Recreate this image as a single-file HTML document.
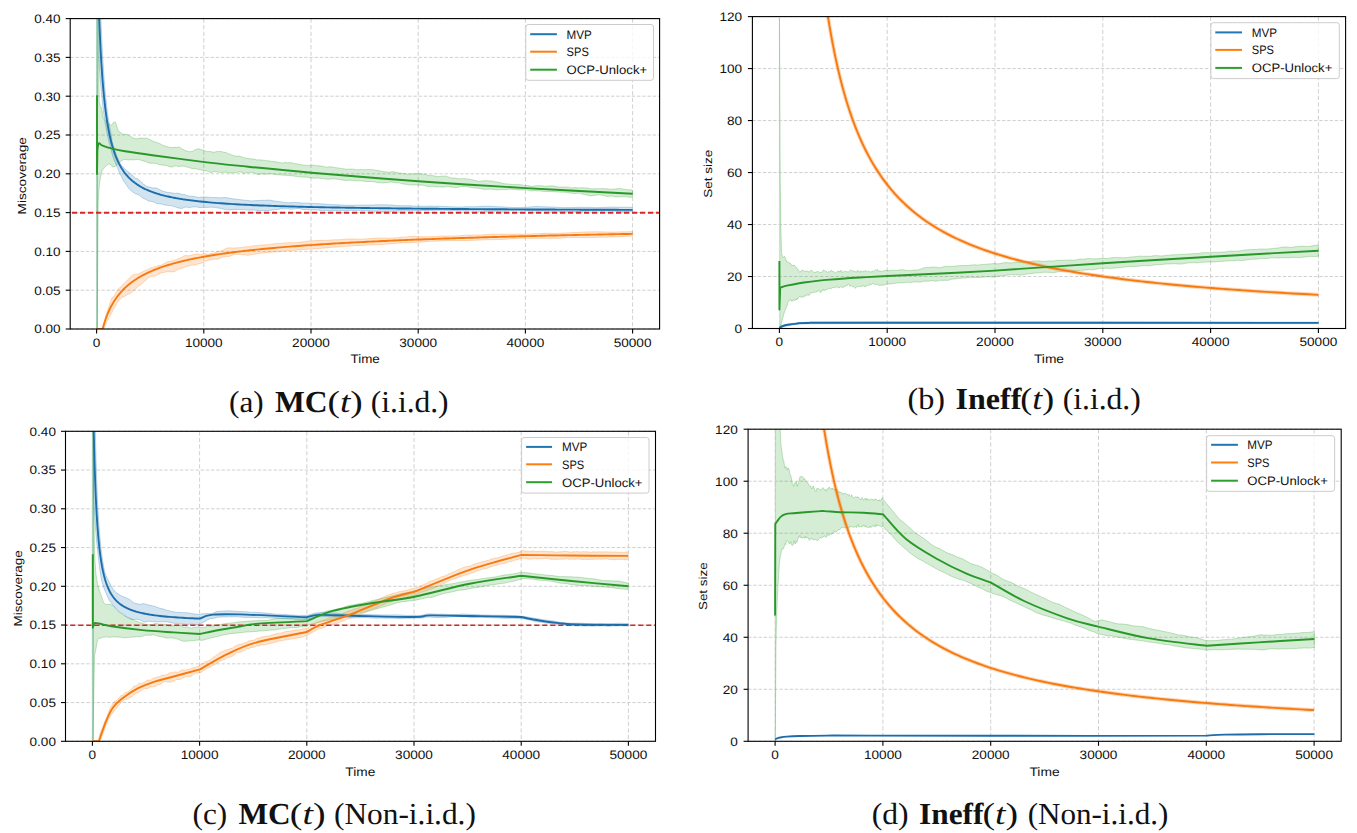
<!DOCTYPE html>
<html><head><meta charset="utf-8"><title>Figure</title>
<style>html,body{margin:0;padding:0;background:#fff;width:1357px;height:833px;overflow:hidden}svg{display:block}text{fill:#111;text-rendering:geometricPrecision}</style>
</head><body>
<svg width="1357" height="833" viewBox="0 0 1357 833">
<rect width="1357" height="833" fill="#fff"/>
<clipPath id="ca"><rect x="70.2" y="18.6" width="589.4" height="310.4"/></clipPath>
<line x1="96.6" y1="18.6" x2="96.6" y2="329" stroke="#c4c4c4" stroke-width="0.8" stroke-dasharray="4.2 2.4"/>
<line x1="203.8" y1="18.6" x2="203.8" y2="329" stroke="#c4c4c4" stroke-width="0.8" stroke-dasharray="4.2 2.4"/>
<line x1="311" y1="18.6" x2="311" y2="329" stroke="#c4c4c4" stroke-width="0.8" stroke-dasharray="4.2 2.4"/>
<line x1="418.2" y1="18.6" x2="418.2" y2="329" stroke="#c4c4c4" stroke-width="0.8" stroke-dasharray="4.2 2.4"/>
<line x1="525.4" y1="18.6" x2="525.4" y2="329" stroke="#c4c4c4" stroke-width="0.8" stroke-dasharray="4.2 2.4"/>
<line x1="632.6" y1="18.6" x2="632.6" y2="329" stroke="#c4c4c4" stroke-width="0.8" stroke-dasharray="4.2 2.4"/>
<line x1="70.2" y1="329" x2="659.6" y2="329" stroke="#c4c4c4" stroke-width="0.8" stroke-dasharray="3.4 1.8"/>
<line x1="70.2" y1="290.2" x2="659.6" y2="290.2" stroke="#c4c4c4" stroke-width="0.8" stroke-dasharray="3.4 1.8"/>
<line x1="70.2" y1="251.4" x2="659.6" y2="251.4" stroke="#c4c4c4" stroke-width="0.8" stroke-dasharray="3.4 1.8"/>
<line x1="70.2" y1="212.6" x2="659.6" y2="212.6" stroke="#c4c4c4" stroke-width="0.8" stroke-dasharray="3.4 1.8"/>
<line x1="70.2" y1="173.8" x2="659.6" y2="173.8" stroke="#c4c4c4" stroke-width="0.8" stroke-dasharray="3.4 1.8"/>
<line x1="70.2" y1="135" x2="659.6" y2="135" stroke="#c4c4c4" stroke-width="0.8" stroke-dasharray="3.4 1.8"/>
<line x1="70.2" y1="96.2" x2="659.6" y2="96.2" stroke="#c4c4c4" stroke-width="0.8" stroke-dasharray="3.4 1.8"/>
<line x1="70.2" y1="57.4" x2="659.6" y2="57.4" stroke="#c4c4c4" stroke-width="0.8" stroke-dasharray="3.4 1.8"/>
<line x1="70.2" y1="18.6" x2="659.6" y2="18.6" stroke="#c4c4c4" stroke-width="0.8" stroke-dasharray="3.4 1.8"/>
<rect x="96.1" y="18.6" width="1.8" height="310.4" fill="#b4d9c9" clip-path="url(#ca)"/>
<path d="M97.2,0.64 L98.2,0.82 L99.2,102.15 L100.2,106.15 L101.2,107.51 L102.2,111.77 L103.2,117.88 L104.2,119.82 L105.2,120.72 L106.2,121.42 L107.2,121.95 L108.2,122.47 L109.2,123.77 L110.2,124.92 L111.2,125.18 L112.2,124.25 L113.2,122.87 L114.2,121.93 L115.2,122.07 L116.2,124.43 L117.2,128.03 L118.2,130.29 L119.2,131.55 L120.2,132.29 L121.2,133.16 L122.2,133.84 L123.2,134.25 L124.2,134.26 L125.2,134.32 L126.2,134.28 L127.2,134.62 L128.2,134.86 L129.2,135.53 L130.2,136.41 L131.2,136.75 L132.2,137.58 L133.2,138.04 L134.2,138.32 L135.2,138.64 L136.2,138.82 L137.2,138.83 L138.2,138.52 L139.2,138.25 L140.2,138.1 L141.2,138.04 L142.2,138.18 L143.2,138.22 L144.2,138.37 L145.2,138.06 L146.2,138.15 L147.2,138.39 L148.2,138.72 L149.2,139.51 L150.2,139.57 L151.2,140.21 L152.2,140.81 L153.2,141.46 L154.2,141.53 L155.2,142.12 L156.2,142.33 L157.2,142.69 L158.2,143.03 L159.2,143.54 L160.2,143.8 L161.2,144.39 L162.2,144.99 L163.2,145.5 L164.2,145.48 L165.2,146.22 L166.2,146.54 L167.2,146.62 L168.2,146.89 L169.2,147.11 L170.2,147.52 L171.2,147.46 L172.2,147.37 L173.2,147.34 L174.2,147.34 L175.2,147.36 L176.2,147.37 L177.2,147.55 L178.2,147.01 L179.2,146.89 L180.2,147.7 L181.2,148.41 L182.2,149.06 L183.2,149.52 L184.2,150.01 L185.2,150.52 L186.2,150.92 L187.2,151.05 L188.2,151.33 L189.2,151.77 L190.2,151.66 L191.2,151.45 L192.2,151.57 L193.2,151.03 L194.2,150.28 L195.2,149.71 L196.2,149.46 L197.2,149.08 L198.2,148.88 L199.2,148.92 L200.2,149.28 L201.2,149.74 L202.2,149.82 L203.2,150 L204.2,150.61 L205.2,151.02 L206.2,151.44 L207.2,151.65 L208.2,151.54 L209.2,151.53 L210.2,151.57 L211.2,151.64 L212.2,152.06 L213.2,152.29 L214.2,152.12 L215.2,151.88 L216.2,151.67 L217.2,151.47 L218.2,151.4 L219.2,151.45 L220.2,151.48 L221.2,151.62 L222.2,151.72 L223.2,152.15 L224.2,152.32 L225.2,152.31 L226.2,152.5 L227.2,153.23 L228.2,153.83 L229.2,154.01 L230.2,154.31 L231.2,154.69 L232.2,155.17 L233.2,155.4 L234.2,155.88 L235.2,156.04 L236.2,156.28 L237.2,156.22 L238.2,156.12 L239.2,156.03 L240.2,156.33 L241.2,156.77 L242.2,157.26 L243.2,157.52 L244.2,157.69 L245.2,158.08 L246.2,158.35 L247.2,158.34 L248.2,158.38 L249.2,158.56 L250.2,158.86 L251.2,158.93 L252.2,158.84 L253.2,159.04 L254.2,159.11 L255.2,159.34 L256.2,159.79 L257.2,159.89 L258.2,159.76 L259.2,159.87 L260.2,159.95 L261.2,159.97 L262.2,160.09 L263.2,160.21 L264.2,160.21 L265.2,160.47 L266.2,160.68 L267.2,160.76 L268.2,160.75 L269.2,160.94 L270.2,161.07 L271.2,161.32 L272.2,161.48 L273.2,161.55 L274.2,161.59 L275.2,161.75 L276.2,161.99 L277.2,162.11 L278.2,162.38 L279.2,162.6 L280.2,162.76 L281.2,163.01 L282.2,162.94 L283.2,162.89 L284.2,162.52 L285.2,162.46 L286.2,162.7 L287.2,162.77 L288.2,162.72 L289.2,162.69 L290.2,162.61 L291.2,162.76 L292.2,162.96 L293.2,163.26 L294.2,163.57 L295.2,163.72 L296.2,163.85 L297.2,163.91 L298.2,164.07 L299.2,164.28 L300.2,164.49 L301.2,164.74 L302.2,164.83 L303.2,165.08 L304.2,165.06 L305.2,165.23 L306.2,165.27 L307.2,165.46 L308.2,165.43 L309.2,165.4 L310.2,165.33 L311.2,165.15 L312.2,165.04 L313.2,165.05 L314.2,165.34 L315.2,165.41 L316.2,165.56 L317.2,165.77 L318.2,165.97 L319.2,165.87 L320.2,166 L321.2,166.09 L322.2,166.21 L323.2,166.24 L324.2,166.53 L325.2,166.88 L326.2,167.12 L327.2,167.15 L328.2,166.96 L329.2,166.91 L330.2,166.85 L331.2,166.79 L332.2,166.91 L333.2,167.22 L334.2,167.42 L335.2,167.58 L336.2,167.76 L337.2,167.78 L338.2,167.97 L339.2,168.09 L340.2,168.24 L341.2,168.43 L342.2,168.58 L343.2,168.75 L344.2,168.93 L345.2,169.13 L346.2,169.09 L347.2,169.17 L348.2,169.15 L349.2,169.09 L350.2,169.13 L351.2,169.08 L352.2,169.19 L353.2,169.15 L354.2,169.25 L355.2,169.45 L356.2,169.63 L357.2,169.72 L358.2,169.71 L359.2,169.6 L360.2,169.54 L361.2,169.62 L362.2,169.63 L363.2,169.59 L364.2,169.69 L365.2,169.63 L366.2,169.52 L367.2,169.52 L368.2,169.41 L369.2,169.44 L370.2,169.55 L371.2,169.53 L372.2,169.69 L373.2,169.78 L374.2,170.02 L375.2,170.1 L376.2,170.24 L377.2,170.32 L378.2,170.58 L379.2,170.87 L380.2,171 L381.2,171.05 L382.2,171.38 L383.2,171.58 L384.2,171.66 L385.2,171.82 L386.2,171.8 L387.2,171.95 L388.2,172.15 L389.2,172.21 L390.2,172.1 L391.2,171.8 L392.2,171.67 L393.2,171.78 L394.2,171.8 L395.2,172 L396.2,172.2 L397.2,172.59 L398.2,172.82 L399.2,172.95 L400.2,173.02 L401.2,173.11 L402.2,173.22 L403.2,173.4 L404.2,173.56 L405.2,173.72 L406.2,173.86 L407.2,174.12 L408.2,174.15 L409.2,174.21 L410.2,174.1 L411.2,173.84 L412.2,173.72 L413.2,173.87 L414.2,173.82 L415.2,173.82 L416.2,173.8 L417.2,173.78 L418.2,173.72 L419.2,173.79 L420.2,173.83 L421.2,173.88 L422.2,173.88 L423.2,174.18 L424.2,174.3 L425.2,174.33 L426.2,174.57 L427.2,174.89 L428.2,175.19 L429.2,175.38 L430.2,175.58 L431.2,175.58 L432.2,175.57 L433.2,175.72 L434.2,175.98 L435.2,176.13 L436.2,176.39 L437.2,176.56 L438.2,176.6 L439.2,176.58 L440.2,176.43 L441.2,176.31 L442.2,176.16 L443.2,176.07 L444.2,176.02 L445.2,176.14 L446.2,176.28 L447.2,176.52 L448.2,176.93 L449.2,177.29 L450.2,177.58 L451.2,177.92 L452.2,178.08 L453.2,178.13 L454.2,178.05 L455.2,178.07 L456.2,178.33 L457.2,178.52 L458.2,178.69 L459.2,178.78 L460.2,178.83 L461.2,178.72 L462.2,178.65 L463.2,178.47 L464.2,178.4 L465.2,178.64 L466.2,178.91 L467.2,178.92 L468.2,179.17 L469.2,179.24 L470.2,179.39 L471.2,179.59 L472.2,179.77 L473.2,179.92 L474.2,180.22 L475.2,180.51 L476.2,180.76 L477.2,180.93 L478.2,181.27 L479.2,181.43 L480.2,181.37 L481.2,181 L482.2,180.85 L483.2,180.67 L484.2,180.76 L485.2,180.76 L486.2,180.64 L487.2,180.65 L488.2,180.84 L489.2,180.94 L490.2,180.9 L491.2,180.91 L492.2,180.89 L493.2,181.18 L494.2,181.51 L495.2,181.77 L496.2,181.97 L497.2,181.89 L498.2,181.96 L499.2,182.33 L500.2,182.6 L501.2,182.96 L502.2,183.3 L503.2,183.55 L504.2,183.77 L505.2,183.82 L506.2,183.71 L507.2,183.9 L508.2,184.15 L509.2,184.16 L510.2,184.27 L511.2,184.29 L512.2,184.38 L513.2,184.57 L514.2,184.58 L515.2,184.48 L516.2,184.45 L517.2,184.31 L518.2,184.38 L519.2,184.57 L520.2,184.64 L521.2,184.72 L522.2,184.97 L523.2,185.19 L524.2,185.39 L525.2,185.45 L526.2,185.41 L527.2,185.45 L528.2,185.6 L529.2,185.82 L530.2,186.13 L531.2,186.29 L532.2,186.28 L533.2,186.14 L534.2,186 L535.2,185.95 L536.2,185.78 L537.2,185.68 L538.2,185.54 L539.2,185.64 L540.2,185.79 L541.2,185.71 L542.2,185.76 L543.2,186.03 L544.2,186.32 L545.2,186.36 L546.2,186.19 L547.2,186.07 L548.2,186 L549.2,185.92 L550.2,185.93 L551.2,185.9 L552.2,185.85 L553.2,185.97 L554.2,186.12 L555.2,186.26 L556.2,186.48 L557.2,186.85 L558.2,187.08 L559.2,187.02 L560.2,187.01 L561.2,187.05 L562.2,187.02 L563.2,187.01 L564.2,187.09 L565.2,186.95 L566.2,186.94 L567.2,187.01 L568.2,187.14 L569.2,187.38 L570.2,187.64 L571.2,187.82 L572.2,187.8 L573.2,187.67 L574.2,187.54 L575.2,187.58 L576.2,187.6 L577.2,187.75 L578.2,187.9 L579.2,187.89 L580.2,187.83 L581.2,187.79 L582.2,187.83 L583.2,187.85 L584.2,187.81 L585.2,187.89 L586.2,188 L587.2,187.95 L588.2,188.11 L589.2,188.31 L590.2,188.68 L591.2,188.81 L592.2,188.87 L593.2,188.87 L594.2,188.82 L595.2,188.74 L596.2,188.6 L597.2,188.69 L598.2,188.73 L599.2,188.65 L600.2,188.77 L601.2,188.74 L602.2,188.58 L603.2,188.61 L604.2,188.67 L605.2,188.73 L606.2,188.83 L607.2,188.83 L608.2,188.99 L609.2,189.15 L610.2,189.26 L611.2,189.23 L612.2,189.18 L613.2,189.12 L614.2,188.93 L615.2,188.98 L616.2,188.83 L617.2,188.64 L618.2,188.56 L619.2,188.44 L620.2,188.49 L621.2,188.73 L622.2,188.92 L623.2,189.15 L624.2,189.18 L625.2,189.28 L626.2,189.5 L627.2,189.82 L628.2,189.84 L629.2,189.81 L630.2,189.84 L631.2,189.98 L632.2,190.25 L632.6,190.5 L632.6,196.7 L632.2,196.92 L631.2,197.19 L630.2,197.31 L629.2,197.17 L628.2,197.01 L627.2,196.9 L626.2,196.76 L625.2,196.73 L624.2,196.84 L623.2,196.66 L622.2,196.71 L621.2,196.78 L620.2,196.8 L619.2,196.8 L618.2,196.84 L617.2,196.93 L616.2,196.88 L615.2,196.74 L614.2,196.59 L613.2,196.4 L612.2,196.06 L611.2,196.01 L610.2,196.16 L609.2,196.21 L608.2,196.39 L607.2,196.42 L606.2,196.29 L605.2,195.99 L604.2,195.77 L603.2,195.6 L602.2,195.41 L601.2,195.14 L600.2,194.97 L599.2,194.82 L598.2,194.74 L597.2,194.91 L596.2,195.25 L595.2,195.34 L594.2,195.43 L593.2,195.54 L592.2,195.73 L591.2,195.83 L590.2,195.73 L589.2,195.58 L588.2,195.41 L587.2,195.05 L586.2,194.85 L585.2,194.71 L584.2,194.53 L583.2,194.24 L582.2,194 L581.2,193.61 L580.2,193.3 L579.2,193.15 L578.2,193.15 L577.2,193.25 L576.2,193.33 L575.2,193.45 L574.2,193.49 L573.2,193.51 L572.2,193.28 L571.2,193.03 L570.2,192.85 L569.2,192.86 L568.2,192.81 L567.2,192.56 L566.2,192.35 L565.2,192.36 L564.2,192.34 L563.2,192.1 L562.2,192.13 L561.2,192.14 L560.2,192.15 L559.2,192.01 L558.2,191.87 L557.2,191.94 L556.2,191.99 L555.2,191.81 L554.2,191.77 L553.2,191.69 L552.2,191.66 L551.2,191.64 L550.2,191.6 L549.2,191.56 L548.2,191.51 L547.2,191.6 L546.2,191.58 L545.2,191.55 L544.2,191.52 L543.2,191.53 L542.2,191.29 L541.2,191.1 L540.2,190.92 L539.2,190.99 L538.2,190.99 L537.2,190.91 L536.2,190.81 L535.2,190.74 L534.2,190.73 L533.2,190.7 L532.2,190.82 L531.2,190.84 L530.2,190.67 L529.2,190.51 L528.2,190.22 L527.2,189.98 L526.2,189.83 L525.2,189.79 L524.2,189.82 L523.2,189.96 L522.2,189.86 L521.2,189.96 L520.2,189.9 L519.2,189.9 L518.2,189.97 L517.2,189.76 L516.2,189.63 L515.2,189.62 L514.2,189.46 L513.2,189.35 L512.2,189.26 L511.2,189.16 L510.2,189.04 L509.2,189.1 L508.2,189.28 L507.2,189.5 L506.2,189.63 L505.2,189.65 L504.2,189.55 L503.2,189.61 L502.2,189.62 L501.2,189.47 L500.2,189.53 L499.2,189.78 L498.2,189.81 L497.2,189.9 L496.2,189.86 L495.2,189.66 L494.2,189.43 L493.2,189.21 L492.2,189.24 L491.2,189.14 L490.2,189.05 L489.2,189.2 L488.2,189.26 L487.2,189.31 L486.2,189.39 L485.2,189.5 L484.2,189.36 L483.2,189.26 L482.2,188.96 L481.2,188.64 L480.2,188.45 L479.2,188.38 L478.2,188.26 L477.2,188.02 L476.2,187.94 L475.2,187.94 L474.2,187.86 L473.2,187.74 L472.2,187.55 L471.2,187.46 L470.2,187.27 L469.2,187.04 L468.2,186.84 L467.2,186.75 L466.2,186.62 L465.2,186.5 L464.2,186.49 L463.2,186.55 L462.2,186.39 L461.2,186.44 L460.2,186.6 L459.2,186.92 L458.2,187.29 L457.2,187.41 L456.2,187.62 L455.2,187.73 L454.2,187.52 L453.2,187.31 L452.2,187.16 L451.2,187.02 L450.2,186.88 L449.2,186.77 L448.2,186.75 L447.2,186.77 L446.2,186.71 L445.2,186.83 L444.2,187.05 L443.2,187.13 L442.2,187.16 L441.2,186.95 L440.2,186.9 L439.2,186.83 L438.2,186.77 L437.2,186.91 L436.2,186.95 L435.2,186.78 L434.2,186.62 L433.2,186.48 L432.2,186.31 L431.2,186.25 L430.2,186.35 L429.2,186.52 L428.2,186.48 L427.2,186.37 L426.2,186.02 L425.2,185.77 L424.2,185.62 L423.2,185.24 L422.2,185.09 L421.2,185.11 L420.2,185.2 L419.2,185.15 L418.2,185.05 L417.2,184.95 L416.2,184.87 L415.2,184.91 L414.2,184.92 L413.2,184.86 L412.2,184.94 L411.2,185.07 L410.2,184.95 L409.2,184.71 L408.2,184.59 L407.2,184.41 L406.2,184.28 L405.2,184.28 L404.2,184.14 L403.2,183.9 L402.2,183.81 L401.2,183.41 L400.2,183.08 L399.2,182.87 L398.2,182.77 L397.2,182.8 L396.2,182.86 L395.2,182.73 L394.2,182.4 L393.2,182.34 L392.2,182.18 L391.2,182.07 L390.2,182.14 L389.2,182.21 L388.2,182.35 L387.2,182.46 L386.2,182.45 L385.2,182.64 L384.2,182.73 L383.2,182.91 L382.2,182.87 L381.2,182.84 L380.2,182.82 L379.2,182.73 L378.2,182.71 L377.2,182.55 L376.2,182.33 L375.2,181.95 L374.2,181.8 L373.2,181.68 L372.2,181.57 L371.2,181.49 L370.2,181.49 L369.2,181.54 L368.2,181.47 L367.2,181.46 L366.2,181.41 L365.2,181.32 L364.2,181.15 L363.2,181.02 L362.2,180.91 L361.2,180.9 L360.2,180.85 L359.2,180.75 L358.2,180.69 L357.2,180.8 L356.2,180.85 L355.2,180.66 L354.2,180.55 L353.2,180.37 L352.2,180.46 L351.2,180.27 L350.2,180.17 L349.2,180.23 L348.2,180.35 L347.2,180.5 L346.2,180.49 L345.2,180.34 L344.2,180.35 L343.2,180.13 L342.2,179.92 L341.2,179.71 L340.2,179.56 L339.2,179.37 L338.2,179.38 L337.2,179.22 L336.2,179.09 L335.2,178.96 L334.2,178.8 L333.2,178.68 L332.2,178.79 L331.2,178.88 L330.2,179.07 L329.2,179.2 L328.2,179.33 L327.2,179.26 L326.2,179.09 L325.2,178.85 L324.2,178.84 L323.2,178.61 L322.2,178.47 L321.2,178.41 L320.2,178.28 L319.2,178.21 L318.2,178.13 L317.2,177.94 L316.2,178 L315.2,178.16 L314.2,178.22 L313.2,178.19 L312.2,178.06 L311.2,177.98 L310.2,177.87 L309.2,177.64 L308.2,177.4 L307.2,177.29 L306.2,177.14 L305.2,177.02 L304.2,177.01 L303.2,177.06 L302.2,177.07 L301.2,177.09 L300.2,176.87 L299.2,176.82 L298.2,176.76 L297.2,176.61 L296.2,176.39 L295.2,176.3 L294.2,176.08 L293.2,175.93 L292.2,175.88 L291.2,175.8 L290.2,175.67 L289.2,175.48 L288.2,175.42 L287.2,175.46 L286.2,175.31 L285.2,175.23 L284.2,175.17 L283.2,175.15 L282.2,175.04 L281.2,175.01 L280.2,174.85 L279.2,174.88 L278.2,174.8 L277.2,174.75 L276.2,174.63 L275.2,174.51 L274.2,174.34 L273.2,174.13 L272.2,173.88 L271.2,173.88 L270.2,173.85 L269.2,173.9 L268.2,174.03 L267.2,174.12 L266.2,174.14 L265.2,174.2 L264.2,174.09 L263.2,174.04 L262.2,173.95 L261.2,173.92 L260.2,173.94 L259.2,174.64 L258.2,174.38 L257.2,174.22 L256.2,174.04 L255.2,173.33 L254.2,172.71 L253.2,172.4 L252.2,172.27 L251.2,172.39 L250.2,172.35 L249.2,172.64 L248.2,172.82 L247.2,172.69 L246.2,172.78 L245.2,173.26 L244.2,173.33 L243.2,172.96 L242.2,172.53 L241.2,172.13 L240.2,171.86 L239.2,172.02 L238.2,172.08 L237.2,172.4 L236.2,172.46 L235.2,172.61 L234.2,172.58 L233.2,172.79 L232.2,172.81 L231.2,172.88 L230.2,173.03 L229.2,172.79 L228.2,172.63 L227.2,172.41 L226.2,172.3 L225.2,172.26 L224.2,172.13 L223.2,172.38 L222.2,172.6 L221.2,172.41 L220.2,172.36 L219.2,172.37 L218.2,172.26 L217.2,172.01 L216.2,171.87 L215.2,171.87 L214.2,171.68 L213.2,171.87 L212.2,172.16 L211.2,172.38 L210.2,172.55 L209.2,172 L208.2,171.61 L207.2,171.28 L206.2,170.79 L205.2,170.52 L204.2,170.4 L203.2,170.3 L202.2,170.12 L201.2,169.93 L200.2,169.77 L199.2,169.71 L198.2,169.43 L197.2,169.08 L196.2,168.8 L195.2,168.78 L194.2,168.72 L193.2,168.65 L192.2,168.46 L191.2,168.25 L190.2,168.08 L189.2,167.46 L188.2,167.31 L187.2,167.08 L186.2,166.95 L185.2,166.6 L184.2,166.23 L183.2,166.12 L182.2,166.28 L181.2,166.04 L180.2,166.27 L179.2,166.56 L178.2,166.38 L177.2,166.17 L176.2,165.72 L175.2,165.9 L174.2,166.12 L173.2,166.75 L172.2,166.91 L171.2,167.06 L170.2,166.93 L169.2,166.64 L168.2,166.33 L167.2,165.85 L166.2,165.42 L165.2,165.38 L164.2,165.35 L163.2,165.29 L162.2,165.1 L161.2,165.02 L160.2,164.9 L159.2,164.51 L158.2,164.3 L157.2,163.77 L156.2,163.5 L155.2,163.36 L154.2,163.35 L153.2,163.23 L152.2,163.26 L151.2,163.28 L150.2,163.14 L149.2,162.94 L148.2,162.98 L147.2,162.62 L146.2,161.48 L145.2,161.39 L144.2,161.07 L143.2,160.88 L142.2,160.7 L141.2,160.36 L140.2,159.91 L139.2,159.61 L138.2,159.49 L137.2,159.34 L136.2,159.41 L135.2,159.78 L134.2,159.76 L133.2,159.91 L132.2,159.76 L131.2,159.66 L130.2,159.77 L129.2,160.07 L128.2,159.9 L127.2,159.7 L126.2,159.6 L125.2,159.48 L124.2,159.5 L123.2,159.78 L122.2,160.35 L121.2,161.01 L120.2,161.59 L119.2,162.68 L118.2,163.83 L117.2,164.6 L116.2,165.42 L115.2,166.22 L114.2,166.64 L113.2,167.05 L112.2,166.66 L111.2,165.24 L110.2,164.29 L109.2,164.13 L108.2,164.3 L107.2,164.81 L106.2,165.76 L105.2,167.02 L104.2,167.86 L103.2,168.98 L102.2,170.51 L101.2,173.86 L100.2,179.2 L99.2,186.26 L98.2,203.52 L97.2,329.36 Z" fill="#2ca02c" fill-opacity="0.2" stroke="#2ca02c" stroke-opacity="0.30000000000000004" stroke-width="0.9" stroke-linejoin="round" clip-path="url(#ca)"/>
<path d="M98.9,-52.37 L99.15,-41.06 L99.4,-30.63 L99.65,-20.96 L99.9,-12 L100.15,-3.65 L100.4,4.13 L100.65,11.4 L100.9,18.21 L101.15,24.6 L101.4,30.61 L101.65,36.27 L101.9,41.61 L102.15,46.65 L102.4,51.42 L102.65,55.94 L102.9,60.23 L103.15,64.3 L103.4,68.18 L103.65,71.87 L103.9,75.38 L104.15,78.73 L104.4,81.94 L104.65,85 L104.9,87.93 L105.15,90.73 L105.4,93.42 L105.65,96 L105.9,98.48 L106.15,100.86 L106.4,103.15 L106.65,105.35 L106.9,107.47 L107.15,109.51 L107.4,111.48 L107.65,113.38 L107.9,115.21 L108.15,116.98 L108.4,118.69 L108.65,120.34 L108.9,121.94 L109.15,123.49 L109.4,124.99 L109.65,126.44 L109.9,127.85 L110.15,129.21 L111.15,134.28 L112.15,141.57 L113.15,145.1 L114.15,148.29 L115.15,151.38 L116.15,154.06 L117.15,156.52 L118.15,159.13 L119.15,161.38 L120.15,163.34 L121.15,164.98 L122.15,166.16 L123.15,167.17 L124.15,168.05 L125.15,169.16 L126.15,169.97 L127.15,170.8 L128.15,171.58 L129.15,172.52 L130.15,173.55 L131.15,174.56 L132.15,175.05 L133.15,175.93 L134.15,177.06 L135.15,177.99 L136.15,178.41 L137.15,178.54 L138.15,179.04 L139.15,180.08 L140.15,180.89 L141.15,181.81 L142.15,182.98 L143.15,183.88 L144.15,184.56 L145.15,185.24 L146.15,185.93 L147.15,186.57 L148.15,186.87 L149.15,187.09 L150.15,187.24 L151.15,187.29 L152.15,187.8 L153.15,188 L154.15,187.95 L155.15,187.76 L156.15,188.06 L157.15,188.49 L158.15,188.65 L159.15,189.26 L160.15,189.89 L161.15,190.25 L162.15,190.98 L163.15,191.31 L164.15,191.54 L165.15,191.86 L166.15,192.16 L167.15,192.33 L168.15,192.52 L169.15,192.45 L170.15,192.59 L171.15,192.89 L172.15,192.94 L173.15,193.01 L174.15,193.36 L175.15,193.47 L176.15,193.22 L177.15,193.08 L178.15,193.31 L179.15,193.55 L180.15,193.83 L181.15,194.2 L182.15,194.19 L183.15,194.47 L184.15,194.43 L185.15,194.74 L186.15,195.3 L187.15,195.74 L188.15,195.94 L189.15,196.01 L190.15,196.06 L191.15,196.16 L192.15,196.3 L193.15,196.36 L194.15,196.56 L195.15,196.77 L196.15,196.92 L197.15,197.18 L198.15,197.34 L199.15,197.47 L200.15,197.17 L203.15,197.03 L206.15,197.07 L209.15,197.24 L212.15,197.45 L215.15,197.45 L218.15,197.68 L221.15,197.83 L224.15,197.46 L227.15,197.76 L230.15,198.33 L233.15,198.81 L236.15,199.18 L239.15,199.48 L242.15,199.93 L245.15,200.23 L248.15,200.49 L251.15,200.93 L254.15,200.76 L257.15,200.52 L260.15,200.43 L263.15,200.33 L266.15,200.24 L269.15,200.09 L272.15,200.6 L275.15,201.16 L278.15,201.4 L281.15,201.91 L284.15,202.44 L287.15,202.71 L290.15,202.77 L293.15,202.43 L296.15,202.53 L299.15,202.71 L302.15,203.08 L305.15,203.18 L308.15,203.14 L311.15,203.4 L314.15,203.44 L317.15,203.63 L320.15,203.73 L323.15,204 L326.15,204.25 L329.15,204.38 L332.15,204.54 L335.15,204.72 L338.15,204.83 L341.15,204.97 L344.15,205.17 L347.15,205.25 L350.15,205.26 L353.15,205.36 L356.15,205.18 L359.15,205.19 L362.15,205.12 L365.15,205.11 L368.15,205.1 L371.15,205.02 L374.15,204.92 L377.15,204.73 L380.15,204.69 L383.15,204.81 L386.15,204.81 L389.15,204.9 L392.15,205.07 L395.15,205.41 L398.15,205.59 L401.15,205.69 L404.15,205.63 L407.15,205.69 L410.15,205.76 L413.15,205.98 L416.15,206.13 L419.15,206.12 L422.15,206.25 L425.15,206.23 L428.15,206.12 L431.15,206.05 L434.15,206.22 L437.15,206.25 L440.15,206.32 L443.15,206.47 L446.15,206.62 L449.15,206.75 L452.15,206.75 L455.15,206.92 L458.15,207.01 L461.15,206.98 L464.15,206.82 L467.15,206.73 L470.15,206.77 L473.15,206.7 L476.15,206.65 L479.15,206.59 L482.15,206.37 L485.15,206.17 L488.15,206.21 L491.15,206.27 L494.15,206.52 L497.15,206.66 L500.15,206.76 L503.15,206.94 L506.15,207.14 L509.15,207.26 L512.15,207.41 L515.15,207.44 L518.15,207.53 L521.15,207.54 L524.15,207.42 L527.15,207.15 L530.15,206.96 L533.15,206.67 L536.15,206.57 L539.15,206.56 L542.15,206.74 L545.15,206.77 L548.15,206.9 L551.15,207.02 L554.15,207.15 L557.15,207.27 L560.15,207.46 L563.15,207.63 L566.15,207.62 L569.15,207.62 L572.15,207.58 L575.15,207.42 L578.15,207.3 L581.15,207.31 L584.15,207.38 L587.15,207.31 L590.15,207.42 L593.15,207.59 L596.15,207.65 L599.15,207.6 L602.15,207.56 L605.15,207.41 L608.15,207.22 L611.15,207.14 L614.15,207.19 L617.15,207.28 L620.15,207.22 L623.15,207.18 L626.15,207.2 L629.15,207.26 L632.15,207.45 L632.6,207.6 L632.6,211.42 L632.15,211.46 L629.15,211.46 L626.15,211.54 L623.15,211.55 L620.15,211.5 L617.15,211.46 L614.15,211.15 L611.15,210.93 L608.15,210.95 L605.15,211.07 L602.15,211.18 L599.15,211.05 L596.15,211.01 L593.15,211.09 L590.15,211.08 L587.15,211.12 L584.15,211.33 L581.15,211.51 L578.15,211.68 L575.15,211.7 L572.15,211.67 L569.15,211.56 L566.15,211.46 L563.15,211.43 L560.15,211.4 L557.15,211.3 L554.15,211.3 L551.15,211.23 L548.15,211.1 L545.15,211.07 L542.15,211.06 L539.15,211.03 L536.15,211.05 L533.15,210.97 L530.15,210.95 L527.15,210.8 L524.15,210.67 L521.15,210.67 L518.15,210.65 L515.15,210.78 L512.15,210.78 L509.15,210.85 L506.15,210.96 L503.15,211.17 L500.15,211.18 L497.15,211.16 L494.15,211.16 L491.15,211.31 L488.15,211.36 L485.15,211.34 L482.15,211.21 L479.15,211.25 L476.15,211.08 L473.15,210.86 L470.15,210.87 L467.15,210.92 L464.15,210.99 L461.15,210.94 L458.15,210.78 L455.15,210.71 L452.15,210.44 L449.15,210.51 L446.15,210.48 L443.15,210.31 L440.15,210.23 L437.15,210.32 L434.15,210.32 L431.15,210.4 L428.15,210.39 L425.15,210.5 L422.15,210.54 L419.15,210.65 L416.15,210.79 L413.15,210.99 L410.15,211.02 L407.15,211 L404.15,211.12 L401.15,211.02 L398.15,210.99 L395.15,211.13 L392.15,211.25 L389.15,211.32 L386.15,211.46 L383.15,211.51 L380.15,211.45 L377.15,211.33 L374.15,211.28 L371.15,211.2 L368.15,210.98 L365.15,210.87 L362.15,210.73 L359.15,210.58 L356.15,210.58 L353.15,210.48 L350.15,210.44 L347.15,210.55 L344.15,210.58 L341.15,210.68 L338.15,210.61 L335.15,210.7 L332.15,210.7 L329.15,210.56 L326.15,210.46 L323.15,210.45 L320.15,210.38 L317.15,210.07 L314.15,209.95 L311.15,209.87 L308.15,209.73 L305.15,209.64 L302.15,209.47 L299.15,208.38 L296.15,208.68 L293.15,209.12 L290.15,209.27 L287.15,208.84 L284.15,208.75 L281.15,208.76 L278.15,209.39 L275.15,209.72 L272.15,209.97 L269.15,210.57 L266.15,210.49 L263.15,210.7 L260.15,210.58 L257.15,210.49 L254.15,210.07 L251.15,210.08 L248.15,210.12 L245.15,209.87 L242.15,209.59 L239.15,209.48 L236.15,209.38 L233.15,209.63 L230.15,209.91 L227.15,209.86 L224.15,209.28 L221.15,208.54 L218.15,208 L215.15,207.49 L212.15,207.2 L209.15,207.3 L206.15,207.41 L203.15,207.42 L200.15,207.51 L199.15,207.44 L198.15,207.31 L197.15,206.99 L196.15,206.83 L195.15,206.9 L194.15,206.99 L193.15,206.86 L192.15,207.09 L191.15,207.25 L190.15,207.54 L189.15,207.57 L188.15,207.36 L187.15,207.13 L186.15,207.04 L185.15,207.15 L184.15,207.51 L183.15,207.87 L182.15,208.42 L181.15,208.41 L180.15,208.21 L179.15,208.15 L178.15,207.83 L177.15,207.72 L176.15,207.24 L175.15,206.89 L174.15,206.52 L173.15,206.34 L172.15,206.08 L171.15,205.83 L170.15,205.55 L169.15,205.52 L168.15,205.48 L167.15,205.19 L166.15,205.13 L165.15,205.05 L164.15,204.81 L163.15,204.58 L162.15,204.25 L161.15,203.92 L160.15,204.02 L159.15,203.72 L158.15,203.76 L157.15,203.61 L156.15,203.23 L155.15,202.8 L154.15,202.29 L153.15,201.9 L152.15,201.69 L151.15,201.39 L150.15,201.35 L149.15,201.05 L148.15,200.75 L147.15,200.21 L146.15,199.54 L145.15,199.13 L144.15,198.69 L143.15,198.2 L142.15,197.72 L141.15,196.78 L140.15,195.64 L139.15,195.06 L138.15,194.77 L137.15,194.31 L136.15,193.91 L135.15,193.57 L134.15,193.07 L133.15,192.19 L132.15,191.67 L131.15,190.86 L130.15,189.87 L129.15,188.83 L128.15,187.54 L127.15,186.04 L126.15,184.49 L125.15,182.91 L124.15,181.7 L123.15,180.19 L122.15,178.09 L121.15,175.97 L120.15,174.11 L119.15,171.97 L118.15,169.62 L117.15,167.36 L116.15,164.7 L115.15,162.45 L114.15,160.17 L113.15,157.43 L112.15,154.12 L111.15,150.21 L110.15,146.14 L109.9,145.25 L109.65,144.34 L109.4,143.41 L109.15,142.45 L108.9,141.47 L108.65,140.46 L108.4,139.43 L108.15,138.36 L107.9,137.27 L107.65,136.15 L107.4,134.99 L107.15,133.8 L106.9,132.57 L106.65,131.31 L106.4,130.01 L106.15,128.67 L105.9,127.29 L105.65,125.87 L105.4,124.4 L105.15,122.88 L104.9,121.31 L104.65,119.69 L104.4,118.01 L104.15,116.28 L103.9,114.48 L103.65,112.63 L103.4,110.7 L103.15,108.7 L102.9,106.63 L102.65,104.48 L102.4,102.24 L102.15,99.92 L101.9,97.5 L101.65,94.98 L101.4,92.36 L101.15,89.63 L100.9,86.77 L100.65,83.79 L100.4,80.67 L100.15,77.41 L99.9,73.99 L99.65,70.41 L99.4,66.65 L99.15,62.7 L98.9,58.54 Z" fill="#1f77b4" fill-opacity="0.2" stroke="#1f77b4" stroke-opacity="0.30000000000000004" stroke-width="0.9" stroke-linejoin="round" clip-path="url(#ca)"/>
<path d="M96.6,328.46 L96.6,328.72 L97.1,328.82 L97.6,328.54 L98.1,328.42 L98.6,328.72 L99.1,329.02 L99.6,329.16 L100.1,328.91 L100.6,329.09 L101.1,329.74 L101.6,330.21 L102.1,330.6 L102.6,330.49 L103.1,328.03 L103.6,325.76 L104.1,323.77 L104.6,321.04 L105.1,318.53 L105.6,316.37 L106.1,314.7 L106.6,313.19 L107.1,311.67 L107.6,310.32 L108.1,309.05 L108.6,307.75 L109.1,306.27 L109.6,304.46 L110.1,302.59 L110.6,301.33 L111.1,299.78 L111.6,298.68 L112.1,297.62 L112.6,297.2 L113.1,296.77 L113.6,296.64 L114.1,296.51 L114.6,295.33 L115.1,294.28 L115.6,293.01 L116.1,292.27 L116.6,291.67 L117.1,290.89 L117.6,290.2 L118.1,289.43 L118.6,288.66 L119.1,288.29 L119.6,287.78 L120.1,287.63 L120.6,286.92 L121.1,286.49 L121.6,285.94 L122.1,285.5 L122.6,284.84 L123.1,284.53 L123.6,284 L124.1,283.66 L124.6,283.02 L125.1,282.31 L125.6,281.68 L126.1,281.45 L126.6,281.1 L127.1,280.73 L127.6,279.93 L128.1,279.42 L128.6,278.9 L129.1,278.31 L129.6,277.73 L130.1,277.15 L131.6,275.88 L133.1,274.92 L134.6,274.43 L136.1,274.22 L137.6,273.98 L139.1,273.44 L140.6,272.8 L142.1,272.05 L143.6,271.29 L145.1,270.54 L146.6,269.97 L148.1,269.39 L149.6,268.42 L151.1,267.8 L152.6,267.65 L154.1,267.07 L155.6,266.64 L157.1,266.11 L158.6,265.52 L160.1,265.57 L161.6,265.02 L163.1,264.1 L164.6,263.33 L166.1,262.48 L167.6,261.74 L169.1,261.44 L170.6,261.27 L172.1,261.04 L173.6,260.58 L175.1,260.01 L176.6,259.55 L178.1,258.74 L179.6,258.3 L181.1,257.66 L182.6,256.69 L184.1,255.84 L185.6,255.61 L187.1,255.69 L188.6,255.7 L190.1,255.56 L191.6,254.92 L193.1,254.67 L194.6,254.45 L196.1,254.05 L197.6,253.73 L199.1,254.29 L200.6,254.66 L202.1,254.35 L203.6,253.82 L205.1,253.75 L206.6,253.96 L208.1,254.28 L209.6,253.93 L211.1,253.57 L212.6,253.39 L214.1,252.85 L215.6,252.53 L217.1,251.72 L218.6,251.29 L220.1,251.13 L221.6,250.84 L223.1,250.15 L224.6,249.29 L226.1,248.34 L227.6,247.99 L229.1,247.84 L230.6,247.86 L232.1,248.03 L233.6,247.98 L235.1,248.06 L236.6,247.87 L238.1,247.69 L239.6,247.64 L241.1,247.59 L242.6,247.43 L244.1,247 L245.6,246.77 L247.1,246.65 L248.6,247.03 L250.1,246.37 L253.1,245.93 L256.1,245.54 L259.1,245.21 L262.1,245.04 L265.1,244.86 L268.1,244.67 L271.1,244.25 L274.1,243.81 L277.1,243.46 L280.1,243.39 L283.1,243.14 L286.1,242.87 L289.1,242.78 L292.1,242.68 L295.1,242.77 L298.1,242.48 L301.1,242.08 L304.1,241.63 L307.1,241.18 L310.1,240.95 L313.1,240.7 L316.1,240.59 L319.1,240.36 L322.1,240.35 L325.1,240.41 L328.1,240.31 L331.1,240.01 L334.1,239.82 L337.1,239.79 L340.1,239.64 L343.1,239.38 L346.1,239.2 L349.1,239.08 L352.1,239.01 L355.1,239.06 L358.1,239.18 L361.1,239.16 L364.1,239.09 L367.1,238.79 L370.1,238.51 L373.1,238.25 L376.1,238.09 L379.1,237.93 L382.1,237.89 L385.1,238.06 L388.1,238.14 L391.1,238.08 L394.1,237.94 L397.1,237.66 L400.1,237.36 L403.1,237.13 L406.1,236.88 L409.1,236.63 L412.1,236.47 L415.1,236.45 L418.1,236.57 L421.1,236.63 L424.1,236.67 L427.1,236.75 L430.1,236.68 L433.1,236.59 L436.1,236.45 L439.1,236.18 L442.1,236 L445.1,236.05 L448.1,236.01 L451.1,236.06 L454.1,235.97 L457.1,235.85 L460.1,235.64 L463.1,235.33 L466.1,235.27 L469.1,235.11 L472.1,235.01 L475.1,234.98 L478.1,234.99 L481.1,234.91 L484.1,234.71 L487.1,234.38 L490.1,234.21 L493.1,234.06 L496.1,234.15 L499.1,234.22 L502.1,234.2 L505.1,234.24 L508.1,234.25 L511.1,234.22 L514.1,234.08 L517.1,234.02 L520.1,234.07 L523.1,234.21 L526.1,234.17 L529.1,234.02 L532.1,233.9 L535.1,233.77 L538.1,233.64 L541.1,233.49 L544.1,233.36 L547.1,233.26 L550.1,233.3 L553.1,233.41 L556.1,233.34 L559.1,233.21 L562.1,233.09 L565.1,232.98 L568.1,232.87 L571.1,232.7 L574.1,232.59 L577.1,232.44 L580.1,232.22 L583.1,232.06 L586.1,231.93 L589.1,231.87 L592.1,231.88 L595.1,231.72 L598.1,231.79 L601.1,231.83 L604.1,231.91 L607.1,232.02 L610.1,232.1 L613.1,232.04 L616.1,231.96 L619.1,231.88 L622.1,231.86 L625.1,231.85 L628.1,231.72 L631.1,231.61 L632.6,231.65 L632.6,235.9 L631.1,236.12 L628.1,236.28 L625.1,236.34 L622.1,236.54 L619.1,236.68 L616.1,236.78 L613.1,236.89 L610.1,236.97 L607.1,237.13 L604.1,237.2 L601.1,237.23 L598.1,237.32 L595.1,237.4 L592.1,237.52 L589.1,237.6 L586.1,237.53 L583.1,237.45 L580.1,237.57 L577.1,237.6 L574.1,237.61 L571.1,237.67 L568.1,237.62 L565.1,237.72 L562.1,237.99 L559.1,238.16 L556.1,238.31 L553.1,238.31 L550.1,238.38 L547.1,238.36 L544.1,238.3 L541.1,238.25 L538.1,238.28 L535.1,238.29 L532.1,238.24 L529.1,238.27 L526.1,238.23 L523.1,238.26 L520.1,238.33 L517.1,238.45 L514.1,238.65 L511.1,238.82 L508.1,239.11 L505.1,239.33 L502.1,239.46 L499.1,239.5 L496.1,239.61 L493.1,239.67 L490.1,239.6 L487.1,239.71 L484.1,239.89 L481.1,239.95 L478.1,240.1 L475.1,240.23 L472.1,240.35 L469.1,240.49 L466.1,240.51 L463.1,240.52 L460.1,240.48 L457.1,240.46 L454.1,240.42 L451.1,240.47 L448.1,240.58 L445.1,240.68 L442.1,240.83 L439.1,241.01 L436.1,241.18 L433.1,241.19 L430.1,241.32 L427.1,241.5 L424.1,241.77 L421.1,242.02 L418.1,242.13 L415.1,242.25 L412.1,242.54 L409.1,242.7 L406.1,242.74 L403.1,242.79 L400.1,242.96 L397.1,243.3 L394.1,243.54 L391.1,243.73 L388.1,243.93 L385.1,244.33 L382.1,244.52 L379.1,244.7 L376.1,244.8 L373.1,244.91 L370.1,244.97 L367.1,245.12 L364.1,245.29 L361.1,245.46 L358.1,245.55 L355.1,245.64 L352.1,245.83 L349.1,246.06 L346.1,246.27 L343.1,246.56 L340.1,246.83 L337.1,246.99 L334.1,247.21 L331.1,247.35 L328.1,247.66 L325.1,247.98 L322.1,248.16 L319.1,248.44 L316.1,248.7 L313.1,248.96 L310.1,249.09 L307.1,249.33 L304.1,249.48 L301.1,249.63 L298.1,249.91 L295.1,250.23 L292.1,250.46 L289.1,250.6 L286.1,250.79 L283.1,251.13 L280.1,251.54 L277.1,251.8 L274.1,251.99 L271.1,252.24 L268.1,252.45 L265.1,252.69 L262.1,252.95 L259.1,253.38 L256.1,253.95 L253.1,254.32 L250.1,254.82 L248.6,255.2 L247.1,255.3 L245.6,254.88 L244.1,254.88 L242.6,254.87 L241.1,254.54 L239.6,254.3 L238.1,254.36 L236.6,254.17 L235.1,254.19 L233.6,254.64 L232.1,255.28 L230.6,255.76 L229.1,256.56 L227.6,256.52 L226.1,256.58 L224.6,256.99 L223.1,256.95 L221.6,257.68 L220.1,258.24 L218.6,258.99 L217.1,259.23 L215.6,259 L214.1,259.23 L212.6,259.65 L211.1,259.8 L209.6,260 L208.1,260.4 L206.6,260.85 L205.1,261.37 L203.6,262.45 L202.1,262.86 L200.6,263.51 L199.1,263.62 L197.6,264.01 L196.1,264.63 L194.6,265.22 L193.1,265.12 L191.6,265.21 L190.1,265.3 L188.6,265.93 L187.1,266.23 L185.6,266.53 L184.1,267.33 L182.6,267.98 L181.1,268.19 L179.6,268.77 L178.1,269.45 L176.6,270.33 L175.1,271.49 L173.6,271.64 L172.1,271.87 L170.6,271.8 L169.1,271.73 L167.6,271.68 L166.1,271.99 L164.6,272.29 L163.1,272.61 L161.6,272.67 L160.1,273.47 L158.6,274.28 L157.1,274.97 L155.6,275.86 L154.1,276.15 L152.6,276.14 L151.1,276.16 L149.6,277.09 L148.1,277.87 L146.6,279.47 L145.1,280.84 L143.6,282.21 L142.1,283.57 L140.6,284.72 L139.1,285.63 L137.6,286.98 L136.1,288.44 L134.6,289.85 L133.1,291.03 L131.6,292.23 L130.1,293.41 L129.6,293.56 L129.1,293.5 L128.6,294 L128.1,294.26 L127.6,294.48 L127.1,294.58 L126.6,295.13 L126.1,295.64 L125.6,295.63 L125.1,296.04 L124.6,296.36 L124.1,296.43 L123.6,296.79 L123.1,296.99 L122.6,297.01 L122.1,297.45 L121.6,298.05 L121.1,298.36 L120.6,298.82 L120.1,299.31 L119.6,299.25 L119.1,299.97 L118.6,300.74 L118.1,301.39 L117.6,302.05 L117.1,302.86 L116.6,303.97 L116.1,304.87 L115.6,306.09 L115.1,306.83 L114.6,307.35 L114.1,308.04 L113.6,308.84 L113.1,309.85 L112.6,311.1 L112.1,312.25 L111.6,313.23 L111.1,314.11 L110.6,314.93 L110.1,316.03 L109.6,316.54 L109.1,317.29 L108.6,318.41 L108.1,319.49 L107.6,320.12 L107.1,321.05 L106.6,322.18 L106.1,323.26 L105.6,324.63 L105.1,326.01 L104.6,327.25 L104.1,328.59 L103.6,329 L103.1,329 L102.6,329 L102.1,329 L101.6,329 L101.1,328.94 L100.6,328.77 L100.1,329 L99.6,329 L99.1,329 L98.6,329 L98.1,329 L97.6,328.86 L97.1,328.66 L96.6,328.53 L96.6,328.27 Z" fill="#ff7f0e" fill-opacity="0.2" stroke="#ff7f0e" stroke-opacity="0.30000000000000004" stroke-width="0.9" stroke-linejoin="round" clip-path="url(#ca)"/>
<line x1="70.2" y1="212.7" x2="659.6" y2="212.7" stroke="#d62728" stroke-width="1.9" stroke-dasharray="5.2 2.8" stroke-dashoffset="-1.8"/>
<path d="M98.9,10 L98.9,9.98 L99.15,16.88 L99.4,23.36 L99.65,29.44 L99.9,35.17 L100.15,40.57 L100.4,45.67 L100.65,50.49 L100.9,55.06 L101.15,59.39 L101.4,63.51 L101.65,67.42 L101.9,71.14 L102.15,74.69 L102.4,78.08 L102.65,81.31 L102.9,84.4 L103.15,87.35 L103.4,90.18 L103.65,92.89 L103.9,95.49 L104.15,97.99 L104.4,100.39 L104.65,102.7 L104.9,104.91 L105.15,107.05 L105.4,109.11 L105.65,111.09 L105.9,113 L106.15,114.85 L106.4,116.63 L106.65,118.35 L106.9,120.02 L107.15,121.63 L107.4,123.18 L107.65,124.69 L107.9,126.15 L108.15,127.57 L108.4,128.94 L108.65,130.27 L108.9,131.57 L109.15,132.82 L109.4,134.04 L109.65,135.22 L109.9,136.37 L110.15,137.49 L111.15,141.67 L112.15,145.43 L113.15,148.83 L114.15,151.91 L115.15,154.73 L116.15,157.31 L117.15,159.67 L118.15,161.86 L119.15,163.87 L120.15,165.74 L121.15,167.48 L122.15,169.09 L123.15,170.6 L124.15,172.02 L125.15,173.34 L126.15,174.58 L127.15,175.76 L128.15,176.86 L129.15,177.9 L130.15,178.88 L131.15,179.82 L132.15,180.7 L133.15,181.54 L134.15,182.33 L135.15,183.09 L136.15,183.81 L137.15,184.5 L138.15,185.16 L139.15,185.79 L140.15,186.39 L141.15,186.96 L142.15,187.51 L143.15,188.04 L144.15,188.55 L145.15,189.04 L146.15,189.5 L147.15,189.95 L148.15,190.39 L149.15,190.81 L150.15,191.21 L151.15,191.59 L152.15,191.97 L153.15,192.33 L154.15,192.68 L155.15,193.02 L156.15,193.34 L157.15,193.66 L158.15,193.96 L159.15,194.26 L160.15,194.55 L161.15,194.82 L162.15,195.09 L163.15,195.35 L164.15,195.61 L165.15,195.85 L166.15,196.09 L167.15,196.33 L168.15,196.55 L169.15,196.77 L170.15,196.99 L171.15,197.19 L172.15,197.4 L173.15,197.59 L174.15,197.79 L175.15,197.97 L176.15,198.16 L177.15,198.33 L178.15,198.51 L179.15,198.68 L180.15,198.84 L181.15,199 L182.15,199.16 L183.15,199.32 L184.15,199.47 L185.15,199.61 L186.15,199.76 L187.15,199.9 L188.15,200.03 L189.15,200.17 L190.15,200.3 L191.15,200.43 L192.15,200.55 L193.15,200.68 L194.15,200.8 L195.15,200.92 L196.15,201.03 L197.15,201.14 L198.15,201.26 L199.15,201.36 L200.15,201.47 L203.15,201.78 L206.15,202.07 L209.15,202.34 L212.15,202.6 L215.15,202.85 L218.15,203.08 L221.15,203.31 L224.15,203.52 L227.15,203.72 L230.15,203.91 L233.15,204.1 L236.15,204.27 L239.15,204.44 L242.15,204.6 L245.15,204.75 L248.15,204.9 L251.15,205.04 L254.15,205.18 L257.15,205.31 L260.15,205.43 L263.15,205.56 L266.15,205.67 L269.15,205.78 L272.15,205.89 L275.15,206 L278.15,206.1 L281.15,206.19 L284.15,206.29 L287.15,206.38 L290.15,206.47 L293.15,206.55 L296.15,206.64 L299.15,206.72 L302.15,206.79 L305.15,206.87 L308.15,206.94 L311.15,207.01 L314.15,207.08 L317.15,207.15 L320.15,207.21 L323.15,207.28 L326.15,207.34 L329.15,207.4 L332.15,207.46 L335.15,207.51 L338.15,207.57 L341.15,207.62 L344.15,207.67 L347.15,207.72 L350.15,207.77 L353.15,207.82 L356.15,207.87 L359.15,207.92 L362.15,207.96 L365.15,208.01 L368.15,208.05 L371.15,208.09 L374.15,208.13 L377.15,208.17 L380.15,208.21 L383.15,208.25 L386.15,208.29 L389.15,208.32 L392.15,208.36 L395.15,208.39 L398.15,208.43 L401.15,208.46 L404.15,208.5 L407.15,208.53 L410.15,208.56 L413.15,208.59 L416.15,208.62 L419.15,208.65 L422.15,208.68 L425.15,208.71 L428.15,208.74 L431.15,208.76 L434.15,208.79 L437.15,208.82 L440.15,208.84 L443.15,208.87 L446.15,208.89 L449.15,208.92 L452.15,208.94 L455.15,208.97 L458.15,208.99 L461.15,209.01 L464.15,209.04 L467.15,209.06 L470.15,209.08 L473.15,209.1 L476.15,209.12 L479.15,209.14 L482.15,209.16 L485.15,209.18 L488.15,209.2 L491.15,209.22 L494.15,209.24 L497.15,209.26 L500.15,209.28 L503.15,209.3 L506.15,209.32 L509.15,209.33 L512.15,209.35 L515.15,209.37 L518.15,209.38 L521.15,209.4 L524.15,209.42 L527.15,209.43 L530.15,209.45 L533.15,209.46 L536.15,209.48 L539.15,209.5 L542.15,209.51 L545.15,209.52 L548.15,209.54 L551.15,209.55 L554.15,209.57 L557.15,209.58 L560.15,209.6 L563.15,209.61 L566.15,209.62 L569.15,209.64 L572.15,209.65 L575.15,209.66 L578.15,209.67 L581.15,209.69 L584.15,209.7 L587.15,209.71 L590.15,209.72 L593.15,209.74 L596.15,209.75 L599.15,209.76 L602.15,209.77 L605.15,209.78 L608.15,209.79 L611.15,209.8 L614.15,209.81 L617.15,209.82 L620.15,209.84 L623.15,209.85 L626.15,209.86 L629.15,209.87 L632.15,209.88 L632.6,209.88" fill="none" stroke="#1d6dab" stroke-width="1.9" stroke-linejoin="round" stroke-linecap="butt" clip-path="url(#ca)"/>
<path d="M96.6,329 L96.6,329 L97.1,329 L97.6,329 L98.1,329 L98.6,329 L99.1,329 L99.6,329 L100.1,329 L100.6,329 L101.1,329 L101.6,329 L102.1,329 L102.6,329 L103.1,327.22 L103.6,325.48 L104.1,323.82 L104.6,322.23 L105.1,320.71 L105.6,319.26 L106.1,317.86 L106.6,316.52 L107.1,315.24 L107.6,314 L108.1,312.81 L108.6,311.66 L109.1,310.55 L109.6,309.48 L110.1,308.45 L110.6,307.45 L111.1,306.48 L111.6,305.55 L112.1,304.64 L112.6,303.76 L113.1,302.9 L113.6,302.07 L114.1,301.26 L114.6,300.48 L115.1,299.72 L115.6,298.97 L116.1,298.25 L116.6,297.55 L117.1,296.86 L117.6,296.19 L118.1,295.54 L118.6,294.9 L119.1,294.28 L119.6,293.67 L120.1,293.08 L120.6,292.5 L121.1,291.93 L121.6,291.38 L122.1,290.83 L122.6,290.3 L123.1,289.78 L123.6,289.27 L124.1,288.78 L124.6,288.29 L125.1,287.81 L125.6,287.34 L126.1,286.88 L126.6,286.43 L127.1,285.98 L127.6,285.55 L128.1,285.12 L128.6,284.7 L129.1,284.29 L129.6,283.89 L130.1,283.49 L131.6,282.34 L133.1,281.24 L134.6,280.2 L136.1,279.21 L137.6,278.26 L139.1,277.35 L140.6,276.48 L142.1,275.64 L143.6,274.84 L145.1,274.07 L146.6,273.33 L148.1,272.62 L149.6,271.93 L151.1,271.27 L152.6,270.62 L154.1,270 L155.6,269.41 L157.1,268.82 L158.6,268.26 L160.1,267.72 L161.6,267.19 L163.1,266.68 L164.6,266.18 L166.1,265.69 L167.6,265.22 L169.1,264.76 L170.6,264.32 L172.1,263.88 L173.6,263.46 L175.1,263.05 L176.6,262.65 L178.1,262.26 L179.6,261.87 L181.1,261.5 L182.6,261.13 L184.1,260.78 L185.6,260.43 L187.1,260.09 L188.6,259.76 L190.1,259.43 L191.6,259.11 L193.1,258.8 L194.6,258.49 L196.1,258.19 L197.6,257.9 L199.1,257.61 L200.6,257.33 L202.1,257.05 L203.6,256.78 L205.1,256.52 L206.6,256.25 L208.1,256 L209.6,255.74 L211.1,255.5 L212.6,255.25 L214.1,255.02 L215.6,254.78 L217.1,254.55 L218.6,254.32 L220.1,254.1 L221.6,253.88 L223.1,253.66 L224.6,253.45 L226.1,253.24 L227.6,253.04 L229.1,252.84 L230.6,252.64 L232.1,252.44 L233.6,252.25 L235.1,252.06 L236.6,251.87 L238.1,251.68 L239.6,251.5 L241.1,251.32 L242.6,251.14 L244.1,250.97 L245.6,250.8 L247.1,250.63 L248.6,250.46 L250.1,250.3 L253.1,249.97 L256.1,249.66 L259.1,249.35 L262.1,249.05 L265.1,248.76 L268.1,248.47 L271.1,248.2 L274.1,247.93 L277.1,247.66 L280.1,247.4 L283.1,247.15 L286.1,246.9 L289.1,246.66 L292.1,246.42 L295.1,246.19 L298.1,245.96 L301.1,245.74 L304.1,245.52 L307.1,245.31 L310.1,245.1 L313.1,244.9 L316.1,244.7 L319.1,244.5 L322.1,244.3 L325.1,244.12 L328.1,243.93 L331.1,243.75 L334.1,243.57 L337.1,243.39 L340.1,243.22 L343.1,243.05 L346.1,242.88 L349.1,242.71 L352.1,242.55 L355.1,242.39 L358.1,242.23 L361.1,242.08 L364.1,241.93 L367.1,241.78 L370.1,241.63 L373.1,241.49 L376.1,241.34 L379.1,241.2 L382.1,241.07 L385.1,240.93 L388.1,240.8 L391.1,240.66 L394.1,240.53 L397.1,240.4 L400.1,240.28 L403.1,240.15 L406.1,240.03 L409.1,239.91 L412.1,239.79 L415.1,239.67 L418.1,239.55 L421.1,239.44 L424.1,239.32 L427.1,239.21 L430.1,239.1 L433.1,238.99 L436.1,238.88 L439.1,238.78 L442.1,238.67 L445.1,238.57 L448.1,238.46 L451.1,238.36 L454.1,238.26 L457.1,238.16 L460.1,238.06 L463.1,237.97 L466.1,237.87 L469.1,237.78 L472.1,237.68 L475.1,237.59 L478.1,237.5 L481.1,237.41 L484.1,237.32 L487.1,237.23 L490.1,237.14 L493.1,237.06 L496.1,236.97 L499.1,236.89 L502.1,236.8 L505.1,236.72 L508.1,236.64 L511.1,236.56 L514.1,236.48 L517.1,236.4 L520.1,236.32 L523.1,236.24 L526.1,236.16 L529.1,236.09 L532.1,236.01 L535.1,235.94 L538.1,235.86 L541.1,235.79 L544.1,235.72 L547.1,235.65 L550.1,235.57 L553.1,235.5 L556.1,235.43 L559.1,235.36 L562.1,235.3 L565.1,235.23 L568.1,235.16 L571.1,235.09 L574.1,235.03 L577.1,234.96 L580.1,234.9 L583.1,234.83 L586.1,234.77 L589.1,234.71 L592.1,234.64 L595.1,234.58 L598.1,234.52 L601.1,234.46 L604.1,234.4 L607.1,234.34 L610.1,234.28 L613.1,234.22 L616.1,234.16 L619.1,234.1 L622.1,234.04 L625.1,233.99 L628.1,233.93 L631.1,233.87 L632.6,233.85" fill="none" stroke="#f77a10" stroke-width="1.9" stroke-linejoin="round" stroke-linecap="butt" clip-path="url(#ca)"/>
<path d="M97,95.3 L97,174.1 L97.4,150 C97.63,148.88 97.95,144.03 98.8,143.3 C99.65,142.57 100.07,144.67 102.5,145.6 C104.93,146.53 109.65,147.97 113.4,148.9 C117.15,149.83 118.5,150.15 125,151.2 C131.5,152.25 139.12,153.38 152.4,155.2 C165.68,157.02 190.1,160.32 204.7,162.1 C219.3,163.88 222.23,164.13 240,165.9 C257.77,167.67 281.58,170.13 311.3,172.7 C341.02,175.27 382.53,178.73 418.3,181.3 C454.07,183.87 490.18,186.02 525.9,188.1 C561.62,190.18 614.82,192.85 632.6,193.8" fill="none" stroke="#289828" stroke-width="1.9" stroke-linejoin="round" stroke-linecap="butt" clip-path="url(#ca)"/>
<rect x="70.2" y="18.6" width="589.4" height="310.4" fill="none" stroke="#000" stroke-width="1.1"/>
<line x1="96.6" y1="329" x2="96.6" y2="333.5" stroke="#000" stroke-width="1.1"/>
<text x="96.6" y="346.8" font-family="'Liberation Sans', sans-serif" font-size="12.3" text-anchor="middle" textLength="7.56" lengthAdjust="spacingAndGlyphs">0</text>
<line x1="203.8" y1="329" x2="203.8" y2="333.5" stroke="#000" stroke-width="1.1"/>
<text x="203.8" y="346.8" font-family="'Liberation Sans', sans-serif" font-size="12.3" text-anchor="middle" textLength="37.8" lengthAdjust="spacingAndGlyphs">10000</text>
<line x1="311" y1="329" x2="311" y2="333.5" stroke="#000" stroke-width="1.1"/>
<text x="311" y="346.8" font-family="'Liberation Sans', sans-serif" font-size="12.3" text-anchor="middle" textLength="37.8" lengthAdjust="spacingAndGlyphs">20000</text>
<line x1="418.2" y1="329" x2="418.2" y2="333.5" stroke="#000" stroke-width="1.1"/>
<text x="418.2" y="346.8" font-family="'Liberation Sans', sans-serif" font-size="12.3" text-anchor="middle" textLength="37.8" lengthAdjust="spacingAndGlyphs">30000</text>
<line x1="525.4" y1="329" x2="525.4" y2="333.5" stroke="#000" stroke-width="1.1"/>
<text x="525.4" y="346.8" font-family="'Liberation Sans', sans-serif" font-size="12.3" text-anchor="middle" textLength="37.8" lengthAdjust="spacingAndGlyphs">40000</text>
<line x1="632.6" y1="329" x2="632.6" y2="333.5" stroke="#000" stroke-width="1.1"/>
<text x="632.6" y="346.8" font-family="'Liberation Sans', sans-serif" font-size="12.3" text-anchor="middle" textLength="37.8" lengthAdjust="spacingAndGlyphs">50000</text>
<line x1="65.7" y1="329" x2="70.2" y2="329" stroke="#000" stroke-width="1.1"/>
<text x="60.5" y="333.4" font-family="'Liberation Sans', sans-serif" font-size="12.3" text-anchor="end" textLength="26.28" lengthAdjust="spacingAndGlyphs">0.00</text>
<line x1="65.7" y1="290.2" x2="70.2" y2="290.2" stroke="#000" stroke-width="1.1"/>
<text x="60.5" y="294.6" font-family="'Liberation Sans', sans-serif" font-size="12.3" text-anchor="end" textLength="26.28" lengthAdjust="spacingAndGlyphs">0.05</text>
<line x1="65.7" y1="251.4" x2="70.2" y2="251.4" stroke="#000" stroke-width="1.1"/>
<text x="60.5" y="255.8" font-family="'Liberation Sans', sans-serif" font-size="12.3" text-anchor="end" textLength="26.28" lengthAdjust="spacingAndGlyphs">0.10</text>
<line x1="65.7" y1="212.6" x2="70.2" y2="212.6" stroke="#000" stroke-width="1.1"/>
<text x="60.5" y="217" font-family="'Liberation Sans', sans-serif" font-size="12.3" text-anchor="end" textLength="26.28" lengthAdjust="spacingAndGlyphs">0.15</text>
<line x1="65.7" y1="173.8" x2="70.2" y2="173.8" stroke="#000" stroke-width="1.1"/>
<text x="60.5" y="178.2" font-family="'Liberation Sans', sans-serif" font-size="12.3" text-anchor="end" textLength="26.28" lengthAdjust="spacingAndGlyphs">0.20</text>
<line x1="65.7" y1="135" x2="70.2" y2="135" stroke="#000" stroke-width="1.1"/>
<text x="60.5" y="139.4" font-family="'Liberation Sans', sans-serif" font-size="12.3" text-anchor="end" textLength="26.28" lengthAdjust="spacingAndGlyphs">0.25</text>
<line x1="65.7" y1="96.2" x2="70.2" y2="96.2" stroke="#000" stroke-width="1.1"/>
<text x="60.5" y="100.6" font-family="'Liberation Sans', sans-serif" font-size="12.3" text-anchor="end" textLength="26.28" lengthAdjust="spacingAndGlyphs">0.30</text>
<line x1="65.7" y1="57.4" x2="70.2" y2="57.4" stroke="#000" stroke-width="1.1"/>
<text x="60.5" y="61.8" font-family="'Liberation Sans', sans-serif" font-size="12.3" text-anchor="end" textLength="26.28" lengthAdjust="spacingAndGlyphs">0.35</text>
<line x1="65.7" y1="18.6" x2="70.2" y2="18.6" stroke="#000" stroke-width="1.1"/>
<text x="60.5" y="23" font-family="'Liberation Sans', sans-serif" font-size="12.3" text-anchor="end" textLength="26.28" lengthAdjust="spacingAndGlyphs">0.40</text>
<text x="365.1" y="363" font-family="'Liberation Sans', sans-serif" font-size="12.3" text-anchor="middle" textLength="29.2" lengthAdjust="spacingAndGlyphs">Time</text>
<text transform="translate(26.2,175.8) rotate(-90)" font-family="'Liberation Sans', sans-serif" font-size="11.6" text-anchor="middle" textLength="77.2" lengthAdjust="spacingAndGlyphs">Miscoverage</text>
<rect x="525.8" y="24.5" width="127.7" height="55.8" rx="2.5" ry="2.5" fill="#fff" fill-opacity="0.8" stroke="#cccccc" stroke-width="1"/>
<line x1="530.2" y1="34.2" x2="556.9" y2="34.2" stroke="#1f77b4" stroke-width="2"/>
<text x="566.6" y="38.5" font-family="'Liberation Sans', sans-serif" font-size="12.3" text-anchor="start" textLength="25.3" lengthAdjust="spacingAndGlyphs">MVP</text>
<line x1="530.2" y1="51.7" x2="556.9" y2="51.7" stroke="#ff7f0e" stroke-width="2"/>
<text x="566.6" y="56" font-family="'Liberation Sans', sans-serif" font-size="12.3" text-anchor="start" textLength="22.2" lengthAdjust="spacingAndGlyphs">SPS</text>
<line x1="530.2" y1="69.7" x2="556.9" y2="69.7" stroke="#2ca02c" stroke-width="2"/>
<text x="566.6" y="74" font-family="'Liberation Sans', sans-serif" font-size="12.3" text-anchor="start" textLength="80.5" lengthAdjust="spacingAndGlyphs">OCP-Unlock+</text>
<clipPath id="cb"><rect x="752.4" y="16.6" width="593.2" height="311.9"/></clipPath>
<line x1="779.4" y1="16.6" x2="779.4" y2="328.5" stroke="#c4c4c4" stroke-width="0.8" stroke-dasharray="4.2 2.4"/>
<line x1="887.2" y1="16.6" x2="887.2" y2="328.5" stroke="#c4c4c4" stroke-width="0.8" stroke-dasharray="4.2 2.4"/>
<line x1="995" y1="16.6" x2="995" y2="328.5" stroke="#c4c4c4" stroke-width="0.8" stroke-dasharray="4.2 2.4"/>
<line x1="1102.8" y1="16.6" x2="1102.8" y2="328.5" stroke="#c4c4c4" stroke-width="0.8" stroke-dasharray="4.2 2.4"/>
<line x1="1210.6" y1="16.6" x2="1210.6" y2="328.5" stroke="#c4c4c4" stroke-width="0.8" stroke-dasharray="4.2 2.4"/>
<line x1="1318.4" y1="16.6" x2="1318.4" y2="328.5" stroke="#c4c4c4" stroke-width="0.8" stroke-dasharray="4.2 2.4"/>
<line x1="752.4" y1="328.5" x2="1345.6" y2="328.5" stroke="#c4c4c4" stroke-width="0.8" stroke-dasharray="3.4 1.8"/>
<line x1="752.4" y1="276.52" x2="1345.6" y2="276.52" stroke="#c4c4c4" stroke-width="0.8" stroke-dasharray="3.4 1.8"/>
<line x1="752.4" y1="224.53" x2="1345.6" y2="224.53" stroke="#c4c4c4" stroke-width="0.8" stroke-dasharray="3.4 1.8"/>
<line x1="752.4" y1="172.55" x2="1345.6" y2="172.55" stroke="#c4c4c4" stroke-width="0.8" stroke-dasharray="3.4 1.8"/>
<line x1="752.4" y1="120.57" x2="1345.6" y2="120.57" stroke="#c4c4c4" stroke-width="0.8" stroke-dasharray="3.4 1.8"/>
<line x1="752.4" y1="68.58" x2="1345.6" y2="68.58" stroke="#c4c4c4" stroke-width="0.8" stroke-dasharray="3.4 1.8"/>
<line x1="752.4" y1="16.6" x2="1345.6" y2="16.6" stroke="#c4c4c4" stroke-width="0.8" stroke-dasharray="3.4 1.8"/>
<rect x="779.0" y="16.6" width="1.1" height="311.9" fill="#fff" clip-path="url(#cb)"/>
<path d="M779.5,17.82 L780.2,182.07 L780.9,228.41 L781.6,253.85 L782.3,255.51 L783,257.77 L783.7,257.23 L784.4,256.23 L785.1,257.18 L785.8,259.28 L786.5,261.47 L787.2,261.81 L787.9,262.01 L788.6,262.5 L789.3,263.03 L790,262.82 L790.7,263.77 L791.4,264.78 L792.1,266.08 L792.8,265.31 L793.5,265.75 L794.2,264.86 L794.9,266.47 L795.6,266.84 L796.3,267.13 L797,268.33 L797.7,269.67 L798.4,269.7 L799.1,271.27 L799.8,272.36 L800.5,271.46 L801.2,271.22 L801.9,269.96 L802.6,270.4 L803.3,270.35 L804,271.16 L804.7,271.08 L805.4,271.21 L806.1,271.3 L806.8,270.94 L807.5,271.23 L808.2,271.3 L808.9,272.42 L809.6,271.46 L810.3,271.14 L811,270.22 L811.7,270.32 L812.4,271.03 L813.1,272.15 L813.8,272.44 L814.5,272.23 L815.2,271.97 L815.9,272.74 L816.6,271.56 L817.3,271.44 L818,271.96 L818.7,271.61 L819.4,272.25 L820.1,272.68 L820.8,272.31 L821.5,272.29 L822.2,271.83 L822.9,270.96 L823.6,269.72 L824.3,270.51 L825,271.23 L825.7,270.85 L826.4,271.47 L827.1,272.17 L827.8,272.59 L828.5,271.46 L829.2,271.66 L829.9,272.13 L830.6,270.83 L831.3,270.26 L832,271.66 L832.7,271.15 L833.4,271.93 L834.1,271.87 L834.8,272.36 L835.5,273.05 L836.2,272.63 L836.9,271.98 L837.6,271.29 L838.3,271.29 L839,271.09 L839.7,272.24 L840.4,270.7 L841.1,270.23 L841.8,272.17 L842.5,272.31 L843.2,271.71 L843.9,271.96 L844.6,271.32 L845.3,271.35 L846,271.79 L846.7,271.79 L847.4,271.7 L848.1,272.38 L848.8,271.71 L849.5,270.95 L850.2,270.11 L850.9,270.45 L851.6,270.38 L852.3,270.7 L853,271.17 L853.7,270.85 L854.4,271.37 L855.1,271.73 L855.8,271.68 L856.5,272.11 L857.2,270.52 L857.9,270.96 L858.6,270.82 L859.3,271.61 L860,272.68 L860.7,271.01 L861.4,271.24 L862.1,271.75 L862.8,271.6 L863.5,271.61 L864.2,270.71 L864.9,271.53 L865.6,270.87 L866.3,270.74 L867,271.68 L867.7,271.78 L868.4,271.24 L869.1,271.2 L869.8,271.78 L870.5,272.06 L871.2,271.9 L871.9,271.24 L872.6,270.83 L873.3,272.2 L874,271.63 L874.7,270.43 L875.4,269.86 L876.1,269.98 L876.8,269.93 L877.5,269.53 L878.2,271.08 L878.9,271.06 L879.6,270.92 L880.3,271.03 L881,271.32 L881.7,271.39 L882.4,271.28 L883.1,271.07 L883.8,270.79 L884.5,270.61 L885.2,270.4 L885.9,270.36 L886.6,270.37 L887.3,270.44 L888,270.55 L888.7,270.57 L889.4,270.69 L890.1,270.54 L890.8,270.46 L891.5,270.3 L892.2,270.32 L892.9,270.25 L893.6,270.32 L894.3,270.39 L895,270.47 L895.7,270.48 L896.4,270.44 L897.1,270.38 L897.8,270.36 L898.5,270.14 L899.2,269.99 L899.9,269.85 L900.6,269.78 L901.3,269.69 L902,269.72 L902.7,269.81 L903.4,269.85 L904.1,269.97 L904.8,270.07 L905.5,270.27 L906.2,270.35 L906.9,270.5 L907.6,270.51 L908.3,270.51 L909,270.61 L909.7,270.66 L910.4,270.65 L911.1,270.55 L911.8,270.36 L912.5,270.14 L913.2,270.11 L913.9,270.04 L914.6,270.04 L915.3,270.05 L916,269.98 L916.7,270.06 L917.4,270.06 L918.1,269.84 L918.8,269.63 L919.5,269.51 L920.2,269.28 L920.9,269.07 L921.6,268.77 L922.3,268.35 L923,268.11 L923.7,267.83 L924.4,267.71 L925.1,267.65 L925.8,267.5 L926.5,267.46 L927.2,267.48 L927.9,267.53 L928.6,267.53 L929.3,267.47 L930,267.34 L930.7,267.24 L931.4,267.21 L932.1,267.12 L932.8,267.09 L933.5,267.15 L934.2,267.09 L934.9,267.12 L935.6,267.23 L936.3,267.21 L937,267.18 L937.7,267.41 L938.4,267.74 L939.1,267.86 L939.8,267.69 L940.5,267.57 L941.2,267.41 L941.9,267.17 L942.6,266.91 L943.3,266.86 L944,266.7 L944.7,266.49 L945.4,266.3 L946.1,266.27 L946.8,266.3 L947.5,266.33 L948.2,266.37 L948.9,266.37 L949.6,266.42 L950.3,266.42 L951,266.33 L951.7,266.29 L952.4,266.29 L953.1,266.25 L953.8,266.25 L954.5,266.17 L955.2,266.12 L955.9,266.05 L956.6,265.95 L957.3,265.9 L958,265.78 L958.7,265.66 L959.4,265.57 L960.1,265.5 L960.8,265.52 L961.5,265.6 L962.2,265.59 L962.9,265.58 L963.6,265.59 L964.3,265.58 L965,265.53 L965.7,265.53 L966.4,265.55 L967.1,265.56 L967.8,265.52 L968.5,265.47 L969.2,265.33 L969.9,265.2 L970.6,265.09 L971.3,265.07 L972,265.04 L972.7,264.96 L973.4,264.9 L974.1,264.85 L974.8,264.84 L975.5,264.87 L976.2,264.92 L976.9,264.98 L977.6,264.99 L978.3,264.98 L979,264.93 L979.7,264.82 L980.4,264.75 L981.1,264.61 L981.8,264.47 L982.5,264.41 L983.2,264.38 L983.9,264.35 L984.6,264.41 L985.3,264.34 L986,264.27 L986.7,264.15 L987.4,264.11 L988.1,264.05 L988.8,263.97 L989.5,263.93 L990.2,263.88 L990.9,263.81 L991.6,263.72 L992.3,263.68 L993,263.6 L993.7,263.53 L994.4,263.5 L995.1,263.58 L995.8,263.66 L996.5,263.76 L997.2,263.73 L997.9,263.78 L998.6,263.75 L999.3,263.65 L1000,263.54 L1000.7,263.42 L1001.4,263.27 L1002.1,263.2 L1002.8,263.04 L1003.5,262.88 L1004.2,262.74 L1004.9,262.59 L1005.6,262.56 L1006.3,262.58 L1007,262.64 L1007.7,262.77 L1008.4,262.85 L1009.1,262.83 L1009.8,262.8 L1010.5,262.79 L1011.2,262.74 L1011.9,262.72 L1012.6,262.69 L1013.3,262.63 L1014,262.58 L1014.7,262.54 L1015.4,262.48 L1016.1,262.42 L1016.8,262.31 L1017.5,262.27 L1018.2,262.28 L1018.9,262.31 L1019.6,262.3 L1020.3,262.36 L1021,262.34 L1021.7,262.24 L1022.4,262.17 L1023.1,262.04 L1023.8,262.01 L1024.5,261.98 L1025.2,262.03 L1025.9,262.01 L1026.6,261.93 L1027.3,261.82 L1028,261.73 L1028.7,261.69 L1029.4,261.6 L1030.1,261.53 L1030.8,261.41 L1031.5,261.34 L1032.2,261.23 L1032.9,261.06 L1033.6,260.99 L1034.3,260.95 L1035,260.91 L1035.7,260.87 L1036.4,260.89 L1037.1,260.88 L1037.8,260.89 L1038.5,260.88 L1039.2,260.94 L1039.9,261.04 L1040.6,261.09 L1041.3,261.21 L1042,261.33 L1042.7,261.36 L1043.4,261.35 L1044.1,261.42 L1044.8,261.36 L1045.5,261.35 L1046.2,261.28 L1046.9,261.17 L1047.6,261.08 L1048.3,260.95 L1049,260.97 L1049.7,260.99 L1050.4,261 L1051.1,261.02 L1051.8,261.05 L1052.5,261.02 L1053.2,260.94 L1053.9,260.91 L1054.6,260.83 L1055.3,260.69 L1056,260.54 L1056.7,260.35 L1057.4,260.3 L1058.1,260.31 L1058.8,260.29 L1059.5,260.35 L1060.2,260.34 L1060.9,260.26 L1061.6,260.22 L1062.3,260.24 L1063,260.27 L1063.7,260.27 L1064.4,260.22 L1065.1,260.18 L1065.8,260.14 L1066.5,260.14 L1067.2,260.12 L1067.9,260.15 L1068.6,260.11 L1069.3,260.04 L1070,260.06 L1070.7,260.05 L1071.4,260.12 L1072.1,260.13 L1072.8,260.21 L1073.5,260.23 L1074.2,260.21 L1074.9,260.09 L1075.6,259.96 L1076.3,259.84 L1077,259.65 L1077.7,259.53 L1078.4,259.4 L1079.1,259.28 L1079.8,259.14 L1080.5,259.08 L1081.2,259.08 L1081.9,259.17 L1082.6,259.15 L1083.3,259.13 L1084,259.07 L1084.7,258.99 L1085.4,258.92 L1086.1,258.74 L1086.8,258.67 L1087.5,258.59 L1088.2,258.52 L1088.9,258.47 L1089.6,258.48 L1090.3,258.55 L1091,258.66 L1091.7,258.69 L1092.4,258.74 L1093.1,258.8 L1093.8,258.87 L1094.5,258.91 L1095.2,258.88 L1095.9,258.84 L1096.6,258.81 L1097.3,258.74 L1098,258.72 L1098.7,258.69 L1099.4,258.57 L1100.1,258.47 L1100.8,258.42 L1101.5,258.46 L1102.2,258.49 L1102.9,258.48 L1103.6,258.5 L1104.3,258.54 L1105,258.52 L1105.7,258.51 L1106.4,258.47 L1107.1,258.46 L1107.8,258.39 L1108.5,258.27 L1109.2,258.17 L1109.9,258.1 L1110.6,257.89 L1111.3,257.73 L1112,257.61 L1112.7,257.62 L1113.4,257.58 L1114.1,257.51 L1114.8,257.43 L1115.5,257.43 L1116.2,257.4 L1116.9,257.39 L1117.6,257.45 L1118.3,257.5 L1119,257.52 L1119.7,257.55 L1120.4,257.61 L1121.1,257.63 L1121.8,257.64 L1122.5,257.69 L1123.2,257.71 L1123.9,257.73 L1124.6,257.71 L1125.3,257.66 L1126,257.59 L1126.7,257.58 L1127.4,257.5 L1128.1,257.38 L1128.8,257.31 L1129.5,257.17 L1130.2,257.04 L1130.9,256.96 L1131.6,256.89 L1132.3,256.88 L1133,256.81 L1133.7,256.81 L1134.4,256.72 L1135.1,256.68 L1135.8,256.64 L1136.5,256.52 L1137.2,256.37 L1137.9,256.3 L1138.6,256.23 L1139.3,256.25 L1140,256.21 L1140.7,256.21 L1141.4,256.21 L1142.1,256.2 L1142.8,256.28 L1143.5,256.33 L1144.2,256.27 L1144.9,256.27 L1145.6,256.31 L1146.3,256.33 L1147,256.28 L1147.7,256.3 L1148.4,256.31 L1149.1,256.32 L1149.8,256.28 L1150.5,256.3 L1151.2,256.2 L1151.9,256 L1152.6,255.88 L1153.3,255.81 L1154,255.72 L1154.7,255.66 L1155.4,255.64 L1156.1,255.61 L1156.8,255.63 L1157.5,255.68 L1158.2,255.72 L1158.9,255.8 L1159.6,255.87 L1160.3,255.91 L1161,255.9 L1161.7,255.92 L1162.4,255.85 L1163.1,255.83 L1163.8,255.79 L1164.5,255.67 L1165.2,255.56 L1165.9,255.43 L1166.6,255.34 L1167.3,255.3 L1168,255.26 L1168.7,255.21 L1169.4,255.15 L1170.1,255.06 L1170.8,254.97 L1171.5,254.89 L1172.2,254.84 L1172.9,254.81 L1173.6,254.79 L1174.3,254.77 L1175,254.81 L1175.7,254.8 L1176.4,254.74 L1177.1,254.67 L1177.8,254.64 L1178.5,254.56 L1179.2,254.51 L1179.9,254.47 L1180.6,254.41 L1181.3,254.38 L1182,254.36 L1182.7,254.37 L1183.4,254.36 L1184.1,254.33 L1184.8,254.28 L1185.5,254.22 L1186.2,254.14 L1186.9,254.06 L1187.6,253.94 L1188.3,253.87 L1189,253.88 L1189.7,253.88 L1190.4,253.89 L1191.1,253.91 L1191.8,253.86 L1192.5,253.8 L1193.2,253.68 L1193.9,253.56 L1194.6,253.52 L1195.3,253.56 L1196,253.55 L1196.7,253.54 L1197.4,253.58 L1198.1,253.55 L1198.8,253.44 L1199.5,253.32 L1200.2,253.14 L1200.9,252.97 L1201.6,252.85 L1202.3,252.82 L1203,252.71 L1203.7,252.68 L1204.4,252.66 L1205.1,252.63 L1205.8,252.56 L1206.5,252.58 L1207.2,252.61 L1207.9,252.67 L1208.6,252.66 L1209.3,252.66 L1210,252.71 L1210.7,252.66 L1211.4,252.62 L1212.1,252.54 L1212.8,252.45 L1213.5,252.38 L1214.2,252.27 L1214.9,252.19 L1215.6,252.2 L1216.3,252.25 L1217,252.26 L1217.7,252.31 L1218.4,252.31 L1219.1,252.29 L1219.8,252.27 L1220.5,252.21 L1221.2,252.14 L1221.9,252.08 L1222.6,252.04 L1223.3,252.03 L1224,252.04 L1224.7,252.01 L1225.4,251.91 L1226.1,251.77 L1226.8,251.63 L1227.5,251.51 L1228.2,251.38 L1228.9,251.28 L1229.6,251.19 L1230.3,251.1 L1231,251.02 L1231.7,251.06 L1232.4,251.1 L1233.1,251.11 L1233.8,251.18 L1234.5,251.16 L1235.2,251.14 L1235.9,251.17 L1236.6,251.14 L1237.3,251.17 L1238,251.08 L1238.7,251.04 L1239.4,250.97 L1240.1,250.84 L1240.8,250.69 L1241.5,250.54 L1242.2,250.43 L1242.9,250.32 L1243.6,250.21 L1244.3,250.03 L1245,249.97 L1245.7,249.86 L1246.4,249.8 L1247.1,249.76 L1247.8,249.7 L1248.5,249.67 L1249.2,249.59 L1249.9,249.58 L1250.6,249.53 L1251.3,249.52 L1252,249.52 L1252.7,249.51 L1253.4,249.57 L1254.1,249.6 L1254.8,249.52 L1255.5,249.47 L1256.2,249.47 L1256.9,249.39 L1257.6,249.21 L1258.3,249.15 L1259,249.09 L1259.7,249.07 L1260.4,249.04 L1261.1,249.01 L1261.8,249.02 L1262.5,249.07 L1263.2,249.05 L1263.9,249.09 L1264.6,249.13 L1265.3,249.14 L1266,249.08 L1266.7,249.01 L1267.4,248.93 L1268.1,248.93 L1268.8,248.93 L1269.5,248.87 L1270.2,248.8 L1270.9,248.68 L1271.6,248.6 L1272.3,248.48 L1273,248.39 L1273.7,248.34 L1274.4,248.34 L1275.1,248.27 L1275.8,248.18 L1276.5,248.11 L1277.2,248.05 L1277.9,247.95 L1278.6,247.88 L1279.3,247.75 L1280,247.59 L1280.7,247.46 L1281.4,247.32 L1282.1,247.22 L1282.8,247.17 L1283.5,247.12 L1284.2,247.08 L1284.9,247.04 L1285.6,247.02 L1286.3,247.02 L1287,246.99 L1287.7,247.02 L1288.4,247.18 L1289.1,247.24 L1289.8,247.3 L1290.5,247.37 L1291.2,247.38 L1291.9,247.35 L1292.6,247.26 L1293.3,247.13 L1294,246.98 L1294.7,246.8 L1295.4,246.64 L1296.1,246.48 L1296.8,246.52 L1297.5,246.46 L1298.2,246.4 L1298.9,246.39 L1299.6,246.32 L1300.3,246.28 L1301,246.22 L1301.7,246.2 L1302.4,246.24 L1303.1,246.22 L1303.8,246.2 L1304.5,246.27 L1305.2,246.32 L1305.9,246.33 L1306.6,246.38 L1307.3,246.41 L1308,246.4 L1308.7,246.35 L1309.4,246.29 L1310.1,246.22 L1310.8,246.08 L1311.5,245.96 L1312.2,245.87 L1312.9,245.82 L1313.6,245.6 L1314.3,245.45 L1315,245.3 L1315.7,245.26 L1316.4,245.22 L1317.1,245.18 L1317.8,245.16 L1318.4,245.1 L1318.4,256.2 L1318.1,256.24 L1317.4,256.32 L1316.7,256.41 L1316,256.52 L1315.3,256.54 L1314.6,256.56 L1313.9,256.51 L1313.2,256.51 L1312.5,256.42 L1311.8,256.38 L1311.1,256.35 L1310.4,256.43 L1309.7,256.52 L1309,256.62 L1308.3,256.67 L1307.6,256.8 L1306.9,256.87 L1306.2,256.88 L1305.5,256.92 L1304.8,256.89 L1304.1,256.96 L1303.4,257.12 L1302.7,257.24 L1302,257.35 L1301.3,257.47 L1300.6,257.53 L1299.9,257.55 L1299.2,257.49 L1298.5,257.54 L1297.8,257.54 L1297.1,257.56 L1296.4,257.51 L1295.7,257.49 L1295,257.48 L1294.3,257.51 L1293.6,257.45 L1292.9,257.41 L1292.2,257.42 L1291.5,257.46 L1290.8,257.54 L1290.1,257.63 L1289.4,257.72 L1288.7,257.79 L1288,257.83 L1287.3,257.86 L1286.6,257.84 L1285.9,257.79 L1285.2,257.82 L1284.5,257.77 L1283.8,257.71 L1283.1,257.76 L1282.4,257.8 L1281.7,257.85 L1281,257.85 L1280.3,257.85 L1279.6,257.87 L1278.9,257.95 L1278.2,258 L1277.5,257.99 L1276.8,257.98 L1276.1,257.92 L1275.4,257.81 L1274.7,257.79 L1274,257.82 L1273.3,257.82 L1272.6,257.81 L1271.9,257.8 L1271.2,257.82 L1270.5,257.87 L1269.8,258.04 L1269.1,258.24 L1268.4,258.37 L1267.7,258.47 L1267,258.53 L1266.3,258.56 L1265.6,258.56 L1264.9,258.54 L1264.2,258.54 L1263.5,258.5 L1262.8,258.51 L1262.1,258.51 L1261.4,258.59 L1260.7,258.59 L1260,258.64 L1259.3,258.71 L1258.6,258.76 L1257.9,258.9 L1257.2,258.94 L1256.5,259.06 L1255.8,259.14 L1255.1,259.16 L1254.4,259.16 L1253.7,259.14 L1253,259.14 L1252.3,259.16 L1251.6,259.23 L1250.9,259.36 L1250.2,259.46 L1249.5,259.49 L1248.8,259.59 L1248.1,259.68 L1247.4,259.75 L1246.7,259.86 L1246,260.07 L1245.3,260.2 L1244.6,260.31 L1243.9,260.33 L1243.2,260.4 L1242.5,260.42 L1241.8,260.46 L1241.1,260.47 L1240.4,260.48 L1239.7,260.44 L1239,260.34 L1238.3,260.31 L1237.6,260.34 L1236.9,260.48 L1236.2,260.63 L1235.5,260.64 L1234.8,260.7 L1234.1,260.72 L1233.4,260.74 L1232.7,260.74 L1232,260.79 L1231.3,260.81 L1230.6,260.82 L1229.9,260.79 L1229.2,260.74 L1228.5,260.78 L1227.8,260.91 L1227.1,260.95 L1226.4,260.98 L1225.7,261.07 L1225,261.08 L1224.3,261.16 L1223.6,261.2 L1222.9,261.22 L1222.2,261.28 L1221.5,261.34 L1220.8,261.43 L1220.1,261.48 L1219.4,261.59 L1218.7,261.64 L1218,261.67 L1217.3,261.72 L1216.6,261.82 L1215.9,261.87 L1215.2,261.9 L1214.5,261.88 L1213.8,261.92 L1213.1,261.95 L1212.4,262.02 L1211.7,262.04 L1211,262.03 L1210.3,261.96 L1209.6,261.94 L1208.9,261.98 L1208.2,261.97 L1207.5,261.98 L1206.8,262.02 L1206.1,262.02 L1205.4,262.08 L1204.7,262.18 L1204,262.17 L1203.3,262.17 L1202.6,262.24 L1201.9,262.37 L1201.2,262.42 L1200.5,262.44 L1199.8,262.51 L1199.1,262.6 L1198.4,262.67 L1197.7,262.72 L1197,262.78 L1196.3,262.86 L1195.6,262.83 L1194.9,262.73 L1194.2,262.71 L1193.5,262.69 L1192.8,262.74 L1192.1,262.82 L1191.4,262.82 L1190.7,262.82 L1190,262.8 L1189.3,262.77 L1188.6,262.82 L1187.9,262.96 L1187.2,263.05 L1186.5,263.14 L1185.8,263.26 L1185.1,263.4 L1184.4,263.58 L1183.7,263.71 L1183,263.8 L1182.3,263.87 L1181.6,263.98 L1180.9,264.05 L1180.2,264.12 L1179.5,264.12 L1178.8,264.03 L1178.1,263.99 L1177.4,263.95 L1176.7,263.88 L1176,263.8 L1175.3,263.75 L1174.6,263.69 L1173.9,263.71 L1173.2,263.74 L1172.5,263.77 L1171.8,263.83 L1171.1,263.93 L1170.4,263.99 L1169.7,264.03 L1169,263.96 L1168.3,263.93 L1167.6,263.96 L1166.9,264.01 L1166.2,264.02 L1165.5,264.02 L1164.8,264.07 L1164.1,264.16 L1163.4,264.27 L1162.7,264.43 L1162,264.52 L1161.3,264.58 L1160.6,264.67 L1159.9,264.77 L1159.2,264.77 L1158.5,264.78 L1157.8,264.74 L1157.1,264.75 L1156.4,264.75 L1155.7,264.81 L1155,264.92 L1154.3,265.02 L1153.6,265.09 L1152.9,265.2 L1152.2,265.37 L1151.5,265.5 L1150.8,265.6 L1150.1,265.75 L1149.4,265.77 L1148.7,265.75 L1148,265.71 L1147.3,265.76 L1146.6,265.72 L1145.9,265.6 L1145.2,265.57 L1144.5,265.5 L1143.8,265.52 L1143.1,265.66 L1142.4,265.79 L1141.7,265.87 L1141,265.91 L1140.3,265.92 L1139.6,266.08 L1138.9,266.14 L1138.2,266.25 L1137.5,266.33 L1136.8,266.37 L1136.1,266.45 L1135.4,266.52 L1134.7,266.48 L1134,266.47 L1133.3,266.47 L1132.6,266.47 L1131.9,266.46 L1131.2,266.45 L1130.5,266.44 L1129.8,266.44 L1129.1,266.48 L1128.4,266.58 L1127.7,266.65 L1127,266.72 L1126.3,266.8 L1125.6,266.87 L1124.9,266.94 L1124.2,267.04 L1123.5,267.16 L1122.8,267.29 L1122.1,267.34 L1121.4,267.43 L1120.7,267.53 L1120,267.56 L1119.3,267.6 L1118.6,267.66 L1117.9,267.73 L1117.2,267.79 L1116.5,267.89 L1115.8,268.03 L1115.1,268.11 L1114.4,268.1 L1113.7,268.16 L1113,268.23 L1112.3,268.28 L1111.6,268.37 L1110.9,268.43 L1110.2,268.44 L1109.5,268.43 L1108.8,268.38 L1108.1,268.3 L1107.4,268.27 L1106.7,268.28 L1106,268.27 L1105.3,268.25 L1104.6,268.2 L1103.9,268.19 L1103.2,268.23 L1102.5,268.21 L1101.8,268.33 L1101.1,268.46 L1100.4,268.48 L1099.7,268.48 L1099,268.56 L1098.3,268.71 L1097.6,268.89 L1096.9,269.07 L1096.2,269.23 L1095.5,269.36 L1094.8,269.48 L1094.1,269.6 L1093.4,269.62 L1092.7,269.67 L1092,269.68 L1091.3,269.66 L1090.6,269.71 L1089.9,269.75 L1089.2,269.77 L1088.5,269.84 L1087.8,269.9 L1087.1,269.94 L1086.4,269.94 L1085.7,269.91 L1085,269.99 L1084.3,270.03 L1083.6,270.04 L1082.9,270.14 L1082.2,270.23 L1081.5,270.28 L1080.8,270.33 L1080.1,270.36 L1079.4,270.39 L1078.7,270.49 L1078,270.6 L1077.3,270.67 L1076.6,270.72 L1075.9,270.77 L1075.2,270.86 L1074.5,270.93 L1073.8,270.99 L1073.1,271.08 L1072.4,271.2 L1071.7,271.26 L1071,271.39 L1070.3,271.51 L1069.6,271.54 L1068.9,271.57 L1068.2,271.65 L1067.5,271.68 L1066.8,271.67 L1066.1,271.69 L1065.4,271.68 L1064.7,271.69 L1064,271.76 L1063.3,271.79 L1062.6,271.75 L1061.9,271.72 L1061.2,271.72 L1060.5,271.71 L1059.8,271.77 L1059.1,271.77 L1058.4,271.8 L1057.7,271.85 L1057,271.95 L1056.3,272.13 L1055.6,272.31 L1054.9,272.41 L1054.2,272.47 L1053.5,272.51 L1052.8,272.58 L1052.1,272.59 L1051.4,272.57 L1050.7,272.52 L1050,272.39 L1049.3,272.37 L1048.6,272.46 L1047.9,272.42 L1047.2,272.37 L1046.5,272.34 L1045.8,272.32 L1045.1,272.34 L1044.4,272.25 L1043.7,272.25 L1043,272.37 L1042.3,272.51 L1041.6,272.66 L1040.9,272.67 L1040.2,272.74 L1039.5,272.83 L1038.8,272.76 L1038.1,272.76 L1037.4,272.8 L1036.7,272.82 L1036,272.9 L1035.3,272.99 L1034.6,273.08 L1033.9,273.24 L1033.2,273.36 L1032.5,273.42 L1031.8,273.51 L1031.1,273.67 L1030.4,273.72 L1029.7,273.7 L1029,273.76 L1028.3,273.92 L1027.6,273.99 L1026.9,274.06 L1026.2,274.15 L1025.5,274.25 L1024.8,274.49 L1024.1,274.59 L1023.4,274.78 L1022.7,274.88 L1022,274.95 L1021.3,275 L1020.6,275.08 L1019.9,275.08 L1019.2,275.12 L1018.5,275.08 L1017.8,275.03 L1017.1,274.96 L1016.4,274.88 L1015.7,274.83 L1015,274.82 L1014.3,274.85 L1013.6,274.79 L1012.9,274.74 L1012.2,274.69 L1011.5,274.75 L1010.8,274.79 L1010.1,274.75 L1009.4,274.79 L1008.7,274.91 L1008,275.01 L1007.3,275.07 L1006.6,275.16 L1005.9,275.29 L1005.2,275.45 L1004.5,275.48 L1003.8,275.64 L1003.1,275.71 L1002.4,275.75 L1001.7,275.8 L1001,275.89 L1000.3,275.96 L999.6,276.12 L998.9,276.23 L998.2,276.33 L997.5,276.44 L996.8,276.54 L996.1,276.66 L995.4,276.73 L994.7,276.8 L994,276.9 L993.3,276.88 L992.6,276.93 L991.9,276.98 L991.2,276.99 L990.5,276.96 L989.8,276.85 L989.1,276.77 L988.4,276.75 L987.7,276.75 L987,276.83 L986.3,276.91 L985.6,276.97 L984.9,277.08 L984.2,277.09 L983.5,277.08 L982.8,277.11 L982.1,277.13 L981.4,277.25 L980.7,277.48 L980,277.58 L979.3,277.68 L978.6,277.65 L977.9,277.56 L977.2,277.54 L976.5,277.55 L975.8,277.53 L975.1,277.49 L974.4,277.51 L973.7,277.52 L973,277.43 L972.3,277.4 L971.6,277.36 L970.9,277.32 L970.2,277.39 L969.5,277.4 L968.8,277.48 L968.1,277.55 L967.4,277.6 L966.7,277.71 L966,277.81 L965.3,277.96 L964.6,278 L963.9,278.03 L963.2,278.06 L962.5,278.06 L961.8,278.1 L961.1,278.15 L960.4,278.23 L959.7,278.3 L959,278.34 L958.3,278.45 L957.6,278.55 L956.9,278.69 L956.2,278.8 L955.5,278.93 L954.8,278.98 L954.1,279.03 L953.4,279 L952.7,279.11 L952,279.17 L951.3,279.23 L950.6,279.43 L949.9,279.88 L949.2,280.1 L948.5,280.28 L947.8,280.39 L947.1,280.43 L946.4,280.41 L945.7,280.29 L945,280.29 L944.3,280.27 L943.6,280.38 L942.9,280.35 L942.2,280.39 L941.5,280.31 L940.8,280.27 L940.1,280.37 L939.4,280.49 L938.7,280.65 L938,280.86 L937.3,281.07 L936.6,281.19 L935.9,281.26 L935.2,281.19 L934.5,281.03 L933.8,280.83 L933.1,280.88 L932.4,280.83 L931.7,280.71 L931,280.72 L930.3,280.88 L929.6,281.14 L928.9,281.31 L928.2,281.37 L927.5,281.28 L926.8,281.15 L926.1,281.02 L925.4,281.07 L924.7,281.17 L924,281.22 L923.3,281.33 L922.6,281.58 L921.9,281.77 L921.2,281.8 L920.5,281.92 L919.8,282.11 L919.1,282.11 L918.4,282.06 L917.7,281.92 L917,281.84 L916.3,281.85 L915.6,281.77 L914.9,281.78 L914.2,281.7 L913.5,281.88 L912.8,282.01 L912.1,282.18 L911.4,282.41 L910.7,282.52 L910,282.45 L909.3,282.37 L908.6,282.35 L907.9,282.23 L907.2,282.24 L906.5,282.35 L905.8,282.51 L905.1,282.59 L904.4,282.73 L903.7,282.75 L903,282.7 L902.3,282.71 L901.6,282.82 L900.9,282.94 L900.2,282.91 L899.5,282.96 L898.8,282.93 L898.1,282.9 L897.4,283.05 L896.7,283.12 L896,283.2 L895.3,283.21 L894.6,283.3 L893.9,283.43 L893.2,283.4 L892.5,283.5 L891.8,283.67 L891.1,283.98 L890.4,284.01 L889.7,284 L889,283.97 L888.3,283.98 L887.6,284.05 L886.9,284.06 L886.2,284.26 L885.5,284.5 L884.8,284.68 L884.1,284.9 L883.4,285.02 L882.7,285.19 L882,285.19 L881.3,285.3 L880.6,285.25 L879.9,285.45 L879.2,285.5 L878.5,284.56 L877.8,285.09 L877.1,284.37 L876.4,284.32 L875.7,284.37 L875,284.15 L874.3,284.22 L873.6,283.73 L872.9,283.22 L872.2,283.78 L871.5,284.49 L870.8,283.99 L870.1,285.06 L869.4,285.02 L868.7,284.95 L868,285.25 L867.3,285.57 L866.6,286.04 L865.9,285.77 L865.2,287.03 L864.5,286.8 L863.8,285.69 L863.1,286.05 L862.4,286.05 L861.7,286.52 L861,286.39 L860.3,286.16 L859.6,286.54 L858.9,286.78 L858.2,286.62 L857.5,286.65 L856.8,286.69 L856.1,287.52 L855.4,288.4 L854.7,287.26 L854,286.55 L853.3,287.09 L852.6,286.67 L851.9,285.75 L851.2,285.68 L850.5,286.1 L849.8,286.17 L849.1,284.57 L848.4,284.03 L847.7,284.39 L847,285.76 L846.3,285.85 L845.6,286.08 L844.9,286.48 L844.2,286.03 L843.5,287.02 L842.8,288.14 L842.1,287.34 L841.4,286.56 L840.7,286.81 L840,287.62 L839.3,287.43 L838.6,287.98 L837.9,287.77 L837.2,286.49 L836.5,286.9 L835.8,287.34 L835.1,287.5 L834.4,287.74 L833.7,287.53 L833,286.99 L832.3,288.02 L831.6,288.35 L830.9,288.73 L830.2,288.17 L829.5,288.46 L828.8,288.31 L828.1,288.77 L827.4,289.43 L826.7,289.52 L826,289.38 L825.3,289.68 L824.6,290.6 L823.9,290.65 L823.2,289.44 L822.5,290.53 L821.8,290.64 L821.1,292.11 L820.4,292.61 L819.7,290.78 L819,290.6 L818.3,290.79 L817.6,290.91 L816.9,292.11 L816.2,291.86 L815.5,292.34 L814.8,291.74 L814.1,292.14 L813.4,292.97 L812.7,293.09 L812,292.33 L811.3,292.78 L810.6,292.84 L809.9,294.17 L809.2,295.43 L808.5,295.02 L807.8,295.17 L807.1,294.54 L806.4,294.9 L805.7,296.05 L805,296.23 L804.3,295.88 L803.6,296.87 L802.9,297.2 L802.2,296.61 L801.5,297.8 L800.8,296.75 L800.1,296.13 L799.4,296.44 L798.7,297.38 L798,298.92 L797.3,298.48 L796.6,299.93 L795.9,298.83 L795.2,300.17 L794.5,300.44 L793.8,299.96 L793.1,299.88 L792.4,301.35 L791.7,300.89 L791,300.71 L790.3,299.52 L789.6,300.4 L788.9,300.77 L788.2,301.58 L787.5,304.22 L786.8,306.66 L786.1,307.72 L785.4,310.08 L784.7,311.37 L784,313.52 L783.3,316.23 L782.6,318.36 L781.9,321.1 L781.2,324.86 L780.5,324.35 L779.8,329.46 Z" fill="#2ca02c" fill-opacity="0.2" stroke="#2ca02c" stroke-opacity="0.30000000000000004" stroke-width="0.9" stroke-linejoin="round" clip-path="url(#cb)"/>
<path d="M824.68,-5.6 L825.58,0.83 L826.51,7.14 L827.45,13.32 L828.41,19.38 L829.39,25.32 L830.39,31.15 L831.41,36.86 L832.45,42.46 L833.51,47.94 L834.59,53.33 L835.7,58.6 L836.82,63.77 L837.97,68.84 L839.14,73.82 L840.34,78.69 L841.55,83.47 L842.8,88.15 L844.07,92.75 L845.36,97.25 L846.68,101.66 L848.02,105.99 L849.4,110.24 L850.8,114.4 L852.22,118.47 L853.68,122.47 L855.17,126.39 L856.68,130.24 L858.23,134 L859.8,137.7 L861.41,141.32 L863.05,144.87 L864.72,148.35 L866.43,151.76 L868.17,155.11 L869.95,158.39 L871.76,161.6 L873.61,164.76 L875.49,167.85 L877.41,170.88 L879.37,173.85 L881.37,176.76 L883.41,179.62 L885.49,182.42 L887.61,185.16 L889.78,187.85 L891.98,190.49 L894.24,193.08 L896.53,195.61 L898.87,198.1 L901.26,200.53 L903.7,202.92 L906.19,205.27 L908.72,207.56 L911.31,209.81 L913.95,212.02 L916.64,214.19 L919.38,216.31 L922.18,218.39 L925.04,220.43 L927.95,222.43 L930.92,224.39 L933.95,226.31 L937.04,228.19 L940.2,230.04 L943.41,231.85 L946.69,233.63 L950.04,235.37 L953.45,237.07 L956.93,238.75 L960.48,240.39 L964.11,241.99 L967.8,243.57 L971.57,245.12 L975.41,246.63 L979.33,248.12 L983.33,249.57 L987.41,251 L991.57,252.4 L995.81,253.77 L1001.2,255.44 L1006.59,257.03 L1011.98,258.54 L1017.37,259.99 L1022.76,261.37 L1028.15,262.69 L1033.54,263.96 L1038.93,265.17 L1044.32,266.34 L1049.71,267.46 L1055.1,268.53 L1060.49,269.56 L1065.88,270.56 L1071.27,271.51 L1076.66,272.44 L1082.05,273.33 L1087.44,274.18 L1092.83,275.01 L1098.22,275.81 L1103.61,276.59 L1109,277.34 L1114.39,278.06 L1119.78,278.76 L1125.17,279.44 L1130.56,280.1 L1135.95,280.74 L1141.34,281.36 L1146.73,281.97 L1152.12,282.55 L1157.51,283.12 L1162.9,283.67 L1168.29,284.21 L1173.68,284.73 L1179.07,285.24 L1184.46,285.73 L1189.85,286.21 L1195.24,286.68 L1200.63,287.14 L1206.02,287.58 L1211.41,288.02 L1216.8,288.44 L1222.19,288.85 L1227.58,289.26 L1232.97,289.65 L1238.36,290.04 L1243.75,290.41 L1249.14,290.78 L1254.53,291.14 L1259.92,291.49 L1265.31,291.83 L1270.7,292.17 L1276.09,292.49 L1281.48,292.81 L1286.87,293.13 L1292.26,293.44 L1297.65,293.74 L1303.04,294.03 L1308.43,294.32 L1313.82,294.6 L1318.4,294.84" fill="none" stroke="#f77a10" stroke-width="4.0" stroke-linejoin="round" stroke-linecap="butt" clip-path="url(#cb)" stroke-opacity="0.3"/>
<path d="M824.68,-5.6 L825.58,0.83 L826.51,7.14 L827.45,13.32 L828.41,19.38 L829.39,25.32 L830.39,31.15 L831.41,36.86 L832.45,42.46 L833.51,47.94 L834.59,53.33 L835.7,58.6 L836.82,63.77 L837.97,68.84 L839.14,73.82 L840.34,78.69 L841.55,83.47 L842.8,88.15 L844.07,92.75 L845.36,97.25 L846.68,101.66 L848.02,105.99 L849.4,110.24 L850.8,114.4 L852.22,118.47 L853.68,122.47 L855.17,126.39 L856.68,130.24 L858.23,134 L859.8,137.7 L861.41,141.32 L863.05,144.87 L864.72,148.35 L866.43,151.76 L868.17,155.11 L869.95,158.39 L871.76,161.6 L873.61,164.76 L875.49,167.85 L877.41,170.88 L879.37,173.85 L881.37,176.76 L883.41,179.62 L885.49,182.42 L887.61,185.16 L889.78,187.85 L891.98,190.49 L894.24,193.08 L896.53,195.61 L898.87,198.1 L901.26,200.53 L903.7,202.92 L906.19,205.27 L908.72,207.56 L911.31,209.81 L913.95,212.02 L916.64,214.19 L919.38,216.31 L922.18,218.39 L925.04,220.43 L927.95,222.43 L930.92,224.39 L933.95,226.31 L937.04,228.19 L940.2,230.04 L943.41,231.85 L946.69,233.63 L950.04,235.37 L953.45,237.07 L956.93,238.75 L960.48,240.39 L964.11,241.99 L967.8,243.57 L971.57,245.12 L975.41,246.63 L979.33,248.12 L983.33,249.57 L987.41,251 L991.57,252.4 L995.81,253.77 L1001.2,255.44 L1006.59,257.03 L1011.98,258.54 L1017.37,259.99 L1022.76,261.37 L1028.15,262.69 L1033.54,263.96 L1038.93,265.17 L1044.32,266.34 L1049.71,267.46 L1055.1,268.53 L1060.49,269.56 L1065.88,270.56 L1071.27,271.51 L1076.66,272.44 L1082.05,273.33 L1087.44,274.18 L1092.83,275.01 L1098.22,275.81 L1103.61,276.59 L1109,277.34 L1114.39,278.06 L1119.78,278.76 L1125.17,279.44 L1130.56,280.1 L1135.95,280.74 L1141.34,281.36 L1146.73,281.97 L1152.12,282.55 L1157.51,283.12 L1162.9,283.67 L1168.29,284.21 L1173.68,284.73 L1179.07,285.24 L1184.46,285.73 L1189.85,286.21 L1195.24,286.68 L1200.63,287.14 L1206.02,287.58 L1211.41,288.02 L1216.8,288.44 L1222.19,288.85 L1227.58,289.26 L1232.97,289.65 L1238.36,290.04 L1243.75,290.41 L1249.14,290.78 L1254.53,291.14 L1259.92,291.49 L1265.31,291.83 L1270.7,292.17 L1276.09,292.49 L1281.48,292.81 L1286.87,293.13 L1292.26,293.44 L1297.65,293.74 L1303.04,294.03 L1308.43,294.32 L1313.82,294.6 L1318.4,294.84" fill="none" stroke="#f77a10" stroke-width="1.9" stroke-linejoin="round" stroke-linecap="butt" clip-path="url(#cb)"/>
<path d="M779.4,327 L783,325.2 L788,324 L797,322.8 L806,322.2 L870,321.9 L1318.4,322.1 L1318.4,323.7 L870,323.5 L806,323.8 L797,324.4 L788,325.6 L783,326.8 L779.4,328.6 Z" fill="#1f77b4" fill-opacity="0.2" stroke="#1f77b4" stroke-opacity="0.30000000000000004" stroke-width="0.9" stroke-linejoin="round" clip-path="url(#cb)"/>
<path d="M779.4,327.8 C780,327.5 781.57,326.5 783,326 C784.43,325.5 785.67,325.2 788,324.8 C790.33,324.4 794,323.9 797,323.6 C800,323.3 793.83,323.15 806,323 C818.17,322.85 784.6,322.72 870,322.7 C955.4,322.68 1243.67,322.87 1318.4,322.9" fill="none" stroke="#1d6dab" stroke-width="1.9" stroke-linejoin="round" stroke-linecap="butt" clip-path="url(#cb)"/>
<path d="M779.4,261 L779.4,309.5 L780.2,288.2 C780.42,288.03 780.2,287.67 781.5,287.2 C782.8,286.73 783.92,286.23 788,285.4 C792.08,284.57 799,283.17 806,282.2 C813,281.23 821,280.38 830,279.6 C839,278.82 850.42,278.1 860,277.5 C869.58,276.9 865,277.15 887.5,276 C910,274.85 959.1,272.73 995,270.6 C1030.9,268.47 1066.92,265.52 1102.9,263.2 C1138.88,260.88 1174.98,258.78 1210.9,256.7 C1246.82,254.62 1300.48,251.7 1318.4,250.7" fill="none" stroke="#289828" stroke-width="1.9" stroke-linejoin="round" stroke-linecap="butt" clip-path="url(#cb)"/>
<rect x="752.4" y="16.6" width="593.2" height="311.9" fill="none" stroke="#000" stroke-width="1.1"/>
<line x1="779.4" y1="328.5" x2="779.4" y2="333" stroke="#000" stroke-width="1.1"/>
<text x="779.4" y="346.3" font-family="'Liberation Sans', sans-serif" font-size="12.3" text-anchor="middle" textLength="7.56" lengthAdjust="spacingAndGlyphs">0</text>
<line x1="887.2" y1="328.5" x2="887.2" y2="333" stroke="#000" stroke-width="1.1"/>
<text x="887.2" y="346.3" font-family="'Liberation Sans', sans-serif" font-size="12.3" text-anchor="middle" textLength="37.8" lengthAdjust="spacingAndGlyphs">10000</text>
<line x1="995" y1="328.5" x2="995" y2="333" stroke="#000" stroke-width="1.1"/>
<text x="995" y="346.3" font-family="'Liberation Sans', sans-serif" font-size="12.3" text-anchor="middle" textLength="37.8" lengthAdjust="spacingAndGlyphs">20000</text>
<line x1="1102.8" y1="328.5" x2="1102.8" y2="333" stroke="#000" stroke-width="1.1"/>
<text x="1102.8" y="346.3" font-family="'Liberation Sans', sans-serif" font-size="12.3" text-anchor="middle" textLength="37.8" lengthAdjust="spacingAndGlyphs">30000</text>
<line x1="1210.6" y1="328.5" x2="1210.6" y2="333" stroke="#000" stroke-width="1.1"/>
<text x="1210.6" y="346.3" font-family="'Liberation Sans', sans-serif" font-size="12.3" text-anchor="middle" textLength="37.8" lengthAdjust="spacingAndGlyphs">40000</text>
<line x1="1318.4" y1="328.5" x2="1318.4" y2="333" stroke="#000" stroke-width="1.1"/>
<text x="1318.4" y="346.3" font-family="'Liberation Sans', sans-serif" font-size="12.3" text-anchor="middle" textLength="37.8" lengthAdjust="spacingAndGlyphs">50000</text>
<line x1="747.9" y1="328.5" x2="752.4" y2="328.5" stroke="#000" stroke-width="1.1"/>
<text x="742.1" y="332.9" font-family="'Liberation Sans', sans-serif" font-size="12.3" text-anchor="end" textLength="7.56" lengthAdjust="spacingAndGlyphs">0</text>
<line x1="747.9" y1="276.52" x2="752.4" y2="276.52" stroke="#000" stroke-width="1.1"/>
<text x="742.1" y="280.92" font-family="'Liberation Sans', sans-serif" font-size="12.3" text-anchor="end" textLength="15.12" lengthAdjust="spacingAndGlyphs">20</text>
<line x1="747.9" y1="224.53" x2="752.4" y2="224.53" stroke="#000" stroke-width="1.1"/>
<text x="742.1" y="228.93" font-family="'Liberation Sans', sans-serif" font-size="12.3" text-anchor="end" textLength="15.12" lengthAdjust="spacingAndGlyphs">40</text>
<line x1="747.9" y1="172.55" x2="752.4" y2="172.55" stroke="#000" stroke-width="1.1"/>
<text x="742.1" y="176.95" font-family="'Liberation Sans', sans-serif" font-size="12.3" text-anchor="end" textLength="15.12" lengthAdjust="spacingAndGlyphs">60</text>
<line x1="747.9" y1="120.57" x2="752.4" y2="120.57" stroke="#000" stroke-width="1.1"/>
<text x="742.1" y="124.97" font-family="'Liberation Sans', sans-serif" font-size="12.3" text-anchor="end" textLength="15.12" lengthAdjust="spacingAndGlyphs">80</text>
<line x1="747.9" y1="68.58" x2="752.4" y2="68.58" stroke="#000" stroke-width="1.1"/>
<text x="742.1" y="72.98" font-family="'Liberation Sans', sans-serif" font-size="12.3" text-anchor="end" textLength="22.68" lengthAdjust="spacingAndGlyphs">100</text>
<line x1="747.9" y1="16.6" x2="752.4" y2="16.6" stroke="#000" stroke-width="1.1"/>
<text x="742.1" y="21" font-family="'Liberation Sans', sans-serif" font-size="12.3" text-anchor="end" textLength="22.68" lengthAdjust="spacingAndGlyphs">120</text>
<text x="1049" y="362.8" font-family="'Liberation Sans', sans-serif" font-size="12.3" text-anchor="middle" textLength="30.1" lengthAdjust="spacingAndGlyphs">Time</text>
<text transform="translate(711.5,173.8) rotate(-90)" font-family="'Liberation Sans', sans-serif" font-size="11.6" text-anchor="middle" textLength="48" lengthAdjust="spacingAndGlyphs">Set size</text>
<rect x="1210.9" y="22.7" width="128.4" height="55.9" rx="2.5" ry="2.5" fill="#fff" fill-opacity="0.8" stroke="#cccccc" stroke-width="1"/>
<line x1="1215.3" y1="32.4" x2="1242" y2="32.4" stroke="#1f77b4" stroke-width="2"/>
<text x="1251.8" y="36.7" font-family="'Liberation Sans', sans-serif" font-size="12.3" text-anchor="start" textLength="25.3" lengthAdjust="spacingAndGlyphs">MVP</text>
<line x1="1215.3" y1="49.9" x2="1242" y2="49.9" stroke="#ff7f0e" stroke-width="2"/>
<text x="1251.8" y="54.2" font-family="'Liberation Sans', sans-serif" font-size="12.3" text-anchor="start" textLength="22.2" lengthAdjust="spacingAndGlyphs">SPS</text>
<line x1="1215.3" y1="67.9" x2="1242" y2="67.9" stroke="#2ca02c" stroke-width="2"/>
<text x="1251.8" y="72.2" font-family="'Liberation Sans', sans-serif" font-size="12.3" text-anchor="start" textLength="80.5" lengthAdjust="spacingAndGlyphs">OCP-Unlock+</text>
<clipPath id="cc"><rect x="65.5" y="431.3" width="590" height="310"/></clipPath>
<line x1="92.4" y1="431.3" x2="92.4" y2="741.3" stroke="#c4c4c4" stroke-width="0.8" stroke-dasharray="4.2 2.4"/>
<line x1="199.6" y1="431.3" x2="199.6" y2="741.3" stroke="#c4c4c4" stroke-width="0.8" stroke-dasharray="4.2 2.4"/>
<line x1="306.8" y1="431.3" x2="306.8" y2="741.3" stroke="#c4c4c4" stroke-width="0.8" stroke-dasharray="4.2 2.4"/>
<line x1="414" y1="431.3" x2="414" y2="741.3" stroke="#c4c4c4" stroke-width="0.8" stroke-dasharray="4.2 2.4"/>
<line x1="521.2" y1="431.3" x2="521.2" y2="741.3" stroke="#c4c4c4" stroke-width="0.8" stroke-dasharray="4.2 2.4"/>
<line x1="628.4" y1="431.3" x2="628.4" y2="741.3" stroke="#c4c4c4" stroke-width="0.8" stroke-dasharray="4.2 2.4"/>
<line x1="65.5" y1="741.3" x2="655.5" y2="741.3" stroke="#c4c4c4" stroke-width="0.8" stroke-dasharray="3.4 1.8"/>
<line x1="65.5" y1="702.55" x2="655.5" y2="702.55" stroke="#c4c4c4" stroke-width="0.8" stroke-dasharray="3.4 1.8"/>
<line x1="65.5" y1="663.8" x2="655.5" y2="663.8" stroke="#c4c4c4" stroke-width="0.8" stroke-dasharray="3.4 1.8"/>
<line x1="65.5" y1="625.05" x2="655.5" y2="625.05" stroke="#c4c4c4" stroke-width="0.8" stroke-dasharray="3.4 1.8"/>
<line x1="65.5" y1="586.3" x2="655.5" y2="586.3" stroke="#c4c4c4" stroke-width="0.8" stroke-dasharray="3.4 1.8"/>
<line x1="65.5" y1="547.55" x2="655.5" y2="547.55" stroke="#c4c4c4" stroke-width="0.8" stroke-dasharray="3.4 1.8"/>
<line x1="65.5" y1="508.8" x2="655.5" y2="508.8" stroke="#c4c4c4" stroke-width="0.8" stroke-dasharray="3.4 1.8"/>
<line x1="65.5" y1="470.05" x2="655.5" y2="470.05" stroke="#c4c4c4" stroke-width="0.8" stroke-dasharray="3.4 1.8"/>
<line x1="65.5" y1="431.3" x2="655.5" y2="431.3" stroke="#c4c4c4" stroke-width="0.8" stroke-dasharray="3.4 1.8"/>
<rect x="91.9" y="431.3" width="1.8" height="310" fill="#b4d9c9" clip-path="url(#cc)"/>
<path d="M93,432.13 L94.5,553.79 L96,574.75 L97.5,583.65 L99,589.36 L100.5,593.63 L102,597.87 L103.5,602.42 L105,603.93 L106.5,604.48 L108,604.24 L109.5,604.25 L111,604.57 L112.5,605.46 L114,606.39 L115.5,608.92 L117,610.38 L118.5,611.74 L120,613.07 L121.5,613.88 L123,614.93 L124.5,615.87 L126,616.36 L127.5,617.88 L129,618.37 L130.5,618.84 L132,618.94 L133.5,619.72 L135,620.92 L136.5,621.1 L138,621.66 L139.5,622.51 L141,623.07 L142.5,622.75 L144,623.98 L145.5,624.31 L147,624.54 L148.5,624.25 L150,624.65 L151.5,624.92 L153,624.24 L154.5,623.68 L156,623.53 L157.5,623.66 L159,624.14 L160.5,624.14 L162,624.05 L163.5,624.3 L165,624.07 L166.5,624.53 L168,625.94 L169.5,625.88 L171,626.33 L172.5,625.85 L174,625.51 L175.5,625.34 L177,624.85 L178.5,624.86 L180,625.37 L181.5,625.99 L183,626.88 L184.5,627.37 L186,626.7 L187.5,626.84 L189,627.58 L190.5,627.9 L192,628 L193.5,627.46 L195,627.44 L196.5,627.06 L198,626.69 L199.5,627.31 L199.9,627.5 L201.9,627.56 L203.9,627.19 L205.9,626.98 L207.9,626.43 L209.9,626.2 L211.9,626.01 L213.9,625.7 L215.9,625.32 L217.9,624.87 L219.9,624.65 L221.9,624.14 L223.9,623.8 L225.9,623.51 L227.9,623.25 L229.9,623.02 L231.9,622.94 L233.9,622.63 L235.9,622.35 L237.9,621.92 L239.9,621.82 L241.9,621.65 L243.9,621.55 L245.9,621.41 L247.9,621.27 L249.9,621.08 L251.9,620.94 L253.9,620.81 L255.9,620.68 L257.9,620.54 L259.9,620.42 L261.9,620.39 L263.9,620.32 L265.9,620.44 L267.9,620.23 L269.9,619.9 L271.9,619.32 L273.9,618.75 L275.9,618.38 L277.9,618.22 L279.9,618.13 L281.9,618.09 L283.9,618.06 L285.9,618.03 L287.9,617.83 L289.9,618.01 L291.9,617.84 L293.9,617.69 L295.9,617.45 L297.9,617.49 L299.9,617.43 L301.9,617.6 L303.9,617.64 L305.9,617.61 L306.9,617.6 L308.9,616.41 L310.9,615.84 L312.9,615.17 L314.9,614.52 L316.9,613.93 L318.9,613.47 L320.9,612.87 L322.9,612.23 L324.9,611.61 L326.9,611.04 L328.9,610.69 L330.9,610.28 L332.9,609.94 L334.9,609.58 L336.9,609.04 L338.9,608.52 L340.9,608.02 L342.9,607.4 L344.9,606.79 L346.9,606.16 L348.9,605.64 L350.9,605.21 L352.9,604.96 L354.9,604.61 L356.9,604.12 L358.9,603.73 L360.9,603.38 L362.9,603.12 L364.9,602.61 L366.9,602.04 L368.9,601.56 L370.9,601.05 L372.9,600.43 L374.9,599.99 L376.9,599.52 L378.9,599.04 L380.9,598.62 L382.9,598.15 L384.9,597.6 L386.9,597.11 L388.9,596.7 L390.9,596.25 L392.9,595.83 L394.9,595.42 L396.9,594.83 L398.9,594.25 L400.9,593.71 L402.9,593.36 L404.9,592.99 L406.9,592.62 L408.9,592.21 L410.9,591.76 L412.9,591.26 L414.9,590.75 L416.9,590.22 L418.9,589.62 L420.9,589.08 L422.9,588.62 L424.9,588.23 L426.9,587.79 L428.9,587.5 L430.9,587.22 L432.9,586.92 L434.9,586.55 L436.9,586.26 L438.9,585.93 L440.9,585.57 L442.9,585.23 L444.9,584.85 L446.9,584.46 L448.9,584.17 L450.9,583.89 L452.9,583.68 L454.9,583.22 L456.9,582.77 L458.9,582.35 L460.9,582.06 L462.9,581.74 L464.9,581.33 L466.9,580.87 L468.9,580.51 L470.9,580.23 L472.9,580.02 L474.9,579.74 L476.9,579.53 L478.9,579.3 L480.9,578.83 L482.9,578.55 L484.9,578.27 L486.9,577.97 L488.9,577.82 L490.9,577.55 L492.9,577.3 L494.9,577.01 L496.9,576.66 L498.9,576.13 L500.9,575.68 L502.9,575.27 L504.9,574.99 L506.9,574.83 L508.9,574.44 L510.9,574.09 L512.9,573.92 L514.9,573.67 L516.9,573.2 L518.9,572.83 L520.9,572.45 L521.3,572.5 L523.3,572.34 L525.3,572.66 L527.3,572.72 L529.3,573.1 L531.3,573.33 L533.3,573.67 L535.3,573.82 L537.3,574.03 L539.3,574.26 L541.3,574.41 L543.3,574.68 L545.3,574.95 L547.3,575.27 L549.3,575.34 L551.3,575.37 L553.3,575.71 L555.3,575.99 L557.3,576.26 L559.3,576.55 L561.3,576.63 L563.3,576.53 L565.3,576.73 L567.3,576.68 L569.3,576.71 L571.3,576.8 L573.3,576.97 L575.3,577.13 L577.3,577.12 L579.3,577.3 L581.3,577.46 L583.3,577.71 L585.3,577.99 L587.3,578.32 L589.3,578.54 L591.3,578.6 L593.3,578.83 L595.3,579 L597.3,579.47 L599.3,579.91 L601.3,580.24 L603.3,580.65 L605.3,580.65 L607.3,580.59 L609.3,580.69 L611.3,580.73 L613.3,580.9 L615.3,580.96 L617.3,581.01 L619.3,581.03 L621.3,581.5 L623.3,582.09 L625.3,582.54 L627.3,582.87 L628.4,583 L628.4,589.5 L627.3,589.39 L625.3,589.22 L623.3,589.04 L621.3,588.99 L619.3,588.64 L617.3,588.46 L615.3,588.15 L613.3,587.89 L611.3,587.62 L609.3,587.48 L607.3,587.34 L605.3,587.09 L603.3,586.94 L601.3,586.88 L599.3,586.87 L597.3,586.67 L595.3,586.51 L593.3,586.29 L591.3,586.23 L589.3,586.01 L587.3,585.72 L585.3,585.62 L583.3,585.52 L581.3,585.52 L579.3,585.5 L577.3,585.22 L575.3,585 L573.3,584.81 L571.3,584.45 L569.3,584.21 L567.3,583.75 L565.3,583.38 L563.3,583.3 L561.3,583.23 L559.3,582.99 L557.3,582.58 L555.3,582.02 L553.3,581.6 L551.3,581.32 L549.3,581.05 L547.3,580.85 L545.3,580.51 L543.3,580.59 L541.3,580.35 L539.3,580.21 L537.3,579.89 L535.3,579.6 L533.3,579.33 L531.3,579.08 L529.3,578.93 L527.3,578.78 L525.3,578.63 L523.3,578.43 L521.3,579 L520.9,579.19 L518.9,579.67 L516.9,580.28 L514.9,580.89 L512.9,581.35 L510.9,581.69 L508.9,582.11 L506.9,582.56 L504.9,583.09 L502.9,583.31 L500.9,583.47 L498.9,583.84 L496.9,584.13 L494.9,584.47 L492.9,584.79 L490.9,584.99 L488.9,585.3 L486.9,585.75 L484.9,586.01 L482.9,586.49 L480.9,586.86 L478.9,587.24 L476.9,587.58 L474.9,587.83 L472.9,588.09 L470.9,588.49 L468.9,588.86 L466.9,589.22 L464.9,589.59 L462.9,589.93 L460.9,590.11 L458.9,590.29 L456.9,590.72 L454.9,591.24 L452.9,591.75 L450.9,592.12 L448.9,592.46 L446.9,592.84 L444.9,593.33 L442.9,593.81 L440.9,594.41 L438.9,594.99 L436.9,595.67 L434.9,596.33 L432.9,596.95 L430.9,597.51 L428.9,597.58 L426.9,597.8 L424.9,598.11 L422.9,598.5 L420.9,598.94 L418.9,599.4 L416.9,599.89 L414.9,600.35 L412.9,600.69 L410.9,600.85 L408.9,600.96 L406.9,601.22 L404.9,601.48 L402.9,601.77 L400.9,602.08 L398.9,602.35 L396.9,602.86 L394.9,603.52 L392.9,604.16 L390.9,604.82 L388.9,605.36 L386.9,606.06 L384.9,606.6 L382.9,607.07 L380.9,607.6 L378.9,608.14 L376.9,608.72 L374.9,609.35 L372.9,609.96 L370.9,610.61 L368.9,611.08 L366.9,611.46 L364.9,611.85 L362.9,612.23 L360.9,612.46 L358.9,612.85 L356.9,613.35 L354.9,614.02 L352.9,614.61 L350.9,615.04 L348.9,615.63 L346.9,616.17 L344.9,616.63 L342.9,617.16 L340.9,617.67 L338.9,618.29 L336.9,618.56 L334.9,618.99 L332.9,619.43 L330.9,619.73 L328.9,620.03 L326.9,620.46 L324.9,620.93 L322.9,621.36 L320.9,621.8 L318.9,622.27 L316.9,622.77 L314.9,623.35 L312.9,623.77 L310.9,624.3 L308.9,624.97 L306.9,626.2 L305.9,626.43 L303.9,626.65 L301.9,626.86 L299.9,627.06 L297.9,627.25 L295.9,627.38 L293.9,627.52 L291.9,627.69 L289.9,627.82 L287.9,628.05 L285.9,628.36 L283.9,628.56 L281.9,628.78 L279.9,629.1 L277.9,629.33 L275.9,629.81 L273.9,629.95 L271.9,630.04 L269.9,630.17 L267.9,630.31 L265.9,630.63 L263.9,630.83 L261.9,630.95 L259.9,630.91 L257.9,631.2 L255.9,631.41 L253.9,631.61 L251.9,631.65 L249.9,631.86 L247.9,631.95 L245.9,632.01 L243.9,632.26 L241.9,632.54 L239.9,632.75 L237.9,632.91 L235.9,633.19 L233.9,633.41 L231.9,633.47 L229.9,633.65 L227.9,634.14 L225.9,634.47 L223.9,634.83 L221.9,635.34 L219.9,635.8 L217.9,636.41 L215.9,636.84 L213.9,637.3 L211.9,637.78 L209.9,638.12 L207.9,638.72 L205.9,639.27 L203.9,639.93 L201.9,640.36 L199.9,640.2 L199.5,640.07 L198,640.12 L196.5,640.17 L195,640.39 L193.5,640.56 L192,640.77 L190.5,640.73 L189,641.03 L187.5,641.11 L186,641.19 L184.5,641.33 L183,641.22 L181.5,640.65 L180,640.15 L178.5,639.28 L177,638.97 L175.5,638.54 L174,638.19 L172.5,637.97 L171,637.9 L169.5,637.87 L168,638.05 L166.5,637.99 L165,637.73 L163.5,637.17 L162,636.85 L160.5,636.6 L159,636.6 L157.5,636.05 L156,635.36 L154.5,635 L153,634.87 L151.5,635.2 L150,635.21 L148.5,635.24 L147,635.13 L145.5,635.19 L144,635.86 L142.5,636.11 L141,636.55 L139.5,636.68 L138,636.73 L136.5,636.76 L135,636.94 L133.5,637.1 L132,637.22 L130.5,637.33 L129,637.36 L127.5,637.53 L126,637.69 L124.5,637.71 L123,637.72 L121.5,637.32 L120,637.23 L118.5,637.17 L117,637.09 L115.5,636.91 L114,636.95 L112.5,636.9 L111,637.13 L109.5,637.33 L108,637.12 L106.5,636.82 L105,637.06 L103.5,637.17 L102,637.44 L100.5,638.23 L99,638.55 L97.5,639.82 L96,648.62 L94.5,656.22 L93,739.75 Z" fill="#2ca02c" fill-opacity="0.2" stroke="#2ca02c" stroke-opacity="0.30000000000000004" stroke-width="0.9" stroke-linejoin="round" clip-path="url(#cc)"/>
<path d="M93.5,343.17 L93.75,343.17 L94,343.17 L94.25,364.19 L94.5,382.6 L94.75,398.83 L95,413.24 L95.25,426.11 L95.5,437.65 L95.75,448.06 L96,457.49 L96.25,466.06 L96.5,473.89 L96.75,481.05 L97,487.63 L97.25,493.7 L97.5,499.3 L97.75,504.49 L98,509.31 L98.25,513.8 L98.5,517.98 L98.75,521.89 L99,525.55 L99.25,528.98 L99.5,532.21 L99.75,535.25 L100,538.11 L101,548.07 L102,556.14 L103,562.79 L104,568.35 L105,573.06 L106,575.34 L107,577.44 L108,579.88 L109,581.82 L110,583.43 L111,585.4 L112,587.47 L113,589.2 L114,590.36 L115,591.34 L116,592.46 L117,593.3 L118,593.79 L119,594.55 L120,595.02 L121,595.69 L122,596.27 L123,596.63 L124,596.86 L125,597.4 L126,597.71 L127,598.29 L128,598.55 L129,599.18 L130,599.84 L131,600.56 L132,601.42 L133,602.22 L134,602.98 L135,603.3 L136,603.57 L137,603.61 L138,604.05 L139,604.28 L140,604.36 L141,604.25 L142,603.78 L143,603.57 L144,603.69 L145,603.98 L146,604.39 L147,604.35 L148,604.83 L149,605.24 L150,605.34 L152.5,605.75 L155,606.5 L157.5,607.46 L160,608.25 L162.5,608.84 L165,609.6 L167.5,610.46 L170,611 L172.5,611.72 L175,611.97 L177.5,612.43 L180,612.33 L182.5,612.69 L185,612.7 L187.5,612.74 L190,613.24 L192.5,613.72 L195,614.09 L197.5,614.34 L199.9,614.6 L201.4,613.78 L202.9,613.69 L204.4,613.7 L205.9,613.56 L207.4,613.49 L208.9,613.46 L210.4,613.6 L211.9,613.59 L213.4,613.13 L214.9,612.21 L216.4,611.58 L217.9,611.23 L219.4,611.2 L220.9,611.27 L222.4,611.15 L223.9,611.06 L225.4,610.95 L226.9,610.84 L228.4,610.84 L229.9,610.9 L231.4,610.98 L232.9,611.09 L234.4,611.18 L235.9,611.28 L237.4,611.37 L238.9,611.55 L240.4,611.62 L241.9,611.62 L243.4,611.66 L244.9,611.7 L246.4,611.78 L247.9,611.99 L249.4,612.13 L250.9,612.29 L252.4,612.36 L253.9,612.31 L255.4,612.34 L256.9,612.45 L258.4,612.5 L259.9,612.58 L261.4,612.69 L262.9,612.82 L264.4,612.91 L265.9,613.09 L267.4,613.27 L268.9,613.37 L270.4,613.52 L271.9,613.72 L273.4,613.91 L274.9,614.05 L276.4,614.16 L277.9,614.26 L279.4,614.28 L280.9,614.39 L282.4,614.4 L283.9,614.41 L285.4,614.46 L286.9,614.67 L288.4,614.78 L289.9,614.91 L291.4,615.04 L292.9,615.08 L294.4,615.21 L295.9,615.31 L297.4,615.4 L298.9,615.4 L300.4,615.42 L301.9,615.33 L303.4,615.3 L304.9,615.3 L306.4,615.35 L308.4,615.05 L309.9,614.54 L311.4,614.06 L312.9,613.67 L314.4,613.32 L315.9,613.02 L317.4,612.86 L318.9,612.77 L320.4,612.66 L321.9,612.63 L323.4,612.6 L324.9,612.58 L326.4,612.62 L327.9,612.73 L329.4,612.87 L330.9,612.96 L332.4,612.99 L333.9,613.12 L335.4,613.22 L336.9,613.26 L338.4,613.41 L339.9,613.67 L341.4,613.88 L342.9,614.04 L344.4,614.18 L345.9,614.23 L347.4,614.24 L348.9,614.16 L350.4,614.1 L351.9,614.05 L353.4,614.08 L354.9,614.1 L356.4,614.14 L357.9,614.24 L359.4,614.3 L360.9,614.33 L362.4,614.39 L363.9,614.45 L365.4,614.49 L366.9,614.5 L368.4,614.58 L369.9,614.6 L371.4,614.67 L372.9,614.72 L374.4,614.83 L375.9,614.78 L377.4,614.85 L378.9,614.85 L380.4,614.93 L381.9,614.89 L383.4,614.95 L384.9,614.96 L386.4,614.97 L387.9,614.91 L389.4,614.94 L390.9,614.99 L392.4,614.99 L393.9,614.9 L395.4,614.84 L396.9,614.9 L398.4,614.96 L399.9,615.04 L401.4,615.1 L402.9,615.16 L404.4,615.29 L405.9,615.42 L407.4,615.44 L408.9,615.4 L410.4,615.38 L411.9,615.3 L413.4,615.32 L414.9,615.36 L416.4,615.38 L417.9,615.4 L419.4,615.44 L420.9,615.44 L422.4,615.21 L423.9,614.76 L425.4,614.31 L426.9,613.96 L428.4,613.9 L429.9,613.9 L431.4,613.86 L432.9,613.93 L434.4,614.06 L435.9,614.09 L437.4,614.13 L438.9,614.18 L440.4,614.07 L441.9,614.13 L443.4,614.11 L444.9,614.21 L446.4,614.29 L447.9,614.34 L449.4,614.4 L450.9,614.5 L452.4,614.56 L453.9,614.61 L455.4,614.62 L456.9,614.57 L458.4,614.5 L459.9,614.29 L461.4,614.11 L462.9,614.05 L464.4,614.12 L465.9,614.16 L467.4,614.28 L468.9,614.41 L470.4,614.51 L471.9,614.48 L473.4,614.54 L474.9,614.55 L476.4,614.65 L477.9,614.68 L479.4,614.87 L480.9,614.95 L482.4,615.06 L483.9,615 L485.4,614.94 L486.9,614.96 L488.4,615.01 L489.9,615.12 L491.4,615.21 L492.9,615.22 L494.4,615.22 L495.9,615.25 L497.4,615.31 L498.9,615.25 L500.4,615.26 L501.9,615.22 L503.4,615.24 L504.9,615.33 L506.4,615.35 L507.9,615.51 L509.4,615.55 L510.9,615.45 L512.4,615.43 L513.9,615.5 L515.4,615.59 L516.9,615.7 L518.4,615.87 L519.9,615.99 L522.8,616.23 L524.3,616.48 L525.8,616.69 L527.3,616.94 L528.8,617.19 L530.3,617.48 L531.8,617.77 L533.3,618.03 L534.8,618.3 L536.3,618.53 L537.8,618.8 L539.3,619.01 L540.8,619.33 L542.3,619.58 L543.8,619.83 L545.3,620.03 L546.8,620.21 L548.3,620.39 L549.8,620.54 L551.3,620.7 L552.8,620.83 L554.3,621.1 L555.8,621.4 L557.3,621.68 L558.8,622.06 L560.3,622.27 L561.8,622.39 L563.3,622.67 L564.8,622.84 L566.3,622.99 L567.8,623.1 L569.3,623.11 L570.8,623.17 L572.3,623.2 L573.8,623.16 L575.3,623.18 L576.8,623.21 L578.3,623.23 L579.8,623.21 L581.3,623.26 L582.8,623.31 L584.3,623.41 L585.8,623.44 L587.3,623.51 L588.8,623.54 L590.3,623.57 L591.8,623.65 L593.3,623.67 L594.8,623.67 L596.3,623.71 L597.8,623.68 L599.3,623.54 L600.8,623.55 L602.3,623.49 L603.8,623.58 L605.3,623.67 L606.8,623.7 L608.3,623.69 L609.8,623.64 L611.3,623.61 L612.8,623.52 L614.3,623.51 L615.8,623.33 L617.3,623.3 L618.8,623.25 L620.3,623.3 L621.8,623.33 L623.3,623.39 L624.8,623.52 L626.3,623.54 L627.8,623.6 L627.8,626.1 L626.3,626.11 L624.8,625.98 L623.3,625.9 L621.8,625.87 L620.3,625.86 L618.8,625.81 L617.3,625.76 L615.8,625.82 L614.3,625.86 L612.8,625.92 L611.3,626.1 L609.8,626.28 L608.3,626.29 L606.8,626.18 L605.3,626.09 L603.8,625.94 L602.3,625.86 L600.8,625.83 L599.3,625.86 L597.8,625.96 L596.3,626.07 L594.8,626.12 L593.3,626.12 L591.8,626.14 L590.3,626.11 L588.8,626.11 L587.3,626.07 L585.8,626.06 L584.3,626.02 L582.8,626.01 L581.3,625.9 L579.8,625.86 L578.3,625.88 L576.8,625.92 L575.3,625.9 L573.8,625.75 L572.3,625.67 L570.8,625.59 L569.3,625.45 L567.8,625.36 L566.3,625.24 L564.8,625.09 L563.3,625.01 L561.8,624.78 L560.3,624.54 L558.8,624.43 L557.3,624.21 L555.8,624.02 L554.3,623.81 L552.8,623.64 L551.3,623.45 L549.8,623.4 L548.3,623.3 L546.8,623.03 L545.3,622.86 L543.8,622.67 L542.3,622.34 L540.8,622.18 L539.3,621.96 L537.8,621.91 L536.3,621.71 L534.8,621.38 L533.3,620.95 L531.8,620.46 L530.3,620.07 L528.8,619.83 L527.3,619.56 L525.8,619.24 L524.3,618.92 L522.8,618.63 L519.9,618.28 L518.4,618.38 L516.9,618.44 L515.4,618.35 L513.9,618.33 L512.4,618.29 L510.9,618.23 L509.4,618.28 L507.9,618.28 L506.4,618.36 L504.9,618.37 L503.4,618.34 L501.9,618.17 L500.4,618.01 L498.9,617.86 L497.4,617.82 L495.9,617.78 L494.4,617.78 L492.9,617.82 L491.4,617.86 L489.9,617.76 L488.4,617.63 L486.9,617.54 L485.4,617.48 L483.9,617.37 L482.4,617.23 L480.9,617.25 L479.4,617.28 L477.9,617.34 L476.4,617.43 L474.9,617.53 L473.4,617.51 L471.9,617.52 L470.4,617.46 L468.9,617.33 L467.4,617.15 L465.9,616.93 L464.4,616.84 L462.9,616.82 L461.4,616.82 L459.9,616.76 L458.4,616.66 L456.9,616.53 L455.4,616.51 L453.9,616.62 L452.4,616.82 L450.9,616.93 L449.4,616.99 L447.9,617.08 L446.4,617.3 L444.9,617.42 L443.4,617.39 L441.9,617.42 L440.4,617.47 L438.9,617.52 L437.4,617.64 L435.9,617.54 L434.4,617.46 L432.9,617.36 L431.4,617.18 L429.9,617.09 L428.4,617.11 L426.9,617.23 L425.4,617.37 L423.9,617.76 L422.4,618.06 L420.9,618.09 L419.4,618.04 L417.9,618.11 L416.4,618.08 L414.9,618.09 L413.4,618.12 L411.9,618.21 L410.4,618.32 L408.9,618.36 L407.4,618.35 L405.9,618.32 L404.4,618.35 L402.9,618.49 L401.4,618.6 L399.9,618.68 L398.4,618.61 L396.9,618.45 L395.4,618.3 L393.9,618.32 L392.4,618.3 L390.9,618.19 L389.4,618.11 L387.9,618.16 L386.4,618.24 L384.9,618.22 L383.4,618.15 L381.9,618.05 L380.4,618 L378.9,618.08 L377.4,618.25 L375.9,618.17 L374.4,618.09 L372.9,618.12 L371.4,618.02 L369.9,617.96 L368.4,617.74 L366.9,617.71 L365.4,617.65 L363.9,617.63 L362.4,617.59 L360.9,617.62 L359.4,617.7 L357.9,617.76 L356.4,617.87 L354.9,617.84 L353.4,617.83 L351.9,617.7 L350.4,617.61 L348.9,617.56 L347.4,617.46 L345.9,617.54 L344.4,617.45 L342.9,617.38 L341.4,617.28 L339.9,617.27 L338.4,617.17 L336.9,617.06 L335.4,617 L333.9,616.91 L332.4,616.78 L330.9,616.71 L329.4,616.64 L327.9,616.54 L326.4,616.55 L324.9,616.58 L323.4,616.57 L321.9,616.66 L320.4,616.71 L318.9,616.73 L317.4,616.84 L315.9,616.98 L314.4,617.15 L312.9,617.53 L311.4,618.04 L309.9,618.54 L308.4,619.07 L306.4,619.55 L304.9,619.49 L303.4,619.45 L301.9,619.48 L300.4,619.53 L298.9,619.45 L297.4,619.39 L295.9,619.34 L294.4,619.22 L292.9,619.09 L291.4,619 L289.9,618.84 L288.4,618.77 L286.9,618.69 L285.4,618.58 L283.9,618.46 L282.4,618.44 L280.9,618.45 L279.4,618.36 L277.9,618.21 L276.4,618.06 L274.9,617.93 L273.4,617.95 L271.9,617.93 L270.4,617.98 L268.9,617.86 L267.4,617.78 L265.9,617.68 L264.4,617.68 L262.9,617.74 L261.4,617.82 L259.9,617.85 L258.4,617.79 L256.9,617.71 L255.4,617.58 L253.9,617.61 L252.4,617.52 L250.9,617.43 L249.4,617.37 L247.9,617.44 L246.4,617.43 L244.9,617.43 L243.4,617.27 L241.9,617.13 L240.4,616.94 L238.9,616.87 L237.4,616.79 L235.9,616.8 L234.4,616.8 L232.9,616.84 L231.4,616.91 L229.9,616.87 L228.4,616.87 L226.9,616.97 L225.4,616.93 L223.9,616.91 L222.4,616.95 L220.9,617.04 L219.4,617.16 L217.9,617.03 L216.4,617.64 L214.9,618.09 L213.4,618.44 L211.9,618.45 L210.4,618.61 L208.9,619.21 L207.4,620.08 L205.9,621.08 L204.4,621.77 L202.9,622.77 L201.4,623.35 L199.9,624.66 L197.5,624.53 L195,624.4 L192.5,624.11 L190,624.23 L187.5,624.36 L185,624.32 L182.5,624.05 L180,623.82 L177.5,623.57 L175,623.41 L172.5,622.97 L170,622.38 L167.5,621.91 L165,621.67 L162.5,621.77 L160,621.78 L157.5,621.91 L155,621.75 L152.5,621.55 L150,621.46 L149,621.25 L148,621.28 L147,621.47 L146,621.88 L145,622.17 L144,621.84 L143,621.43 L142,620.87 L141,620.45 L140,619.98 L139,619.54 L138,619.53 L137,619.22 L136,619.06 L135,619.32 L134,619.64 L133,619.6 L132,619.4 L131,619.13 L130,618.53 L129,617.77 L128,617.39 L127,617.18 L126,616.32 L125,615.56 L124,614.66 L123,613.88 L122,613.29 L121,612.86 L120,612.28 L119,611.5 L118,610.61 L117,609.52 L116,608.15 L115,607.14 L114,606.11 L113,604.98 L112,603.99 L111,602.55 L110,601.25 L109,599.74 L108,597.65 L107,595.45 L106,592.95 L105,590.68 L104,588.24 L103,585.25 L102,581.78 L101,577.09 L100,571.11 L99.75,569.41 L99.5,567.68 L99.25,565.59 L99,563.23 L98.75,560.83 L98.5,558.72 L98.25,556.28 L98,553.73 L97.75,551.74 L97.5,549.65 L97.25,547.44 L97,545.12 L96.75,542.66 L96.5,540.07 L96.25,537.32 L96,534.41 L95.75,531.33 L95.5,528.04 L95.25,524.55 L95,520.82 L94.75,516.84 L94.5,512.57 L94.25,508 L94,503.08 L93.75,497.77 L93.5,492.05 Z" fill="#1f77b4" fill-opacity="0.2" stroke="#1f77b4" stroke-opacity="0.30000000000000004" stroke-width="0.9" stroke-linejoin="round" clip-path="url(#cc)"/>
<path d="M98.9,737.09 L99.9,733.82 L100.9,730.77 L101.9,728.91 L102.9,726.74 L103.9,723.69 L104.9,720.91 L105.9,718.99 L106.9,716.94 L107.9,713.29 L108.9,711.02 L109.9,708.44 L110.9,706.55 L111.9,705.75 L112.9,703.59 L113.9,702.22 L114.9,701.04 L115.9,700.79 L116.9,700.06 L117.9,698.93 L118.9,698.58 L119.9,696.51 L120.9,695.6 L121.9,695.62 L122.9,695.25 L123.9,693.57 L124.9,692.72 L125.9,692.42 L126.9,692.32 L127.9,691.68 L128.9,691.26 L129.9,690.13 L130.9,689.63 L131.9,689.12 L132.9,687.29 L133.9,686.05 L134.9,685.88 L135.9,686 L136.9,685.66 L137.9,684.44 L138.9,683.27 L139.9,683.16 L140.9,683.63 L141.9,683.6 L142.9,682.76 L143.9,682.36 L144.9,682.19 L145.9,681.43 L146.9,680.1 L147.9,680.23 L148.9,679.96 L149.9,680.31 L150.9,679.97 L151.9,679.67 L152.9,678.21 L153.9,677.62 L154.9,678.27 L155.9,677.59 L156.9,677.04 L157.9,676.9 L158.9,676.89 L159.9,676.34 L160.9,675.78 L161.9,674.83 L162.9,675.55 L163.9,675.15 L164.9,675.38 L165.9,674.26 L166.9,674.9 L167.9,673.69 L168.9,672.97 L169.9,673.17 L170.9,672.55 L171.9,672.28 L172.9,673.05 L173.9,671.93 L174.9,671.84 L175.9,672.24 L176.9,672.02 L177.9,672.35 L178.9,671.95 L179.9,670.87 L180.9,670.79 L181.9,669.95 L182.9,669.74 L183.9,670.36 L184.9,669.85 L185.9,670.28 L186.9,669.66 L187.9,669.74 L188.9,669.28 L189.9,669.49 L190.9,668.52 L191.9,668.77 L192.9,667.43 L193.9,667.94 L194.9,667.87 L195.9,666.79 L196.9,666.98 L197.9,666.44 L198.9,666.09 L199.9,664.96 L199.9,664.9 L200.9,664.65 L202.9,663.32 L204.9,661.86 L206.9,661.46 L208.9,660.72 L210.9,659.49 L212.9,657.45 L214.9,656.39 L216.9,654.75 L218.9,653.26 L220.9,652.01 L222.9,651.45 L224.9,650.33 L226.9,649.75 L228.9,649.19 L230.9,648.32 L232.9,647.98 L234.9,646.1 L236.9,645.4 L238.9,644.61 L240.9,644.23 L242.9,643.7 L244.9,642.88 L246.9,642.36 L248.9,640.87 L250.9,640.62 L252.9,640.31 L254.9,639.72 L256.9,638.21 L258.9,638.26 L260.9,637.34 L262.9,636.82 L264.9,636.24 L266.9,636.17 L268.9,636.12 L270.9,635.29 L272.9,634.79 L274.9,634.29 L276.9,633.57 L278.9,633.14 L280.9,633.14 L282.9,632.46 L284.9,631.83 L286.9,631.41 L288.9,631.55 L290.9,631.04 L292.9,630.54 L294.9,630.09 L296.9,629.86 L298.9,629.89 L300.9,629.27 L302.9,628.75 L304.9,628.74 L306.9,628.1 L306.9,628.42 L308.9,627.27 L310.9,625.5 L312.9,624.16 L314.9,623.2 L316.9,622.16 L318.9,621.52 L320.9,620.85 L322.9,619.97 L324.9,619.7 L326.9,618.55 L328.9,617.93 L330.9,617.48 L332.9,616.72 L334.9,615.81 L336.9,615.47 L338.9,615.14 L340.9,614.46 L342.9,613.29 L344.9,612.49 L346.9,611.87 L348.9,610.77 L350.9,610.39 L352.9,609.5 L354.9,608.89 L356.9,608.29 L358.9,607.42 L360.9,606.24 L362.9,605.53 L364.9,605.08 L366.9,603.9 L368.9,602.89 L370.9,601.9 L372.9,601.48 L374.9,601.03 L376.9,600.25 L378.9,599.3 L380.9,598.29 L382.9,597.18 L384.9,596.7 L386.9,595.51 L388.9,594.79 L390.9,594.18 L392.9,593.37 L394.9,592.95 L396.9,592.69 L398.9,591.63 L400.9,591.42 L402.9,590.89 L404.9,590.7 L406.9,590.37 L408.9,589.84 L410.9,588.77 L412.9,588.68 L414.5,588.51 L416.5,587.43 L418.5,586.83 L420.5,585.85 L422.5,585.06 L424.5,584.15 L426.5,583.47 L428.5,582.06 L430.5,581.03 L432.5,580.65 L434.5,579.89 L436.5,578.77 L438.5,578.3 L440.5,577.21 L442.5,576.52 L444.5,576.01 L446.5,575.21 L448.5,573.85 L450.5,573.31 L452.5,572.3 L454.5,571.48 L456.5,570.43 L458.5,569.48 L460.5,568.78 L462.5,567.91 L464.5,567.09 L466.5,566.75 L468.5,566.27 L470.5,565.92 L472.5,564.8 L474.5,564.05 L476.5,563.4 L478.5,562.81 L480.5,562.57 L482.5,561.61 L484.5,561.41 L486.5,560.6 L488.5,560.32 L490.5,559.35 L492.5,558.78 L494.5,558.22 L496.5,557.94 L498.5,557.44 L500.5,556.99 L502.5,556.03 L504.5,555.61 L506.5,555.02 L508.5,554.58 L510.5,553.86 L512.5,553.29 L514.5,553.21 L516.5,552.79 L518.5,552.43 L520.5,551.62 L521.3,550.88 L523.3,550.71 L525.3,551.06 L527.3,551.04 L529.3,551.39 L531.3,551.11 L533.3,550.91 L535.3,551.47 L537.3,551.56 L539.3,551.31 L541.3,551.19 L543.3,550.93 L545.3,551.46 L547.3,551.55 L549.3,551.7 L551.3,551.56 L553.3,551.79 L555.3,551.99 L557.3,552.22 L559.3,551.75 L561.3,551.83 L563.3,551.45 L565.3,551.19 L567.3,551.54 L569.3,551.95 L571.3,552.07 L573.3,551.73 L575.3,551.8 L577.3,551.4 L579.3,551.9 L581.3,551.88 L583.3,551.65 L585.3,551.85 L587.3,551.79 L589.3,552.07 L591.3,552.23 L593.3,551.76 L595.3,552.01 L597.3,551.91 L599.3,551.8 L601.3,551.9 L603.3,551.98 L605.3,551.83 L607.3,551.92 L609.3,551.95 L611.3,551.95 L613.3,552.13 L615.3,551.91 L617.3,552.17 L619.3,552.3 L621.3,552.13 L623.3,552.5 L625.3,552.16 L627.3,551.81 L627.3,559.62 L625.3,559.91 L623.3,559.38 L621.3,559.53 L619.3,559.35 L617.3,559.41 L615.3,559.7 L613.3,559.69 L611.3,559.39 L609.3,559.54 L607.3,558.97 L605.3,558.95 L603.3,559.15 L601.3,559.3 L599.3,559.02 L597.3,559.32 L595.3,559.1 L593.3,559.42 L591.3,559.23 L589.3,559.71 L587.3,559.55 L585.3,559.25 L583.3,559.44 L581.3,559.57 L579.3,559.11 L577.3,559.03 L575.3,559.23 L573.3,559.18 L571.3,559.06 L569.3,559.37 L567.3,558.87 L565.3,558.9 L563.3,559.24 L561.3,559.22 L559.3,559.27 L557.3,559.3 L555.3,559.45 L553.3,559.25 L551.3,559.4 L549.3,558.91 L547.3,558.64 L545.3,558.45 L543.3,558.62 L541.3,558.66 L539.3,558.53 L537.3,558.88 L535.3,558.76 L533.3,558.56 L531.3,558.93 L529.3,559.16 L527.3,558.92 L525.3,558.56 L523.3,558.12 L521.3,558.26 L520.5,558.64 L518.5,559.17 L516.5,560 L514.5,560.21 L512.5,561.06 L510.5,561.76 L508.5,561.74 L506.5,562.58 L504.5,563.53 L502.5,563.74 L500.5,564.12 L498.5,564.8 L496.5,565.55 L494.5,565.67 L492.5,566.51 L490.5,567.06 L488.5,567.47 L486.5,568.52 L484.5,568.75 L482.5,569.37 L480.5,569.77 L478.5,570.55 L476.5,571.12 L474.5,572.07 L472.5,572.83 L470.5,573.23 L468.5,574.39 L466.5,574.98 L464.5,575.36 L462.5,576.05 L460.5,576.42 L458.5,577.41 L456.5,578.14 L454.5,578.7 L452.5,579.45 L450.5,580.11 L448.5,581.07 L446.5,582.1 L444.5,583.28 L442.5,583.85 L440.5,585.22 L438.5,585.85 L436.5,586.63 L434.5,587.86 L432.5,588.56 L430.5,589.32 L428.5,589.85 L426.5,590.67 L424.5,591.13 L422.5,591.94 L420.5,592.59 L418.5,593.55 L416.5,594.78 L414.5,595.71 L412.9,595.62 L410.9,596.24 L408.9,596.63 L406.9,597.31 L404.9,597.64 L402.9,598.42 L400.9,598.56 L398.9,599.52 L396.9,600.27 L394.9,600.37 L392.9,601.25 L390.9,602.07 L388.9,602.22 L386.9,603.04 L384.9,604.07 L382.9,605 L380.9,605.73 L378.9,606.58 L376.9,607.75 L374.9,608.22 L372.9,608.87 L370.9,609.54 L368.9,610.6 L366.9,611.7 L364.9,612.86 L362.9,613.48 L360.9,613.99 L358.9,615.14 L356.9,615.65 L354.9,616.4 L352.9,617.29 L350.9,618.3 L348.9,618.87 L346.9,619.35 L344.9,620.32 L342.9,621.05 L340.9,621.59 L338.9,622.51 L336.9,623.41 L334.9,623.89 L332.9,624.2 L330.9,625.11 L328.9,625.23 L326.9,625.91 L324.9,626.84 L322.9,628.05 L320.9,628.45 L318.9,628.98 L316.9,629.92 L314.9,631.07 L312.9,631.89 L310.9,633.26 L308.9,634.42 L306.9,635.7 L306.9,635.79 L304.9,635.89 L302.9,636.49 L300.9,637.45 L298.9,637.85 L296.9,637.99 L294.9,638.46 L292.9,638.71 L290.9,639.01 L288.9,639.59 L286.9,639.72 L284.9,639.9 L282.9,640.51 L280.9,640.98 L278.9,640.98 L276.9,641.64 L274.9,642.41 L272.9,642.75 L270.9,643.13 L268.9,643.8 L266.9,644.32 L264.9,644.68 L262.9,644.88 L260.9,644.91 L258.9,646.09 L256.9,645.75 L254.9,646.75 L252.9,647.47 L250.9,647.46 L248.9,648.52 L246.9,648.61 L244.9,649.93 L242.9,650.67 L240.9,651.98 L238.9,652.44 L236.9,652.92 L234.9,654.49 L232.9,655.9 L230.9,656.87 L228.9,657.29 L226.9,657.69 L224.9,659.5 L222.9,659.72 L220.9,661.01 L218.9,661.94 L216.9,662.9 L214.9,664.63 L212.9,665.41 L210.9,666.43 L208.9,667.68 L206.9,668.21 L204.9,669.91 L202.9,670.9 L200.9,672.67 L199.9,672.51 L199.9,673.15 L198.9,672.51 L197.9,673.45 L196.9,672.7 L195.9,673.19 L194.9,673.63 L193.9,674.1 L192.9,674.67 L191.9,675.82 L190.9,676.42 L189.9,676.43 L188.9,676.2 L187.9,676.45 L186.9,676.31 L185.9,676.13 L184.9,676.85 L183.9,677.98 L182.9,677.63 L181.9,678.58 L180.9,679.12 L179.9,679.54 L178.9,679.47 L177.9,679.42 L176.9,679.56 L175.9,679.54 L174.9,680.75 L173.9,680.93 L172.9,681.22 L171.9,681.72 L170.9,681.98 L169.9,682 L168.9,681.96 L167.9,682.5 L166.9,681.98 L165.9,681.46 L164.9,681.7 L163.9,681.79 L162.9,682.51 L161.9,683.1 L160.9,684.16 L159.9,684.5 L158.9,684.53 L157.9,684.92 L156.9,685.12 L155.9,686.17 L154.9,686.29 L153.9,686.48 L152.9,686.57 L151.9,686.51 L150.9,686.97 L149.9,687 L148.9,687.84 L147.9,688.44 L146.9,688.6 L145.9,688.8 L144.9,688.09 L143.9,688.9 L142.9,689.19 L141.9,690.12 L140.9,691.03 L139.9,691.56 L138.9,692.05 L137.9,692.91 L136.9,692.67 L135.9,692.99 L134.9,694.15 L133.9,694.83 L132.9,695.52 L131.9,696.72 L130.9,697.22 L129.9,697.4 L128.9,698.36 L127.9,699.21 L126.9,699.25 L125.9,699.3 L124.9,699.42 L123.9,700.56 L122.9,701.35 L121.9,701.66 L120.9,702.86 L119.9,704.12 L118.9,705.08 L117.9,706.09 L116.9,708.04 L115.9,709.04 L114.9,710.16 L113.9,711.18 L112.9,712.39 L111.9,713.83 L110.9,715.4 L109.9,717 L108.9,719.04 L107.9,720.7 L106.9,723.6 L105.9,725.38 L104.9,728.08 L103.9,731.17 L102.9,733.92 L101.9,736.44 L100.9,739.67 L99.9,741.3 L98.9,741.3 Z" fill="#ff7f0e" fill-opacity="0.2" stroke="#ff7f0e" stroke-opacity="0.30000000000000004" stroke-width="0.9" stroke-linejoin="round" clip-path="url(#cc)"/>
<line x1="65.5" y1="625.3" x2="655.5" y2="625.3" stroke="#d62728" stroke-width="1.4" stroke-dasharray="5.2 2.8" stroke-dashoffset="-4.7"/>
<path d="M93.4,425 L93.5,418.56 L93.75,430.87 L94,441.94 L94.25,451.94 L94.5,461.02 L94.75,469.28 L95,476.83 L95.25,483.75 L95.5,490.12 L95.75,495.99 L96,501.42 L96.25,506.46 L96.5,511.14 L96.75,515.5 L97,519.57 L97.25,523.38 L97.5,526.95 L97.75,530.3 L98,533.45 L98.25,536.41 L98.5,539.21 L98.75,541.85 L99,544.34 L99.25,546.71 L99.5,548.95 L99.75,551.08 L100,553.1 L101,560.27 L102,566.24 L103,571.27 L104,575.55 L105,579.25 L106,582.46 L107,585.27 L108,587.75 L109,589.95 L110,591.92 L111,593.68 L112,595.28 L113,596.72 L114,598.03 L115,599.23 L116,600.33 L117,601.34 L118,602.26 L119,603.12 L120,603.92 L121,604.66 L122,605.34 L123,605.99 L124,606.58 L125,607.15 L126,607.67 L127,608.17 L128,608.63 L129,609.07 L130,609.49 L131,609.88 L132,610.25 L133,610.6 L134,610.93 L135,611.25 L136,611.55 L137,611.84 L138,612.11 L139,612.37 L140,612.62 L141,612.86 L142,613.09 L143,613.3 L144,613.51 L145,613.71 L146,613.9 L147,614.09 L148,614.27 L149,614.44 L150,614.6 L152.5,614.98 L155,615.33 L157.5,615.65 L160,615.95 L162.5,616.22 L165,616.47 L167.5,616.7 L170,616.92 L172.5,617.12 L175,617.3 L177.5,617.48 L180,617.64 L182.5,617.8 L185,617.94 L187.5,618.08 L190,618.2 L192.5,618.32 L195,618.44 L197.5,618.55 L199.9,618.63 C202.03,617.43 206.02,615.2 212.7,614.6 C219.38,614 224.3,613.97 240,614.4 C255.7,614.83 295.75,616.73 306.9,617.2 C308.98,616.82 311.88,615.15 319.4,614.9 C326.92,614.65 336.15,615.35 352,615.7 C367.85,616.05 401.53,617.05 414.5,617 C427.47,616.95 420.62,615.57 429.8,615.4 C438.98,615.23 454.35,615.73 469.6,616 C484.85,616.27 512.68,616.83 521.3,617 C524.28,617.58 532.9,619.48 539.2,620.5 C545.5,621.52 552.47,622.43 559.1,623.1 C565.73,623.77 567.45,624.2 579,624.5 C590.55,624.8 620.17,624.83 628.4,624.9" fill="none" stroke="#1d6dab" stroke-width="1.9" stroke-linejoin="round" stroke-linecap="butt" clip-path="url(#cc)"/>
<path d="M92.4,741.3 L98.9,741.3 C100.07,738.03 103.58,727.28 105.9,721.7 C108.22,716.12 110.2,711.57 112.8,707.8 C115.4,704.03 117.43,702.28 121.5,699.1 C125.57,695.92 131.68,691.6 137.2,688.7 C142.72,685.8 149.13,683.57 154.6,681.7 C160.07,679.83 162.45,679.55 170,677.5 C177.55,675.45 194.92,670.75 199.9,669.4 C204.45,666.85 217.85,658.57 227.2,654.1 C236.55,649.63 242.72,646.28 256,642.6 C269.28,638.92 298.42,633.77 306.9,632 C308.98,630.88 311.88,628.33 319.4,625.3 C326.92,622.27 340.23,618.27 352,613.8 C363.77,609.33 379.58,602.18 390,598.5 C400.42,594.82 410.42,592.83 414.5,591.7 C423.68,588.05 451.8,575.93 469.6,569.8 C487.4,563.67 512.68,557.38 521.3,554.9 C529.27,555 551.25,555.33 569.1,555.5 C586.95,555.67 618.52,555.83 628.4,555.9 " fill="none" stroke="#f77a10" stroke-width="1.9" stroke-linejoin="round" stroke-linecap="butt" clip-path="url(#cc)"/>
<path d="M92.8,554.3 L92.8,627.7 L94,623.5 L95.6,623 C96.38,623.13 97.7,623.27 100.3,623.8 C102.9,624.33 104.18,625.15 111.2,626.2 C118.22,627.25 131.98,629.07 142.4,630.1 C152.82,631.13 164.12,631.75 173.7,632.4 C183.28,633.05 195.53,633.73 199.9,634 C203.33,633.3 213.82,631.05 220.5,629.8 C227.18,628.55 234.08,627.48 240,626.5 C245.92,625.52 244.85,624.8 256,623.9 C267.15,623 298.42,621.57 306.9,621.1 C311.22,619.4 322.08,613.88 332.8,610.9 C343.52,607.92 357.58,605.57 371.2,603.2 C384.82,600.83 398.1,599.95 414.5,596.7 C430.9,593.45 451.8,587.18 469.6,583.7 C487.4,580.22 512.68,577.12 521.3,575.8 C529.27,576.62 551.25,578.95 569.1,580.7 C586.95,582.45 618.52,585.37 628.4,586.3" fill="none" stroke="#289828" stroke-width="1.9" stroke-linejoin="round" stroke-linecap="butt" clip-path="url(#cc)"/>
<rect x="65.5" y="431.3" width="590" height="310" fill="none" stroke="#000" stroke-width="1.1"/>
<line x1="92.4" y1="741.3" x2="92.4" y2="745.8" stroke="#000" stroke-width="1.1"/>
<text x="92.4" y="759.1" font-family="'Liberation Sans', sans-serif" font-size="12.3" text-anchor="middle" textLength="7.56" lengthAdjust="spacingAndGlyphs">0</text>
<line x1="199.6" y1="741.3" x2="199.6" y2="745.8" stroke="#000" stroke-width="1.1"/>
<text x="199.6" y="759.1" font-family="'Liberation Sans', sans-serif" font-size="12.3" text-anchor="middle" textLength="37.8" lengthAdjust="spacingAndGlyphs">10000</text>
<line x1="306.8" y1="741.3" x2="306.8" y2="745.8" stroke="#000" stroke-width="1.1"/>
<text x="306.8" y="759.1" font-family="'Liberation Sans', sans-serif" font-size="12.3" text-anchor="middle" textLength="37.8" lengthAdjust="spacingAndGlyphs">20000</text>
<line x1="414" y1="741.3" x2="414" y2="745.8" stroke="#000" stroke-width="1.1"/>
<text x="414" y="759.1" font-family="'Liberation Sans', sans-serif" font-size="12.3" text-anchor="middle" textLength="37.8" lengthAdjust="spacingAndGlyphs">30000</text>
<line x1="521.2" y1="741.3" x2="521.2" y2="745.8" stroke="#000" stroke-width="1.1"/>
<text x="521.2" y="759.1" font-family="'Liberation Sans', sans-serif" font-size="12.3" text-anchor="middle" textLength="37.8" lengthAdjust="spacingAndGlyphs">40000</text>
<line x1="628.4" y1="741.3" x2="628.4" y2="745.8" stroke="#000" stroke-width="1.1"/>
<text x="628.4" y="759.1" font-family="'Liberation Sans', sans-serif" font-size="12.3" text-anchor="middle" textLength="37.8" lengthAdjust="spacingAndGlyphs">50000</text>
<line x1="61" y1="741.3" x2="65.5" y2="741.3" stroke="#000" stroke-width="1.1"/>
<text x="55.9" y="745.7" font-family="'Liberation Sans', sans-serif" font-size="12.3" text-anchor="end" textLength="26.28" lengthAdjust="spacingAndGlyphs">0.00</text>
<line x1="61" y1="702.55" x2="65.5" y2="702.55" stroke="#000" stroke-width="1.1"/>
<text x="55.9" y="706.95" font-family="'Liberation Sans', sans-serif" font-size="12.3" text-anchor="end" textLength="26.28" lengthAdjust="spacingAndGlyphs">0.05</text>
<line x1="61" y1="663.8" x2="65.5" y2="663.8" stroke="#000" stroke-width="1.1"/>
<text x="55.9" y="668.2" font-family="'Liberation Sans', sans-serif" font-size="12.3" text-anchor="end" textLength="26.28" lengthAdjust="spacingAndGlyphs">0.10</text>
<line x1="61" y1="625.05" x2="65.5" y2="625.05" stroke="#000" stroke-width="1.1"/>
<text x="55.9" y="629.45" font-family="'Liberation Sans', sans-serif" font-size="12.3" text-anchor="end" textLength="26.28" lengthAdjust="spacingAndGlyphs">0.15</text>
<line x1="61" y1="586.3" x2="65.5" y2="586.3" stroke="#000" stroke-width="1.1"/>
<text x="55.9" y="590.7" font-family="'Liberation Sans', sans-serif" font-size="12.3" text-anchor="end" textLength="26.28" lengthAdjust="spacingAndGlyphs">0.20</text>
<line x1="61" y1="547.55" x2="65.5" y2="547.55" stroke="#000" stroke-width="1.1"/>
<text x="55.9" y="551.95" font-family="'Liberation Sans', sans-serif" font-size="12.3" text-anchor="end" textLength="26.28" lengthAdjust="spacingAndGlyphs">0.25</text>
<line x1="61" y1="508.8" x2="65.5" y2="508.8" stroke="#000" stroke-width="1.1"/>
<text x="55.9" y="513.2" font-family="'Liberation Sans', sans-serif" font-size="12.3" text-anchor="end" textLength="26.28" lengthAdjust="spacingAndGlyphs">0.30</text>
<line x1="61" y1="470.05" x2="65.5" y2="470.05" stroke="#000" stroke-width="1.1"/>
<text x="55.9" y="474.45" font-family="'Liberation Sans', sans-serif" font-size="12.3" text-anchor="end" textLength="26.28" lengthAdjust="spacingAndGlyphs">0.35</text>
<line x1="61" y1="431.3" x2="65.5" y2="431.3" stroke="#000" stroke-width="1.1"/>
<text x="55.9" y="435.7" font-family="'Liberation Sans', sans-serif" font-size="12.3" text-anchor="end" textLength="26.28" lengthAdjust="spacingAndGlyphs">0.40</text>
<text x="360.3" y="776" font-family="'Liberation Sans', sans-serif" font-size="12.3" text-anchor="middle" textLength="29.9" lengthAdjust="spacingAndGlyphs">Time</text>
<text transform="translate(22,588.3) rotate(-90)" font-family="'Liberation Sans', sans-serif" font-size="11.6" text-anchor="middle" textLength="76.2" lengthAdjust="spacingAndGlyphs">Miscoverage</text>
<rect x="521.6" y="437.5" width="127.4" height="55.6" rx="2.5" ry="2.5" fill="#fff" fill-opacity="0.8" stroke="#cccccc" stroke-width="1"/>
<line x1="526.1" y1="446.9" x2="552" y2="446.9" stroke="#1f77b4" stroke-width="2"/>
<text x="562" y="451.2" font-family="'Liberation Sans', sans-serif" font-size="12.3" text-anchor="start" textLength="25.3" lengthAdjust="spacingAndGlyphs">MVP</text>
<line x1="526.1" y1="464.3" x2="552" y2="464.3" stroke="#ff7f0e" stroke-width="2"/>
<text x="562" y="468.6" font-family="'Liberation Sans', sans-serif" font-size="12.3" text-anchor="start" textLength="22.2" lengthAdjust="spacingAndGlyphs">SPS</text>
<line x1="526.1" y1="482.2" x2="552" y2="482.2" stroke="#2ca02c" stroke-width="2"/>
<text x="562" y="486.5" font-family="'Liberation Sans', sans-serif" font-size="12.3" text-anchor="start" textLength="80.5" lengthAdjust="spacingAndGlyphs">OCP-Unlock+</text>
<clipPath id="cd"><rect x="748.1" y="429.2" width="593.1" height="312.1"/></clipPath>
<line x1="775.1" y1="429.2" x2="775.1" y2="741.3" stroke="#c4c4c4" stroke-width="0.8" stroke-dasharray="4.2 2.4"/>
<line x1="882.9" y1="429.2" x2="882.9" y2="741.3" stroke="#c4c4c4" stroke-width="0.8" stroke-dasharray="4.2 2.4"/>
<line x1="990.7" y1="429.2" x2="990.7" y2="741.3" stroke="#c4c4c4" stroke-width="0.8" stroke-dasharray="4.2 2.4"/>
<line x1="1098.5" y1="429.2" x2="1098.5" y2="741.3" stroke="#c4c4c4" stroke-width="0.8" stroke-dasharray="4.2 2.4"/>
<line x1="1206.3" y1="429.2" x2="1206.3" y2="741.3" stroke="#c4c4c4" stroke-width="0.8" stroke-dasharray="4.2 2.4"/>
<line x1="1314.1" y1="429.2" x2="1314.1" y2="741.3" stroke="#c4c4c4" stroke-width="0.8" stroke-dasharray="4.2 2.4"/>
<line x1="748.1" y1="741.3" x2="1341.2" y2="741.3" stroke="#c4c4c4" stroke-width="0.8" stroke-dasharray="3.4 1.8"/>
<line x1="748.1" y1="689.28" x2="1341.2" y2="689.28" stroke="#c4c4c4" stroke-width="0.8" stroke-dasharray="3.4 1.8"/>
<line x1="748.1" y1="637.27" x2="1341.2" y2="637.27" stroke="#c4c4c4" stroke-width="0.8" stroke-dasharray="3.4 1.8"/>
<line x1="748.1" y1="585.25" x2="1341.2" y2="585.25" stroke="#c4c4c4" stroke-width="0.8" stroke-dasharray="3.4 1.8"/>
<line x1="748.1" y1="533.23" x2="1341.2" y2="533.23" stroke="#c4c4c4" stroke-width="0.8" stroke-dasharray="3.4 1.8"/>
<line x1="748.1" y1="481.22" x2="1341.2" y2="481.22" stroke="#c4c4c4" stroke-width="0.8" stroke-dasharray="3.4 1.8"/>
<line x1="748.1" y1="429.2" x2="1341.2" y2="429.2" stroke="#c4c4c4" stroke-width="0.8" stroke-dasharray="3.4 1.8"/>
<rect x="774.7" y="429.2" width="1.1" height="312.1" fill="#fff" clip-path="url(#cd)"/>
<path d="M775.4,399.51 L776.1,409.85 L776.8,412.62 L777.5,419.15 L778.2,417.81 L778.9,423.13 L779.6,429.25 L780.3,430.65 L781,445.69 L781.7,449.31 L782.4,455.59 L783.1,459.51 L783.8,460.82 L784.5,466.23 L785.2,468.23 L785.9,466.59 L786.6,468.38 L787.3,470.02 L788,467.78 L788.7,468.6 L789.4,470.41 L790.1,474.81 L790.8,475.47 L791.5,478.6 L792.2,483.26 L792.9,484.72 L793.6,486.34 L794.3,483.91 L795,482.51 L795.7,483.42 L796.4,481.68 L797.1,486.23 L797.8,484.49 L798.5,483.14 L799.2,479.75 L799.9,476.84 L800.6,477.03 L801.3,476.19 L802,476.51 L802.7,476.9 L803.4,477.64 L804.1,479.57 L804.8,478.71 L805.5,481.62 L806.2,481.45 L806.9,482.06 L807.6,482.73 L808.3,483.83 L809,485.2 L809.7,486.13 L810.4,485.74 L811.1,487.83 L811.8,488.81 L812.5,487.23 L813.2,485.94 L813.9,487.58 L814.6,489.62 L815.3,490.92 L816,491.73 L816.7,489.1 L817.4,487.97 L818.1,488.93 L818.8,488.69 L819.5,490.06 L820.2,489.99 L820.9,489.39 L821.6,489.45 L822.3,488.29 L823,487.56 L823.7,488.37 L824.4,489.89 L825.1,489.68 L825.8,491.22 L826.5,489.47 L827.2,489.75 L827.9,488.16 L828.6,488.26 L829.3,486.89 L830,488.44 L830.7,488.96 L831.4,488.33 L832.1,489.47 L832.8,487.97 L833.5,489.42 L834.2,489.77 L834.9,489.1 L835.6,491.17 L836.3,490.67 L837,489.44 L837.7,489.93 L838.4,493.04 L839.1,492.26 L839.8,491.46 L840.5,492.56 L841.2,493.19 L841.9,492.51 L842.6,493.47 L843.3,494.62 L844,493.38 L844.7,493.16 L845.4,493.13 L846.1,494.01 L846.8,494.45 L847.5,494.48 L848.2,495.38 L848.9,494.38 L849.6,495.62 L850.3,496.39 L851,495.53 L851.7,494.85 L852.4,496.51 L853.1,497.07 L853.8,497.93 L854.5,497.52 L855.2,496.86 L855.9,496.77 L856.6,497.7 L857.3,496.53 L858,497.74 L858.7,497.35 L859.4,498.64 L860.1,499.64 L860.8,499.34 L861.5,497.9 L862.2,497.65 L862.9,499.47 L863.6,499.68 L864.3,499.12 L865,498.31 L865.7,500.21 L866.4,498.32 L867.1,499.67 L867.8,498.8 L868.5,500.35 L869.2,499.69 L869.9,499.66 L870.6,499.04 L871.3,499.23 L872,499.51 L872.7,499.16 L873.4,500.32 L874.1,500.22 L874.8,498.76 L875.5,499.26 L876.2,500 L876.9,499.61 L877.6,500.58 L878.3,500.44 L879,501.08 L879.7,499.69 L880.4,501.24 L881.1,500.58 L881.8,498.19 L882.5,497.92 L883.1,499.4 L884.6,501.16 L886.1,502.98 L887.6,504.72 L889.1,506.6 L890.6,508.6 L892.1,510.26 L893.6,512.1 L895.1,513.88 L896.6,515.8 L898.1,517.6 L899.6,519.24 L901.1,520.59 L902.6,521.65 L904.1,522.86 L905.6,524.11 L907.1,525.45 L908.6,526.84 L910.1,528.14 L911.6,529.43 L913.1,530.85 L914.6,532.42 L916.1,533.35 L917.6,534.59 L919.1,535.27 L920.6,536.17 L922.1,537.26 L923.6,538.36 L925.1,539.49 L926.6,540.59 L928.1,541.81 L929.6,543.08 L931.1,544.28 L932.6,545.28 L934.1,546.22 L935.6,546.97 L937.1,547.71 L938.6,547.96 L940.1,548.84 L941.6,549.77 L943.1,550.62 L944.6,551.52 L946.1,552.34 L947.6,553.11 L949.1,553.57 L950.6,554.08 L952.1,554.58 L953.6,555.3 L955.1,555.95 L956.6,556.66 L958.1,557.24 L959.6,557.87 L961.1,558.37 L962.6,558.93 L964.1,559.71 L965.6,560.59 L967.1,561.58 L968.6,562.34 L970.1,563.13 L971.6,563.85 L973.1,564.35 L974.6,564.73 L976.1,565.13 L977.6,565.42 L979.1,566.16 L980.6,566.67 L982.1,567.28 L983.6,568.23 L985.1,568.97 L986.6,569.74 L988.1,570.86 L989.6,571.83 L990.4,572.2 L991.9,573.01 L993.4,573.74 L994.9,574.37 L996.4,575.02 L997.9,575.99 L999.4,576.9 L1000.9,577.95 L1002.4,578.92 L1003.9,579.75 L1005.4,580.33 L1006.9,580.88 L1008.4,581.51 L1009.9,582.05 L1011.4,582.51 L1012.9,583.25 L1014.4,584.03 L1015.9,584.94 L1017.4,585.71 L1018.9,586.46 L1020.4,587.17 L1021.9,587.73 L1023.4,588.23 L1024.9,588.94 L1026.4,589.74 L1027.9,590.42 L1029.4,591.17 L1030.9,592.02 L1032.4,592.76 L1033.9,593.39 L1035.4,594.09 L1036.9,594.85 L1038.4,595.47 L1039.9,596.15 L1041.4,596.97 L1042.9,597.69 L1044.4,598.23 L1045.9,598.96 L1047.4,599.8 L1048.9,600.55 L1050.4,601.32 L1051.9,602.01 L1053.4,602.65 L1054.9,602.92 L1056.4,603.45 L1057.9,603.87 L1059.4,604.37 L1060.9,605.1 L1062.4,605.9 L1063.9,606.73 L1065.4,607.38 L1066.9,608.02 L1068.4,608.73 L1069.9,609.54 L1071.4,610.29 L1072.9,610.9 L1074.4,611.64 L1075.9,612.32 L1077.4,612.94 L1078.9,613.55 L1080.4,614.18 L1081.9,614.81 L1083.4,615.47 L1084.9,616.22 L1086.4,616.95 L1087.9,617.68 L1089.4,618.44 L1090.9,619.38 L1092.4,620.21 L1093.9,621.1 L1095.4,621.49 L1096.9,621.11 L1098.4,620.64 L1099.9,620.16 L1101.4,619.97 L1102.9,620.12 L1104.4,620.45 L1105.9,620.87 L1107.4,621.31 L1108.9,621.51 L1110.4,621.92 L1111.9,622.4 L1113.4,622.8 L1114.9,623.25 L1116.4,623.56 L1117.9,623.83 L1119.4,623.94 L1120.9,623.98 L1122.4,624.04 L1123.9,624.1 L1125.4,624.35 L1126.9,624.59 L1128.4,624.82 L1129.9,625.08 L1131.4,625.39 L1132.9,625.75 L1134.4,625.91 L1135.9,626.08 L1137.4,626.19 L1138.9,626.21 L1140.4,626.42 L1141.9,626.61 L1143.4,626.79 L1144.9,627.29 L1146.4,627.68 L1147.9,628.13 L1149.4,628.56 L1150.9,628.82 L1152.4,629.1 L1153.9,629.43 L1155.4,629.75 L1156.9,629.88 L1158.4,630.14 L1159.9,630.53 L1161.4,630.91 L1162.9,631.35 L1164.4,631.62 L1165.9,631.89 L1167.4,632.13 L1168.9,632.4 L1170.4,632.89 L1171.9,633.27 L1173.4,633.62 L1174.9,633.99 L1176.4,634.5 L1177.9,634.87 L1179.4,635.07 L1180.9,635.13 L1182.4,635.2 L1183.9,635.4 L1185.4,635.67 L1186.9,636.1 L1188.4,636.57 L1189.9,636.76 L1191.4,637.08 L1192.9,637.19 L1194.4,637.42 L1195.9,637.58 L1197.4,637.95 L1198.9,638.27 L1200.4,638.78 L1201.9,639.26 L1203.4,639.77 L1204.9,640.17 L1206.4,640.37 L1206.5,640.4 L1208,640.61 L1209.5,640.64 L1211,640.58 L1212.5,640.65 L1214,640.59 L1215.5,640.49 L1217,640.37 L1218.5,640.28 L1220,640.1 L1221.5,639.91 L1223,639.67 L1224.5,639.64 L1226,639.62 L1227.5,639.42 L1229,639.21 L1230.5,639.13 L1232,639.14 L1233.5,639.03 L1235,638.69 L1236.5,638.46 L1238,638.13 L1239.5,637.97 L1241,637.81 L1242.5,637.49 L1244,637.34 L1245.5,637.11 L1247,636.97 L1248.5,636.81 L1250,636.62 L1251.5,636.43 L1253,636.28 L1254.5,636.01 L1256,635.63 L1257.5,635.22 L1259,635 L1260.5,634.85 L1262,634.84 L1263.5,634.94 L1265,635.09 L1266.5,635.11 L1268,635.19 L1269.5,635.16 L1271,635.17 L1272.5,635.13 L1274,634.9 L1275.5,634.69 L1277,634.56 L1278.5,634.57 L1280,634.55 L1281.5,634.47 L1283,634.16 L1284.5,633.91 L1286,633.87 L1287.5,633.77 L1289,633.63 L1290.5,633.51 L1292,633.48 L1293.5,633.36 L1295,633.34 L1296.5,633.2 L1298,633.1 L1299.5,632.95 L1301,632.73 L1302.5,632.62 L1304,632.5 L1305.5,632.45 L1307,632.48 L1308.5,632.4 L1310,632.22 L1311.5,632.03 L1313,631.81 L1314.4,631.5 L1314.4,647.4 L1313,647.57 L1311.5,647.85 L1310,648.04 L1308.5,648.12 L1307,648.01 L1305.5,647.92 L1304,648.05 L1302.5,648.09 L1301,648.17 L1299.5,648.17 L1298,648.24 L1296.5,648.49 L1295,648.72 L1293.5,648.82 L1292,648.81 L1290.5,648.75 L1289,648.82 L1287.5,648.89 L1286,648.92 L1284.5,648.94 L1283,648.85 L1281.5,648.91 L1280,649 L1278.5,649.02 L1277,649.05 L1275.5,648.91 L1274,648.79 L1272.5,648.68 L1271,648.77 L1269.5,648.84 L1268,649.11 L1266.5,649.38 L1265,649.67 L1263.5,649.87 L1262,649.88 L1260.5,649.88 L1259,649.78 L1257.5,649.61 L1256,649.42 L1254.5,649.35 L1253,649.31 L1251.5,649.25 L1250,649.2 L1248.5,649.26 L1247,649.29 L1245.5,649.24 L1244,649.18 L1242.5,649.31 L1241,649.21 L1239.5,649.06 L1238,649.08 L1236.5,649.24 L1235,649.21 L1233.5,649.19 L1232,649.21 L1230.5,649.42 L1229,649.43 L1227.5,649.47 L1226,649.6 L1224.5,649.62 L1223,649.69 L1221.5,649.78 L1220,649.86 L1218.5,649.87 L1217,649.8 L1215.5,649.72 L1214,649.69 L1212.5,649.7 L1211,649.79 L1209.5,649.9 L1208,650.11 L1206.5,650.3 L1206.4,650.05 L1204.9,649.79 L1203.4,649.52 L1201.9,649.31 L1200.4,649.25 L1198.9,649 L1197.4,648.89 L1195.9,648.81 L1194.4,648.74 L1192.9,648.5 L1191.4,648.33 L1189.9,648.24 L1188.4,648.1 L1186.9,648 L1185.4,647.84 L1183.9,647.53 L1182.4,647.13 L1180.9,646.92 L1179.4,646.68 L1177.9,646.39 L1176.4,646.14 L1174.9,646 L1173.4,645.87 L1171.9,645.54 L1170.4,645.12 L1168.9,644.78 L1167.4,644.62 L1165.9,644.52 L1164.4,644.4 L1162.9,644.12 L1161.4,643.85 L1159.9,643.56 L1158.4,643.31 L1156.9,643.11 L1155.4,642.91 L1153.9,642.6 L1152.4,642.37 L1150.9,642.24 L1149.4,642.08 L1147.9,641.73 L1146.4,641.44 L1144.9,641.27 L1143.4,641.06 L1141.9,640.8 L1140.4,640.65 L1138.9,640.45 L1137.4,640.14 L1135.9,640.05 L1134.4,639.84 L1132.9,639.58 L1131.4,639.49 L1129.9,639.31 L1128.4,639.07 L1126.9,638.82 L1125.4,638.46 L1123.9,638.18 L1122.4,637.96 L1120.9,637.55 L1119.4,637.29 L1117.9,637.23 L1116.4,636.96 L1114.9,636.55 L1113.4,636.18 L1111.9,635.95 L1110.4,635.94 L1108.9,635.86 L1107.4,635.64 L1105.9,635.44 L1104.4,635.1 L1102.9,634.62 L1101.4,634.35 L1099.9,634.18 L1098.4,633.81 L1096.9,633.34 L1095.4,632.47 L1093.9,631.87 L1092.4,631.46 L1090.9,631 L1089.4,630.44 L1087.9,629.67 L1086.4,629.02 L1084.9,628.38 L1083.4,627.88 L1081.9,627.37 L1080.4,626.9 L1078.9,626.39 L1077.4,625.78 L1075.9,625.25 L1074.4,624.69 L1072.9,624.04 L1071.4,623.28 L1069.9,622.85 L1068.4,622.42 L1066.9,621.91 L1065.4,621.53 L1063.9,621.1 L1062.4,620.7 L1060.9,620.21 L1059.4,619.69 L1057.9,619.43 L1056.4,619.14 L1054.9,618.68 L1053.4,618.21 L1051.9,617.64 L1050.4,617.16 L1048.9,616.66 L1047.4,616.14 L1045.9,615.76 L1044.4,615.39 L1042.9,615.06 L1041.4,614.54 L1039.9,613.91 L1038.4,613.44 L1036.9,612.91 L1035.4,612.17 L1033.9,611.37 L1032.4,610.49 L1030.9,609.74 L1029.4,609.15 L1027.9,608.47 L1026.4,607.73 L1024.9,607.05 L1023.4,606.31 L1021.9,605.65 L1020.4,604.95 L1018.9,604.24 L1017.4,603.56 L1015.9,602.84 L1014.4,602.22 L1012.9,601.51 L1011.4,600.84 L1009.9,600.16 L1008.4,599.3 L1006.9,598.51 L1005.4,597.76 L1003.9,596.96 L1002.4,596.27 L1000.9,595.77 L999.4,595.38 L997.9,594.94 L996.4,594.48 L994.9,594.1 L993.4,593.72 L991.9,593.22 L990.4,592.4 L989.6,592.33 L988.1,591.76 L986.6,591.16 L985.1,590.43 L983.6,589.57 L982.1,588.71 L980.6,588.03 L979.1,587.68 L977.6,586.98 L976.1,586.17 L974.6,585.38 L973.1,584.56 L971.6,583.9 L970.1,583.14 L968.6,582.58 L967.1,581.95 L965.6,581.14 L964.1,580.59 L962.6,580.08 L961.1,579.68 L959.6,579.42 L958.1,579 L956.6,578.36 L955.1,577.71 L953.6,577.23 L952.1,576.57 L950.6,575.89 L949.1,575.15 L947.6,574.32 L946.1,573.62 L944.6,572.85 L943.1,572.07 L941.6,571.5 L940.1,570.77 L938.6,570.09 L937.1,569.36 L935.6,568.53 L934.1,567.56 L932.6,566.68 L931.1,565.77 L929.6,564.85 L928.1,564.1 L926.6,563.35 L925.1,562.48 L923.6,561.52 L922.1,560.66 L920.6,559.86 L919.1,559.23 L917.6,558.17 L916.1,557.25 L914.6,556.23 L913.1,555.17 L911.6,554.11 L910.1,553.05 L908.6,551.8 L907.1,550.47 L905.6,549.09 L904.1,547.86 L902.6,546.61 L901.1,545.11 L899.6,543.82 L898.1,542.49 L896.6,540.92 L895.1,539.33 L893.6,537.65 L892.1,535.86 L890.6,534.1 L889.1,532.9 L887.6,531.46 L886.1,530.05 L884.6,528.26 L883.1,525.9 L882.4,526.46 L881.7,526.94 L881,526.53 L880.3,526.17 L879.6,525.78 L878.9,525.67 L878.2,525.58 L877.5,525.67 L876.8,526.11 L876.1,524.15 L875.4,526.86 L874.7,526.87 L874,525.43 L873.3,526.32 L872.6,526.03 L871.9,526.51 L871.2,527.46 L870.5,526.14 L869.8,527.61 L869.1,526.98 L868.4,527.7 L867.7,527.61 L867,526.98 L866.3,525.75 L865.6,527.34 L864.9,525.71 L864.2,526.13 L863.5,524.99 L862.8,526.49 L862.1,525.93 L861.4,527.13 L860.7,526.64 L860,526.48 L859.3,527.04 L858.6,526.97 L857.9,524.39 L857.2,525.72 L856.5,527.55 L855.8,526.28 L855.1,527.12 L854.4,527.05 L853.7,527.62 L853,526.76 L852.3,526.59 L851.6,526.97 L850.9,526.5 L850.2,526.94 L849.5,526.73 L848.8,528.14 L848.1,528.28 L847.4,527.55 L846.7,526.52 L846,526.65 L845.3,527.81 L844.6,527.82 L843.9,528 L843.2,527.69 L842.5,527.49 L841.8,526.96 L841.1,527.8 L840.4,529.08 L839.7,529.66 L839,529.89 L838.3,529.55 L837.6,530.45 L836.9,531.39 L836.2,531.69 L835.5,532.43 L834.8,531.53 L834.1,530.52 L833.4,532.28 L832.7,533.51 L832,533.26 L831.3,534.54 L830.6,533.53 L829.9,534.88 L829.2,535.28 L828.5,535.22 L827.8,535.28 L827.1,534.55 L826.4,537.07 L825.7,537.48 L825,536.2 L824.3,535.93 L823.6,536.63 L822.9,537.19 L822.2,537.19 L821.5,538.08 L820.8,537.68 L820.1,538.05 L819.4,538.61 L818.7,539.34 L818,540.43 L817.3,540.69 L816.6,539.87 L815.9,539.77 L815.2,539.12 L814.5,539.94 L813.8,539.84 L813.1,539.75 L812.4,538.93 L811.7,539.1 L811,538.03 L810.3,539.02 L809.6,540.24 L808.9,539.63 L808.2,537.71 L807.5,537.77 L806.8,537.19 L806.1,538.14 L805.4,536.15 L804.7,538.54 L804,537.98 L803.3,537.32 L802.6,537.38 L801.9,538.4 L801.2,537.14 L800.5,537.61 L799.8,535.41 L799.1,537.5 L798.4,537 L797.7,539.75 L797,542.33 L796.3,541.41 L795.6,543.59 L794.9,543.53 L794.2,540.7 L793.5,544.3 L792.8,545.18 L792.1,545.5 L791.4,544.24 L790.7,541.61 L790,543.53 L789.3,543.89 L788.6,542.57 L787.9,541.19 L787.2,540.48 L786.5,540.94 L785.8,544.54 L785.1,543.67 L784.4,545.72 L783.7,547.88 L783,549.16 L782.3,548.9 L781.6,550.47 L780.9,553.93 L780.2,556.57 L779.5,562.76 L778.8,572.35 L778.1,584.03 L777.4,597.74 L776.7,616.05 L776,643.71 L775.3,742.19 Z" fill="#2ca02c" fill-opacity="0.2" stroke="#2ca02c" stroke-opacity="0.30000000000000004" stroke-width="0.9" stroke-linejoin="round" clip-path="url(#cd)"/>
<path d="M818.22,387 L819.08,393.89 L819.96,400.64 L820.86,407.26 L821.77,413.75 L822.71,420.11 L823.66,426.34 L824.63,432.46 L825.62,438.45 L826.63,444.33 L827.66,450.09 L828.71,455.74 L829.79,461.28 L830.88,466.71 L832,472.03 L833.13,477.25 L834.29,482.37 L835.48,487.38 L836.69,492.3 L837.92,497.12 L839.17,501.85 L840.46,506.48 L841.76,511.02 L843.1,515.48 L844.46,519.84 L845.84,524.13 L847.26,528.32 L848.7,532.44 L850.17,536.47 L851.67,540.43 L853.21,544.3 L854.77,548.11 L856.36,551.83 L857.99,555.49 L859.64,559.07 L861.34,562.58 L863.06,566.02 L864.82,569.4 L866.61,572.71 L868.44,575.95 L870.31,579.13 L872.21,582.25 L874.16,585.31 L876.14,588.31 L878.16,591.25 L880.22,594.13 L882.32,596.95 L884.47,599.72 L886.65,602.44 L888.89,605.1 L891.16,607.71 L893.48,610.27 L895.85,612.77 L898.27,615.23 L900.73,617.64 L903.24,620.01 L905.8,622.32 L908.42,624.6 L911.08,626.82 L913.8,629.01 L916.58,631.15 L919.41,633.24 L922.29,635.3 L925.24,637.32 L928.24,639.3 L931.3,641.24 L934.43,643.14 L937.61,645 L940.86,646.83 L944.18,648.62 L947.56,650.37 L951.01,652.1 L954.53,653.78 L958.12,655.44 L961.78,657.06 L965.51,658.65 L969.32,660.21 L973.2,661.74 L977.17,663.24 L981.21,664.71 L985.33,666.15 L989.53,667.56 L993.82,668.95 L999.21,670.61 L1004.6,672.2 L1009.99,673.71 L1015.38,675.16 L1020.77,676.54 L1026.16,677.86 L1031.55,679.13 L1036.94,680.35 L1042.33,681.51 L1047.72,682.63 L1053.11,683.71 L1058.5,684.75 L1063.89,685.74 L1069.28,686.7 L1074.67,687.63 L1080.06,688.52 L1085.45,689.39 L1090.84,690.22 L1096.23,691.02 L1101.62,691.8 L1107.01,692.56 L1112.4,693.29 L1117.79,693.99 L1123.18,694.68 L1128.57,695.34 L1133.96,695.98 L1139.35,696.61 L1144.74,697.21 L1150.13,697.8 L1155.52,698.37 L1160.91,698.93 L1166.3,699.47 L1171.69,700 L1177.08,700.51 L1182.47,701.01 L1187.86,701.49 L1193.25,701.97 L1198.64,702.43 L1204.03,702.88 L1209.42,703.31 L1214.81,703.74 L1220.2,704.16 L1225.59,704.57 L1230.98,704.96 L1236.37,705.35 L1241.76,705.73 L1247.15,706.1 L1252.54,706.46 L1257.93,706.82 L1263.32,707.16 L1268.71,707.5 L1274.1,707.83 L1279.49,708.16 L1284.88,708.47 L1290.27,708.79 L1295.66,709.09 L1301.05,709.39 L1306.44,709.68 L1311.83,709.97 L1314.1,710.08" fill="none" stroke="#f77a10" stroke-width="4.0" stroke-linejoin="round" stroke-linecap="butt" clip-path="url(#cd)" stroke-opacity="0.3"/>
<path d="M818.22,387 L819.08,393.89 L819.96,400.64 L820.86,407.26 L821.77,413.75 L822.71,420.11 L823.66,426.34 L824.63,432.46 L825.62,438.45 L826.63,444.33 L827.66,450.09 L828.71,455.74 L829.79,461.28 L830.88,466.71 L832,472.03 L833.13,477.25 L834.29,482.37 L835.48,487.38 L836.69,492.3 L837.92,497.12 L839.17,501.85 L840.46,506.48 L841.76,511.02 L843.1,515.48 L844.46,519.84 L845.84,524.13 L847.26,528.32 L848.7,532.44 L850.17,536.47 L851.67,540.43 L853.21,544.3 L854.77,548.11 L856.36,551.83 L857.99,555.49 L859.64,559.07 L861.34,562.58 L863.06,566.02 L864.82,569.4 L866.61,572.71 L868.44,575.95 L870.31,579.13 L872.21,582.25 L874.16,585.31 L876.14,588.31 L878.16,591.25 L880.22,594.13 L882.32,596.95 L884.47,599.72 L886.65,602.44 L888.89,605.1 L891.16,607.71 L893.48,610.27 L895.85,612.77 L898.27,615.23 L900.73,617.64 L903.24,620.01 L905.8,622.32 L908.42,624.6 L911.08,626.82 L913.8,629.01 L916.58,631.15 L919.41,633.24 L922.29,635.3 L925.24,637.32 L928.24,639.3 L931.3,641.24 L934.43,643.14 L937.61,645 L940.86,646.83 L944.18,648.62 L947.56,650.37 L951.01,652.1 L954.53,653.78 L958.12,655.44 L961.78,657.06 L965.51,658.65 L969.32,660.21 L973.2,661.74 L977.17,663.24 L981.21,664.71 L985.33,666.15 L989.53,667.56 L993.82,668.95 L999.21,670.61 L1004.6,672.2 L1009.99,673.71 L1015.38,675.16 L1020.77,676.54 L1026.16,677.86 L1031.55,679.13 L1036.94,680.35 L1042.33,681.51 L1047.72,682.63 L1053.11,683.71 L1058.5,684.75 L1063.89,685.74 L1069.28,686.7 L1074.67,687.63 L1080.06,688.52 L1085.45,689.39 L1090.84,690.22 L1096.23,691.02 L1101.62,691.8 L1107.01,692.56 L1112.4,693.29 L1117.79,693.99 L1123.18,694.68 L1128.57,695.34 L1133.96,695.98 L1139.35,696.61 L1144.74,697.21 L1150.13,697.8 L1155.52,698.37 L1160.91,698.93 L1166.3,699.47 L1171.69,700 L1177.08,700.51 L1182.47,701.01 L1187.86,701.49 L1193.25,701.97 L1198.64,702.43 L1204.03,702.88 L1209.42,703.31 L1214.81,703.74 L1220.2,704.16 L1225.59,704.57 L1230.98,704.96 L1236.37,705.35 L1241.76,705.73 L1247.15,706.1 L1252.54,706.46 L1257.93,706.82 L1263.32,707.16 L1268.71,707.5 L1274.1,707.83 L1279.49,708.16 L1284.88,708.47 L1290.27,708.79 L1295.66,709.09 L1301.05,709.39 L1306.44,709.68 L1311.83,709.97 L1314.1,710.08" fill="none" stroke="#f77a10" stroke-width="1.9" stroke-linejoin="round" stroke-linecap="butt" clip-path="url(#cd)"/>
<path d="M775.1,739.6 C775.42,739.4 776.18,738.75 777,738.4 C777.82,738.05 778.38,737.8 780,737.5 C781.62,737.2 783.37,736.85 786.7,736.6 C790.03,736.35 793.33,736.17 800,736 C806.67,735.83 815.03,735.67 826.7,735.6 C838.37,735.53 826.12,735.55 870,735.6 C913.88,735.65 1033.92,735.9 1090,735.9 C1146.08,735.9 1187.08,735.65 1206.5,735.6 C1209.58,735.43 1216.08,734.83 1225,734.6 C1233.92,734.37 1245.1,734.28 1260,734.2 C1274.9,734.12 1305.33,734.12 1314.4,734.1 " fill="none" stroke="#1d6dab" stroke-width="1.9" stroke-linejoin="round" stroke-linecap="butt" clip-path="url(#cd)"/>
<path d="M775.1,615.6 L775.3,524 C775.58,523.58 776.07,522.73 777,521.5 C777.93,520.27 779.47,517.82 780.9,516.6 C782.33,515.38 783.52,514.77 785.6,514.2 C787.68,513.63 788.2,513.67 793.4,513.2 C798.6,512.73 811.6,511.75 816.8,511.4 C822,511.05 820.7,510.97 824.6,511.1 C828.5,511.23 833.7,511.93 840.2,512.2 C846.7,512.47 856.45,512.35 863.6,512.7 C870.75,513.05 879.85,514.03 883.1,514.3 C886.92,518.42 896.92,531.5 906,539 C915.08,546.5 927.52,553.52 937.6,559.3 C947.68,565.08 957.7,569.87 966.5,573.7 C975.3,577.53 986.42,580.87 990.4,582.3 C996.02,585.42 1011.28,595 1024.1,601 C1036.92,607 1054.93,614.03 1067.3,618.3 C1079.67,622.57 1084.62,623.25 1098.3,626.6 C1111.98,629.95 1131.37,635.2 1149.4,638.4 C1167.43,641.6 1196.98,644.57 1206.5,645.8 C1215.15,645.23 1240.42,643.53 1258.4,642.4 C1276.38,641.27 1305.07,639.57 1314.4,639" fill="none" stroke="#289828" stroke-width="1.9" stroke-linejoin="round" stroke-linecap="butt" clip-path="url(#cd)"/>
<rect x="748.1" y="429.2" width="593.1" height="312.1" fill="none" stroke="#000" stroke-width="1.1"/>
<line x1="775.1" y1="741.3" x2="775.1" y2="745.8" stroke="#000" stroke-width="1.1"/>
<text x="775.1" y="759.1" font-family="'Liberation Sans', sans-serif" font-size="12.3" text-anchor="middle" textLength="7.56" lengthAdjust="spacingAndGlyphs">0</text>
<line x1="882.9" y1="741.3" x2="882.9" y2="745.8" stroke="#000" stroke-width="1.1"/>
<text x="882.9" y="759.1" font-family="'Liberation Sans', sans-serif" font-size="12.3" text-anchor="middle" textLength="37.8" lengthAdjust="spacingAndGlyphs">10000</text>
<line x1="990.7" y1="741.3" x2="990.7" y2="745.8" stroke="#000" stroke-width="1.1"/>
<text x="990.7" y="759.1" font-family="'Liberation Sans', sans-serif" font-size="12.3" text-anchor="middle" textLength="37.8" lengthAdjust="spacingAndGlyphs">20000</text>
<line x1="1098.5" y1="741.3" x2="1098.5" y2="745.8" stroke="#000" stroke-width="1.1"/>
<text x="1098.5" y="759.1" font-family="'Liberation Sans', sans-serif" font-size="12.3" text-anchor="middle" textLength="37.8" lengthAdjust="spacingAndGlyphs">30000</text>
<line x1="1206.3" y1="741.3" x2="1206.3" y2="745.8" stroke="#000" stroke-width="1.1"/>
<text x="1206.3" y="759.1" font-family="'Liberation Sans', sans-serif" font-size="12.3" text-anchor="middle" textLength="37.8" lengthAdjust="spacingAndGlyphs">40000</text>
<line x1="1314.1" y1="741.3" x2="1314.1" y2="745.8" stroke="#000" stroke-width="1.1"/>
<text x="1314.1" y="759.1" font-family="'Liberation Sans', sans-serif" font-size="12.3" text-anchor="middle" textLength="37.8" lengthAdjust="spacingAndGlyphs">50000</text>
<line x1="743.6" y1="741.3" x2="748.1" y2="741.3" stroke="#000" stroke-width="1.1"/>
<text x="737.8" y="745.7" font-family="'Liberation Sans', sans-serif" font-size="12.3" text-anchor="end" textLength="7.56" lengthAdjust="spacingAndGlyphs">0</text>
<line x1="743.6" y1="689.28" x2="748.1" y2="689.28" stroke="#000" stroke-width="1.1"/>
<text x="737.8" y="693.68" font-family="'Liberation Sans', sans-serif" font-size="12.3" text-anchor="end" textLength="15.12" lengthAdjust="spacingAndGlyphs">20</text>
<line x1="743.6" y1="637.27" x2="748.1" y2="637.27" stroke="#000" stroke-width="1.1"/>
<text x="737.8" y="641.67" font-family="'Liberation Sans', sans-serif" font-size="12.3" text-anchor="end" textLength="15.12" lengthAdjust="spacingAndGlyphs">40</text>
<line x1="743.6" y1="585.25" x2="748.1" y2="585.25" stroke="#000" stroke-width="1.1"/>
<text x="737.8" y="589.65" font-family="'Liberation Sans', sans-serif" font-size="12.3" text-anchor="end" textLength="15.12" lengthAdjust="spacingAndGlyphs">60</text>
<line x1="743.6" y1="533.23" x2="748.1" y2="533.23" stroke="#000" stroke-width="1.1"/>
<text x="737.8" y="537.63" font-family="'Liberation Sans', sans-serif" font-size="12.3" text-anchor="end" textLength="15.12" lengthAdjust="spacingAndGlyphs">80</text>
<line x1="743.6" y1="481.22" x2="748.1" y2="481.22" stroke="#000" stroke-width="1.1"/>
<text x="737.8" y="485.62" font-family="'Liberation Sans', sans-serif" font-size="12.3" text-anchor="end" textLength="22.68" lengthAdjust="spacingAndGlyphs">100</text>
<line x1="743.6" y1="429.2" x2="748.1" y2="429.2" stroke="#000" stroke-width="1.1"/>
<text x="737.8" y="433.6" font-family="'Liberation Sans', sans-serif" font-size="12.3" text-anchor="end" textLength="22.68" lengthAdjust="spacingAndGlyphs">120</text>
<text x="1044.5" y="776" font-family="'Liberation Sans', sans-serif" font-size="12.3" text-anchor="middle" textLength="30.2" lengthAdjust="spacingAndGlyphs">Time</text>
<text transform="translate(707,586.2) rotate(-90)" font-family="'Liberation Sans', sans-serif" font-size="11.6" text-anchor="middle" textLength="47.6" lengthAdjust="spacingAndGlyphs">Set size</text>
<rect x="1206.6" y="435.7" width="128" height="55.6" rx="2.5" ry="2.5" fill="#fff" fill-opacity="0.8" stroke="#cccccc" stroke-width="1"/>
<line x1="1211.1" y1="444.8" x2="1237.9" y2="444.8" stroke="#1f77b4" stroke-width="2"/>
<text x="1247.3" y="449.1" font-family="'Liberation Sans', sans-serif" font-size="12.3" text-anchor="start" textLength="25.3" lengthAdjust="spacingAndGlyphs">MVP</text>
<line x1="1211.1" y1="462.5" x2="1237.9" y2="462.5" stroke="#ff7f0e" stroke-width="2"/>
<text x="1247.3" y="466.8" font-family="'Liberation Sans', sans-serif" font-size="12.3" text-anchor="start" textLength="22.2" lengthAdjust="spacingAndGlyphs">SPS</text>
<line x1="1211.1" y1="480.7" x2="1237.9" y2="480.7" stroke="#2ca02c" stroke-width="2"/>
<text x="1247.3" y="485" font-family="'Liberation Sans', sans-serif" font-size="12.3" text-anchor="start" textLength="80.5" lengthAdjust="spacingAndGlyphs">OCP-Unlock+</text>
<text x="229" y="411.6" font-family="'Liberation Serif', serif" font-size="30.5" textLength="34.7" lengthAdjust="spacingAndGlyphs">(a)</text>
<text x="275" y="411.6" font-family="'Liberation Serif', serif" font-size="30.5" textLength="52.7" lengthAdjust="spacingAndGlyphs"><tspan font-weight="bold">MC</tspan></text>
<text x="327.5" y="411.6" font-family="'Liberation Serif', serif" font-size="30.5" textLength="35.3" lengthAdjust="spacingAndGlyphs">(<tspan font-style="italic">t</tspan>)</text>
<text x="370.8" y="411.6" font-family="'Liberation Serif', serif" font-size="30.5" textLength="77.8" lengthAdjust="spacingAndGlyphs">(i.i.d.)</text>
<text x="907.5" y="409.3" font-family="'Liberation Serif', serif" font-size="30.5" textLength="37.6" lengthAdjust="spacingAndGlyphs">(b)</text>
<text x="955.5" y="409.3" font-family="'Liberation Serif', serif" font-size="30.5" textLength="65.9" lengthAdjust="spacingAndGlyphs"><tspan font-weight="bold">Ineff</tspan></text>
<text x="1020.3" y="409.3" font-family="'Liberation Serif', serif" font-size="30.5" textLength="33.9" lengthAdjust="spacingAndGlyphs">(<tspan font-style="italic">t</tspan>)</text>
<text x="1062.7" y="409.3" font-family="'Liberation Serif', serif" font-size="30.5" textLength="78.1" lengthAdjust="spacingAndGlyphs">(i.i.d.)</text>
<text x="192.5" y="824" font-family="'Liberation Serif', serif" font-size="30.5" textLength="34.7" lengthAdjust="spacingAndGlyphs">(c)</text>
<text x="238.5" y="824" font-family="'Liberation Serif', serif" font-size="30.5" textLength="52.2" lengthAdjust="spacingAndGlyphs"><tspan font-weight="bold">MC</tspan></text>
<text x="289.8" y="824" font-family="'Liberation Serif', serif" font-size="30.5" textLength="35.8" lengthAdjust="spacingAndGlyphs">(<tspan font-style="italic">t</tspan>)</text>
<text x="334" y="824" font-family="'Liberation Serif', serif" font-size="30.5" textLength="141.9" lengthAdjust="spacingAndGlyphs">(Non-i.i.d.)</text>
<text x="871.7" y="823.6" font-family="'Liberation Serif', serif" font-size="30.5" textLength="36.9" lengthAdjust="spacingAndGlyphs">(d)</text>
<text x="919.1" y="823.6" font-family="'Liberation Serif', serif" font-size="30.5" textLength="64.3" lengthAdjust="spacingAndGlyphs"><tspan font-weight="bold">Ineff</tspan></text>
<text x="982.5" y="823.6" font-family="'Liberation Serif', serif" font-size="30.5" textLength="35.7" lengthAdjust="spacingAndGlyphs">(<tspan font-style="italic">t</tspan>)</text>
<text x="1027.7" y="823.6" font-family="'Liberation Serif', serif" font-size="30.5" textLength="140.6" lengthAdjust="spacingAndGlyphs">(Non-i.i.d.)</text>
</svg>
</body></html>
